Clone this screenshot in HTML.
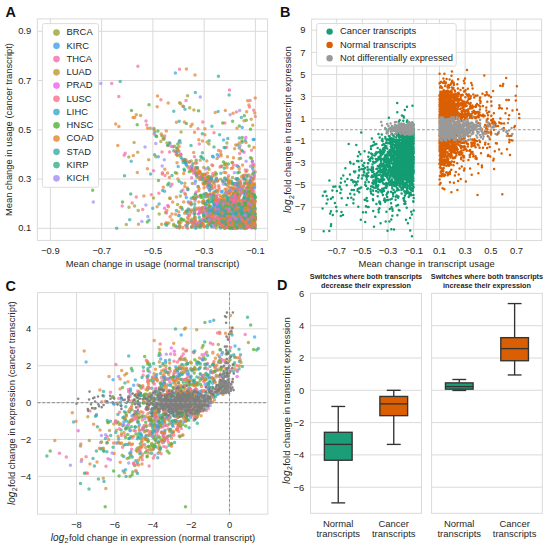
<!DOCTYPE html>
<html><head><meta charset="utf-8"><style>
html,body{margin:0;padding:0;background:#fff;width:550px;height:547px;overflow:hidden}
svg{display:block;font-family:"Liberation Sans", sans-serif}
</style></head><body>
<svg width="550" height="547" viewBox="0 0 550 547">
<rect width="550" height="547" fill="#fff"/>
<line x1="50.40" x2="50.40" y1="18.9" y2="240.4" stroke="#dadada" stroke-width="1"/>
<line x1="101.65" x2="101.65" y1="18.9" y2="240.4" stroke="#dadada" stroke-width="1"/>
<line x1="152.90" x2="152.90" y1="18.9" y2="240.4" stroke="#dadada" stroke-width="1"/>
<line x1="204.15" x2="204.15" y1="18.9" y2="240.4" stroke="#dadada" stroke-width="1"/>
<line x1="255.40" x2="255.40" y1="18.9" y2="240.4" stroke="#dadada" stroke-width="1"/>
<line x1="37.4" x2="267.6" y1="228.30" y2="228.30" stroke="#dadada" stroke-width="1"/>
<line x1="37.4" x2="267.6" y1="179.05" y2="179.05" stroke="#dadada" stroke-width="1"/>
<line x1="37.4" x2="267.6" y1="129.80" y2="129.80" stroke="#dadada" stroke-width="1"/>
<line x1="37.4" x2="267.6" y1="80.55" y2="80.55" stroke="#dadada" stroke-width="1"/>
<line x1="37.4" x2="267.6" y1="31.30" y2="31.30" stroke="#dadada" stroke-width="1"/>
<rect x="37.4" y="18.9" width="230.20" height="221.50" fill="none" stroke="#dadada" stroke-width="1"/>
<g>
<path d="M207.8 214.6h0M205.0 182.6h0M194.7 207.8h0M244.2 200.0h0M204.4 183.9h0M253.7 215.0h0M245.1 219.9h0M251.9 218.9h0M218.8 210.4h0M254.0 139.5h0" stroke="#34af8a" stroke-width="3.5" stroke-linecap="round" fill="none" stroke-opacity="0.72"/>
<path d="M233.7 198.3h0M247.2 206.3h0M210.5 194.5h0M203.6 158.9h0M254.3 203.7h0M250.8 222.5h0M254.0 224.7h0M241.4 117.6h0M208.6 207.8h0M255.3 228.2h0" stroke="#36ada4" stroke-width="3.5" stroke-linecap="round" fill="none" stroke-opacity="0.72"/>
<path d="M231.6 209.8h0M195.0 201.1h0M237.1 225.5h0M243.4 224.7h0M228.2 217.6h0" stroke="#f77189" stroke-width="3.5" stroke-linecap="round" fill="none" stroke-opacity="0.72"/>
<path d="M171.9 219.9h0M254.4 176.0h0M198.8 190.7h0M249.9 204.4h0M189.4 215.6h0M192.5 223.5h0M228.6 180.5h0M247.7 100.8h0M183.7 202.0h0M198.1 224.7h0M244.0 120.8h0M244.3 190.6h0M232.5 227.7h0" stroke="#e68332" stroke-width="3.5" stroke-linecap="round" fill="none" stroke-opacity="0.72"/>
<path d="M255.2 213.9h0M239.3 126.0h0M254.3 207.0h0M252.6 204.5h0" stroke="#50b131" stroke-width="3.5" stroke-linecap="round" fill="none" stroke-opacity="0.72"/>
<path d="M213.2 209.3h0M239.4 204.6h0M236.2 196.9h0" stroke="#97a431" stroke-width="3.5" stroke-linecap="round" fill="none" stroke-opacity="0.72"/>
<path d="M248.8 193.0h0M244.3 214.0h0M237.9 198.4h0M236.1 211.5h0M252.9 207.9h0" stroke="#f66bad" stroke-width="3.5" stroke-linecap="round" fill="none" stroke-opacity="0.72"/>
<path d="M245.8 193.6h0M205.8 180.6h0M245.9 183.3h0" stroke="#a48cf4" stroke-width="3.5" stroke-linecap="round" fill="none" stroke-opacity="0.72"/>
<path d="M200.2 160.3h0M195.5 220.3h0" stroke="#bb9832" stroke-width="3.5" stroke-linecap="round" fill="none" stroke-opacity="0.72"/>
<path d="M247.0 202.9h0M222.6 221.8h0" stroke="#f45cf2" stroke-width="3.5" stroke-linecap="round" fill="none" stroke-opacity="0.72"/>
<path d="M225.4 147.8h0M218.6 218.3h0M222.6 200.3h0" stroke="#3ba3ec" stroke-width="3.5" stroke-linecap="round" fill="none" stroke-opacity="0.72"/>
<path d="M245.4 194.8h0M233.5 203.4h0M209.3 210.2h0M234.9 200.1h0M218.9 207.4h0" stroke="#36ada4" stroke-width="3.5" stroke-linecap="round" fill="none" stroke-opacity="0.72"/>
<path d="M244.1 222.7h0M234.4 172.8h0M170.6 186.2h0" stroke="#a48cf4" stroke-width="3.5" stroke-linecap="round" fill="none" stroke-opacity="0.72"/>
<path d="M250.5 197.1h0M211.7 218.6h0M244.1 220.2h0M207.5 173.1h0M254.6 186.1h0M245.8 227.2h0M249.5 221.7h0M243.4 219.3h0M242.2 205.0h0M224.3 200.3h0M201.4 222.7h0M199.9 220.6h0M246.8 209.9h0" stroke="#e68332" stroke-width="3.5" stroke-linecap="round" fill="none" stroke-opacity="0.72"/>
<path d="M252.7 214.4h0M164.8 136.0h0M203.7 216.2h0M176.3 154.4h0M217.7 206.1h0M209.7 209.1h0M234.8 226.9h0" stroke="#f77189" stroke-width="3.5" stroke-linecap="round" fill="none" stroke-opacity="0.72"/>
<path d="M187.1 213.6h0M218.8 204.3h0M253.3 198.0h0M216.9 218.4h0M240.6 211.4h0M249.0 201.1h0" stroke="#38a9c5" stroke-width="3.5" stroke-linecap="round" fill="none" stroke-opacity="0.72"/>
<path d="M182.1 159.0h0M192.0 226.6h0M241.4 221.3h0M223.5 207.9h0M250.4 208.8h0" stroke="#3ba3ec" stroke-width="3.5" stroke-linecap="round" fill="none" stroke-opacity="0.72"/>
<path d="M235.3 212.1h0M157.9 131.0h0" stroke="#50b131" stroke-width="3.5" stroke-linecap="round" fill="none" stroke-opacity="0.72"/>
<path d="M246.6 192.4h0M251.8 223.7h0M218.7 185.8h0M184.8 161.0h0M227.5 202.7h0" stroke="#f66bad" stroke-width="3.5" stroke-linecap="round" fill="none" stroke-opacity="0.72"/>
<path d="M230.9 214.8h0M232.5 177.5h0M244.4 227.8h0" stroke="#97a431" stroke-width="3.5" stroke-linecap="round" fill="none" stroke-opacity="0.72"/>
<path d="M253.7 202.3h0M239.2 221.2h0M173.8 150.7h0M228.3 164.0h0M249.3 200.8h0M211.0 206.4h0" stroke="#34af8a" stroke-width="3.5" stroke-linecap="round" fill="none" stroke-opacity="0.72"/>
<path d="M148.7 159.7h0" stroke="#bb9832" stroke-width="3.5" stroke-linecap="round" fill="none" stroke-opacity="0.72"/>
<path d="M243.5 186.2h0M227.5 221.7h0M184.2 160.6h0M245.1 225.5h0" stroke="#f45cf2" stroke-width="3.5" stroke-linecap="round" fill="none" stroke-opacity="0.72"/>
<path d="M236.0 213.3h0M252.9 202.7h0M211.7 212.6h0M244.0 199.1h0M250.1 180.8h0M240.4 185.9h0M206.6 180.9h0M231.5 214.6h0M254.0 199.3h0M221.0 226.6h0" stroke="#f77189" stroke-width="3.5" stroke-linecap="round" fill="none" stroke-opacity="0.72"/>
<path d="M227.0 210.0h0M215.5 214.4h0M230.0 225.3h0M179.3 141.6h0M191.1 170.5h0M183.5 106.4h0M214.9 191.4h0M210.1 216.1h0M216.1 225.7h0" stroke="#36ada4" stroke-width="3.5" stroke-linecap="round" fill="none" stroke-opacity="0.72"/>
<path d="M250.4 196.6h0M250.1 202.8h0M255.2 209.4h0M240.7 181.8h0M208.9 143.9h0" stroke="#97a431" stroke-width="3.5" stroke-linecap="round" fill="none" stroke-opacity="0.72"/>
<path d="M235.6 209.4h0M137.7 152.2h0M229.4 190.5h0M230.6 183.5h0M214.1 223.0h0" stroke="#bb9832" stroke-width="3.5" stroke-linecap="round" fill="none" stroke-opacity="0.72"/>
<path d="M225.9 179.3h0M164.3 159.8h0M178.5 215.8h0" stroke="#a48cf4" stroke-width="3.5" stroke-linecap="round" fill="none" stroke-opacity="0.72"/>
<path d="M225.9 219.6h0M249.1 222.7h0M236.1 222.2h0M184.5 170.6h0M241.0 210.7h0M237.8 172.7h0M224.6 215.5h0M225.7 201.8h0M233.2 209.9h0" stroke="#34af8a" stroke-width="3.5" stroke-linecap="round" fill="none" stroke-opacity="0.72"/>
<path d="M219.0 218.0h0M219.4 216.1h0M207.4 221.1h0M220.4 204.6h0M250.1 193.8h0M234.1 211.6h0M237.3 184.9h0M188.8 222.8h0" stroke="#e68332" stroke-width="3.5" stroke-linecap="round" fill="none" stroke-opacity="0.72"/>
<path d="M254.0 220.4h0M181.6 207.6h0M185.0 161.9h0M253.4 222.5h0" stroke="#50b131" stroke-width="3.5" stroke-linecap="round" fill="none" stroke-opacity="0.72"/>
<path d="M196.7 163.1h0" stroke="#f45cf2" stroke-width="3.5" stroke-linecap="round" fill="none" stroke-opacity="0.72"/>
<path d="M229.5 90.0h0M154.2 134.1h0M209.1 184.4h0" stroke="#f66bad" stroke-width="3.5" stroke-linecap="round" fill="none" stroke-opacity="0.72"/>
<path d="M249.5 201.2h0M245.2 202.5h0M231.9 226.7h0" stroke="#3ba3ec" stroke-width="3.5" stroke-linecap="round" fill="none" stroke-opacity="0.72"/>
<path d="M222.8 196.6h0M187.8 211.5h0M201.9 157.6h0M221.3 226.2h0M217.2 199.2h0M199.1 226.9h0M206.2 180.9h0M234.0 224.3h0M194.9 219.1h0M205.4 196.9h0M238.1 209.2h0M194.7 204.2h0M239.1 183.7h0" stroke="#34af8a" stroke-width="3.5" stroke-linecap="round" fill="none" stroke-opacity="0.72"/>
<path d="M232.2 206.4h0M249.8 209.3h0M250.9 188.2h0M163.7 139.3h0M241.9 140.7h0M231.8 228.0h0M233.0 193.9h0" stroke="#97a431" stroke-width="3.5" stroke-linecap="round" fill="none" stroke-opacity="0.72"/>
<path d="M162.3 174.1h0M228.4 197.8h0M251.6 219.4h0M180.8 222.5h0M184.9 183.2h0M163.3 187.2h0M246.1 171.8h0M205.0 180.4h0M236.3 200.9h0M233.9 201.5h0M231.8 215.9h0M254.4 227.5h0" stroke="#e68332" stroke-width="3.5" stroke-linecap="round" fill="none" stroke-opacity="0.72"/>
<path d="M220.0 202.0h0M244.1 152.3h0" stroke="#f45cf2" stroke-width="3.5" stroke-linecap="round" fill="none" stroke-opacity="0.72"/>
<path d="M209.4 176.6h0M253.5 191.1h0" stroke="#f66bad" stroke-width="3.5" stroke-linecap="round" fill="none" stroke-opacity="0.72"/>
<path d="M228.7 215.7h0M179.2 121.3h0" stroke="#36ada4" stroke-width="3.5" stroke-linecap="round" fill="none" stroke-opacity="0.72"/>
<path d="M241.6 208.1h0M211.3 178.8h0M246.3 120.2h0M186.3 123.4h0M253.4 209.1h0M215.6 206.7h0M248.7 219.6h0M245.1 201.1h0M158.5 227.4h0M207.7 176.6h0" stroke="#50b131" stroke-width="3.5" stroke-linecap="round" fill="none" stroke-opacity="0.72"/>
<path d="M237.8 196.5h0M245.8 215.4h0M241.4 212.6h0" stroke="#a48cf4" stroke-width="3.5" stroke-linecap="round" fill="none" stroke-opacity="0.72"/>
<path d="M215.0 219.3h0M192.2 166.1h0M231.4 207.7h0M202.8 122.1h0M249.7 224.2h0M240.6 218.8h0" stroke="#f77189" stroke-width="3.5" stroke-linecap="round" fill="none" stroke-opacity="0.72"/>
<path d="M237.7 204.0h0" stroke="#38a9c5" stroke-width="3.5" stroke-linecap="round" fill="none" stroke-opacity="0.72"/>
<path d="M214.7 175.1h0M246.4 223.6h0" stroke="#bb9832" stroke-width="3.5" stroke-linecap="round" fill="none" stroke-opacity="0.72"/>
<path d="M246.9 225.2h0M192.9 163.7h0M253.5 210.9h0M249.9 193.2h0M223.9 222.2h0M240.0 226.7h0M252.9 204.7h0M234.1 183.8h0M227.4 200.3h0M233.8 193.6h0M203.8 183.2h0" stroke="#34af8a" stroke-width="3.5" stroke-linecap="round" fill="none" stroke-opacity="0.72"/>
<path d="M242.7 189.1h0M235.7 193.7h0M255.0 212.8h0M244.7 192.9h0M253.9 218.5h0M254.8 212.8h0M243.6 228.2h0M207.2 201.2h0M226.7 208.7h0" stroke="#e68332" stroke-width="3.5" stroke-linecap="round" fill="none" stroke-opacity="0.72"/>
<path d="M193.2 198.1h0M239.3 148.0h0M252.6 168.2h0M234.3 218.3h0M252.9 206.0h0" stroke="#36ada4" stroke-width="3.5" stroke-linecap="round" fill="none" stroke-opacity="0.72"/>
<path d="M209.1 195.1h0M218.1 208.5h0M243.4 225.4h0M232.6 121.2h0M253.4 212.6h0M217.2 211.4h0M131.5 110.6h0" stroke="#50b131" stroke-width="3.5" stroke-linecap="round" fill="none" stroke-opacity="0.72"/>
<path d="M195.6 173.6h0M245.5 201.8h0M224.7 202.3h0M253.8 207.4h0M205.1 215.7h0M243.1 219.1h0M175.2 151.7h0M252.5 209.6h0M251.8 228.1h0" stroke="#f77189" stroke-width="3.5" stroke-linecap="round" fill="none" stroke-opacity="0.72"/>
<path d="M197.9 196.4h0M249.9 220.4h0" stroke="#f66bad" stroke-width="3.5" stroke-linecap="round" fill="none" stroke-opacity="0.72"/>
<path d="M251.0 194.9h0M245.9 211.3h0M173.7 224.2h0M204.0 202.9h0M217.7 180.2h0" stroke="#97a431" stroke-width="3.5" stroke-linecap="round" fill="none" stroke-opacity="0.72"/>
<path d="M243.6 200.6h0" stroke="#f45cf2" stroke-width="3.5" stroke-linecap="round" fill="none" stroke-opacity="0.72"/>
<path d="M223.4 203.6h0M232.7 207.8h0M213.6 203.8h0M226.5 217.5h0M238.2 217.3h0" stroke="#38a9c5" stroke-width="3.5" stroke-linecap="round" fill="none" stroke-opacity="0.72"/>
<path d="M245.9 210.6h0" stroke="#bb9832" stroke-width="3.5" stroke-linecap="round" fill="none" stroke-opacity="0.72"/>
<path d="M251.4 209.1h0M253.4 213.0h0M224.1 220.5h0" stroke="#a48cf4" stroke-width="3.5" stroke-linecap="round" fill="none" stroke-opacity="0.72"/>
<path d="M252.1 188.2h0M253.4 213.3h0" stroke="#3ba3ec" stroke-width="3.5" stroke-linecap="round" fill="none" stroke-opacity="0.72"/>
<path d="M249.2 217.6h0M212.1 181.2h0M243.6 175.8h0M220.8 153.9h0M235.3 225.3h0" stroke="#bb9832" stroke-width="3.5" stroke-linecap="round" fill="none" stroke-opacity="0.72"/>
<path d="M250.4 219.5h0M153.9 128.4h0M225.6 196.0h0M162.6 190.4h0M253.8 225.2h0" stroke="#38a9c5" stroke-width="3.5" stroke-linecap="round" fill="none" stroke-opacity="0.72"/>
<path d="M238.3 209.1h0M201.5 178.7h0M118.9 126.6h0M248.1 195.2h0M251.5 221.5h0M198.8 202.0h0M245.9 227.8h0M232.9 221.1h0M220.6 222.1h0M176.4 196.9h0M240.6 212.2h0M203.4 211.0h0" stroke="#e68332" stroke-width="3.5" stroke-linecap="round" fill="none" stroke-opacity="0.72"/>
<path d="M253.0 184.7h0M159.2 213.9h0" stroke="#97a431" stroke-width="3.5" stroke-linecap="round" fill="none" stroke-opacity="0.72"/>
<path d="M246.9 226.5h0M234.7 208.3h0M179.8 140.8h0M244.4 210.8h0M229.1 221.6h0M247.6 190.9h0M214.7 205.2h0M230.3 215.1h0M181.2 218.7h0M243.7 220.9h0M189.6 161.8h0" stroke="#34af8a" stroke-width="3.5" stroke-linecap="round" fill="none" stroke-opacity="0.72"/>
<path d="M223.7 214.1h0M212.1 226.6h0M249.2 185.1h0M244.8 179.8h0M243.5 211.4h0" stroke="#f66bad" stroke-width="3.5" stroke-linecap="round" fill="none" stroke-opacity="0.72"/>
<path d="M241.7 212.1h0M230.5 216.4h0M253.2 210.4h0M246.4 222.5h0M210.0 222.2h0" stroke="#f77189" stroke-width="3.5" stroke-linecap="round" fill="none" stroke-opacity="0.72"/>
<path d="M253.7 177.9h0M232.7 207.6h0" stroke="#f45cf2" stroke-width="3.5" stroke-linecap="round" fill="none" stroke-opacity="0.72"/>
<path d="M213.5 207.0h0M226.1 220.2h0M244.0 206.3h0M231.4 197.0h0" stroke="#3ba3ec" stroke-width="3.5" stroke-linecap="round" fill="none" stroke-opacity="0.72"/>
<path d="M164.1 138.3h0M226.6 211.7h0M213.7 200.9h0M228.0 196.9h0M235.4 184.5h0M202.1 176.3h0" stroke="#36ada4" stroke-width="3.5" stroke-linecap="round" fill="none" stroke-opacity="0.72"/>
<path d="M232.1 162.4h0" stroke="#50b131" stroke-width="3.5" stroke-linecap="round" fill="none" stroke-opacity="0.72"/>
<path d="M147.8 216.6h0M190.7 202.0h0" stroke="#a48cf4" stroke-width="3.5" stroke-linecap="round" fill="none" stroke-opacity="0.72"/>
<path d="M136.3 114.7h0M235.7 222.0h0M203.7 167.5h0M251.2 119.3h0" stroke="#bb9832" stroke-width="3.5" stroke-linecap="round" fill="none" stroke-opacity="0.72"/>
<path d="M246.1 217.0h0M213.3 216.2h0M205.8 208.7h0M219.9 217.0h0M254.5 195.5h0M247.6 193.3h0" stroke="#f66bad" stroke-width="3.5" stroke-linecap="round" fill="none" stroke-opacity="0.72"/>
<path d="M202.3 202.0h0M240.1 226.9h0M245.2 207.3h0M187.2 222.3h0M245.2 194.4h0M246.5 209.5h0M211.0 222.2h0M241.5 189.5h0" stroke="#34af8a" stroke-width="3.5" stroke-linecap="round" fill="none" stroke-opacity="0.72"/>
<path d="M251.1 227.4h0M212.4 188.6h0M201.7 178.3h0" stroke="#a48cf4" stroke-width="3.5" stroke-linecap="round" fill="none" stroke-opacity="0.72"/>
<path d="M234.5 205.0h0M211.2 210.4h0M209.3 215.2h0M221.9 206.5h0M208.3 203.8h0M254.9 215.5h0M232.9 226.3h0M226.4 192.0h0M235.5 208.6h0" stroke="#f77189" stroke-width="3.5" stroke-linecap="round" fill="none" stroke-opacity="0.72"/>
<path d="M247.2 216.6h0M250.9 208.5h0M245.2 220.1h0" stroke="#38a9c5" stroke-width="3.5" stroke-linecap="round" fill="none" stroke-opacity="0.72"/>
<path d="M254.2 219.3h0M244.2 210.6h0M254.3 226.7h0M204.9 128.8h0M161.6 224.2h0M225.8 213.2h0M249.7 209.7h0M229.8 225.0h0" stroke="#e68332" stroke-width="3.5" stroke-linecap="round" fill="none" stroke-opacity="0.72"/>
<path d="M250.4 191.7h0" stroke="#f45cf2" stroke-width="3.5" stroke-linecap="round" fill="none" stroke-opacity="0.72"/>
<path d="M237.5 219.9h0M217.1 217.3h0M249.1 211.4h0M223.8 204.2h0" stroke="#97a431" stroke-width="3.5" stroke-linecap="round" fill="none" stroke-opacity="0.72"/>
<path d="M206.9 180.5h0M248.6 214.4h0M234.0 211.0h0M212.5 156.2h0M209.0 180.6h0M223.0 210.5h0M240.5 204.2h0M216.2 202.3h0M248.2 212.1h0" stroke="#36ada4" stroke-width="3.5" stroke-linecap="round" fill="none" stroke-opacity="0.72"/>
<path d="M221.1 225.7h0" stroke="#3ba3ec" stroke-width="3.5" stroke-linecap="round" fill="none" stroke-opacity="0.72"/>
<path d="M250.1 180.5h0M237.2 218.3h0M244.7 191.5h0M240.2 224.6h0" stroke="#50b131" stroke-width="3.5" stroke-linecap="round" fill="none" stroke-opacity="0.72"/>
<path d="M229.1 202.4h0M243.8 213.1h0M249.1 224.4h0M238.7 209.9h0M231.6 181.5h0M236.0 226.0h0M223.0 218.8h0M229.6 204.0h0M229.0 221.8h0M173.1 146.7h0M248.3 187.2h0" stroke="#34af8a" stroke-width="3.5" stroke-linecap="round" fill="none" stroke-opacity="0.72"/>
<path d="M248.8 221.6h0M248.8 203.8h0M246.3 211.8h0M228.6 175.7h0M208.8 218.8h0M214.5 219.6h0M215.0 211.8h0" stroke="#f77189" stroke-width="3.5" stroke-linecap="round" fill="none" stroke-opacity="0.72"/>
<path d="M248.9 197.0h0M253.9 214.3h0M211.9 126.2h0M250.4 202.4h0" stroke="#36ada4" stroke-width="3.5" stroke-linecap="round" fill="none" stroke-opacity="0.72"/>
<path d="M228.0 177.8h0M168.3 145.5h0M209.9 218.2h0M178.8 211.9h0M228.4 186.2h0M199.7 222.2h0M211.5 185.6h0M177.9 178.9h0M220.3 203.5h0" stroke="#e68332" stroke-width="3.5" stroke-linecap="round" fill="none" stroke-opacity="0.72"/>
<path d="M223.3 222.7h0M209.9 224.5h0" stroke="#f45cf2" stroke-width="3.5" stroke-linecap="round" fill="none" stroke-opacity="0.72"/>
<path d="M229.7 191.9h0M226.5 198.2h0M199.6 212.3h0M235.8 184.2h0M233.9 211.6h0M255.3 218.1h0M247.2 220.4h0" stroke="#97a431" stroke-width="3.5" stroke-linecap="round" fill="none" stroke-opacity="0.72"/>
<path d="M216.9 208.5h0M209.2 182.7h0M152.7 208.2h0M249.5 212.6h0" stroke="#38a9c5" stroke-width="3.5" stroke-linecap="round" fill="none" stroke-opacity="0.72"/>
<path d="M248.3 219.7h0M146.0 120.9h0M212.8 173.5h0M249.9 209.8h0M243.2 177.1h0M205.2 174.3h0M228.4 222.1h0M217.2 198.6h0" stroke="#f66bad" stroke-width="3.5" stroke-linecap="round" fill="none" stroke-opacity="0.72"/>
<path d="M250.9 190.4h0M196.5 225.7h0" stroke="#bb9832" stroke-width="3.5" stroke-linecap="round" fill="none" stroke-opacity="0.72"/>
<path d="M229.0 191.6h0M240.6 158.3h0" stroke="#3ba3ec" stroke-width="3.5" stroke-linecap="round" fill="none" stroke-opacity="0.72"/>
<path d="M246.2 188.0h0M167.8 184.8h0M202.5 197.4h0" stroke="#50b131" stroke-width="3.5" stroke-linecap="round" fill="none" stroke-opacity="0.72"/>
<path d="M240.8 218.9h0" stroke="#a48cf4" stroke-width="3.5" stroke-linecap="round" fill="none" stroke-opacity="0.72"/>
<path d="M254.6 223.0h0M211.7 226.8h0M206.8 211.0h0M238.8 213.1h0M227.5 224.4h0M246.5 215.7h0M248.2 186.7h0" stroke="#36ada4" stroke-width="3.5" stroke-linecap="round" fill="none" stroke-opacity="0.72"/>
<path d="M228.7 217.0h0M235.8 224.9h0M253.4 206.2h0M194.9 223.7h0M209.4 221.4h0M134.7 117.4h0M244.2 211.8h0M180.3 207.3h0M243.9 213.1h0M187.8 166.8h0M177.0 227.3h0M166.3 131.1h0M209.1 188.1h0M172.0 214.1h0M240.5 183.5h0M253.9 147.6h0M210.1 213.7h0M254.7 224.2h0M243.2 216.4h0" stroke="#e68332" stroke-width="3.5" stroke-linecap="round" fill="none" stroke-opacity="0.72"/>
<path d="M177.2 154.7h0" stroke="#38a9c5" stroke-width="3.5" stroke-linecap="round" fill="none" stroke-opacity="0.72"/>
<path d="M136.3 196.9h0M245.9 217.7h0M230.6 192.0h0M197.2 208.3h0M240.0 216.9h0M237.0 198.4h0M223.4 213.3h0M160.9 99.7h0M226.8 185.0h0" stroke="#f77189" stroke-width="3.5" stroke-linecap="round" fill="none" stroke-opacity="0.72"/>
<path d="M194.9 213.7h0M250.8 207.7h0M243.6 217.1h0M219.8 223.3h0M253.0 205.0h0M154.6 154.7h0M236.7 203.3h0M243.7 222.7h0" stroke="#34af8a" stroke-width="3.5" stroke-linecap="round" fill="none" stroke-opacity="0.72"/>
<path d="M228.2 223.6h0M198.5 174.0h0M229.3 206.0h0M161.9 135.7h0M147.3 222.1h0M206.7 177.9h0" stroke="#50b131" stroke-width="3.5" stroke-linecap="round" fill="none" stroke-opacity="0.72"/>
<path d="M231.0 221.7h0M210.9 179.4h0" stroke="#f45cf2" stroke-width="3.5" stroke-linecap="round" fill="none" stroke-opacity="0.72"/>
<path d="M240.5 201.4h0M244.7 225.6h0M243.3 214.4h0" stroke="#bb9832" stroke-width="3.5" stroke-linecap="round" fill="none" stroke-opacity="0.72"/>
<path d="M182.7 220.1h0" stroke="#97a431" stroke-width="3.5" stroke-linecap="round" fill="none" stroke-opacity="0.72"/>
<path d="M224.5 182.2h0M145.9 205.1h0" stroke="#a48cf4" stroke-width="3.5" stroke-linecap="round" fill="none" stroke-opacity="0.72"/>
<path d="M197.1 173.2h0" stroke="#f66bad" stroke-width="3.5" stroke-linecap="round" fill="none" stroke-opacity="0.72"/>
<path d="M236.5 222.3h0" stroke="#3ba3ec" stroke-width="3.5" stroke-linecap="round" fill="none" stroke-opacity="0.72"/>
<path d="M214.2 223.4h0M226.5 195.3h0M232.8 214.4h0M207.6 180.8h0" stroke="#38a9c5" stroke-width="3.5" stroke-linecap="round" fill="none" stroke-opacity="0.72"/>
<path d="M204.1 194.2h0M204.4 174.6h0M165.5 212.4h0M223.5 216.0h0M209.6 223.9h0" stroke="#97a431" stroke-width="3.5" stroke-linecap="round" fill="none" stroke-opacity="0.72"/>
<path d="M169.6 152.0h0M224.9 123.0h0M192.5 169.9h0M241.7 210.4h0M225.9 212.2h0" stroke="#f77189" stroke-width="3.5" stroke-linecap="round" fill="none" stroke-opacity="0.72"/>
<path d="M233.6 194.5h0M141.9 221.5h0M245.3 196.0h0M242.1 226.1h0M246.6 189.1h0M250.1 223.1h0M223.8 212.6h0" stroke="#a48cf4" stroke-width="3.5" stroke-linecap="round" fill="none" stroke-opacity="0.72"/>
<path d="M241.3 150.2h0M117.8 145.6h0M237.9 198.4h0M182.7 227.5h0M244.2 201.9h0M222.5 209.3h0M191.6 169.1h0M216.2 223.9h0M235.0 226.5h0M177.5 155.6h0M227.8 208.9h0M206.8 161.0h0M230.4 204.4h0" stroke="#e68332" stroke-width="3.5" stroke-linecap="round" fill="none" stroke-opacity="0.72"/>
<path d="M203.9 216.1h0M184.0 219.9h0M244.1 201.0h0M246.3 223.5h0M244.0 228.0h0M245.7 228.0h0" stroke="#50b131" stroke-width="3.5" stroke-linecap="round" fill="none" stroke-opacity="0.72"/>
<path d="M224.0 211.6h0M247.7 217.5h0M215.0 210.8h0M249.0 203.2h0M242.5 218.4h0M236.8 196.2h0" stroke="#34af8a" stroke-width="3.5" stroke-linecap="round" fill="none" stroke-opacity="0.72"/>
<path d="M231.8 197.0h0M225.9 222.1h0" stroke="#3ba3ec" stroke-width="3.5" stroke-linecap="round" fill="none" stroke-opacity="0.72"/>
<path d="M228.7 227.7h0M249.6 204.1h0M125.2 153.3h0M247.4 184.5h0" stroke="#f66bad" stroke-width="3.5" stroke-linecap="round" fill="none" stroke-opacity="0.72"/>
<path d="M236.9 213.7h0M239.1 203.9h0M184.6 213.2h0M208.4 219.6h0M174.6 146.2h0M209.1 223.6h0" stroke="#bb9832" stroke-width="3.5" stroke-linecap="round" fill="none" stroke-opacity="0.72"/>
<path d="M250.0 220.3h0" stroke="#36ada4" stroke-width="3.5" stroke-linecap="round" fill="none" stroke-opacity="0.72"/>
<path d="M243.8 200.1h0" stroke="#f45cf2" stroke-width="3.5" stroke-linecap="round" fill="none" stroke-opacity="0.72"/>
<path d="M252.9 221.2h0M221.9 216.7h0M213.5 209.6h0M167.0 223.6h0M205.8 208.2h0M229.3 223.3h0M214.9 224.3h0M248.0 222.3h0M226.0 227.1h0M218.6 150.5h0M236.5 226.5h0M185.6 211.7h0M252.6 188.8h0M214.3 194.3h0M167.6 172.9h0" stroke="#e68332" stroke-width="3.5" stroke-linecap="round" fill="none" stroke-opacity="0.72"/>
<path d="M252.3 223.2h0M234.3 195.2h0M233.4 164.9h0M235.1 211.6h0M231.0 219.0h0M211.3 216.6h0M205.6 179.0h0M142.7 209.6h0" stroke="#f77189" stroke-width="3.5" stroke-linecap="round" fill="none" stroke-opacity="0.72"/>
<path d="M249.2 191.3h0M227.2 209.3h0M165.4 224.2h0M184.0 169.2h0M251.1 207.0h0M233.1 214.5h0" stroke="#34af8a" stroke-width="3.5" stroke-linecap="round" fill="none" stroke-opacity="0.72"/>
<path d="M206.5 221.7h0M237.6 221.2h0M232.4 199.8h0M242.2 137.5h0M237.7 192.0h0M249.1 145.9h0M236.2 195.9h0M225.9 227.9h0" stroke="#50b131" stroke-width="3.5" stroke-linecap="round" fill="none" stroke-opacity="0.72"/>
<path d="M185.0 109.3h0M247.6 206.0h0M178.2 166.5h0" stroke="#38a9c5" stroke-width="3.5" stroke-linecap="round" fill="none" stroke-opacity="0.72"/>
<path d="M214.7 182.2h0M238.1 189.4h0" stroke="#f45cf2" stroke-width="3.5" stroke-linecap="round" fill="none" stroke-opacity="0.72"/>
<path d="M122.2 206.0h0M238.6 213.8h0M208.9 216.8h0M254.5 210.8h0M252.1 227.5h0M230.6 225.7h0M254.8 219.5h0" stroke="#f66bad" stroke-width="3.5" stroke-linecap="round" fill="none" stroke-opacity="0.72"/>
<path d="M244.3 219.7h0M208.3 199.9h0M196.3 227.8h0M191.2 161.0h0" stroke="#bb9832" stroke-width="3.5" stroke-linecap="round" fill="none" stroke-opacity="0.72"/>
<path d="M244.6 198.1h0M233.4 205.3h0" stroke="#36ada4" stroke-width="3.5" stroke-linecap="round" fill="none" stroke-opacity="0.72"/>
<path d="M186.3 197.5h0" stroke="#3ba3ec" stroke-width="3.5" stroke-linecap="round" fill="none" stroke-opacity="0.72"/>
<path d="M134.6 205.9h0M224.8 212.3h0M179.3 228.0h0" stroke="#97a431" stroke-width="3.5" stroke-linecap="round" fill="none" stroke-opacity="0.72"/>
<path d="M211.6 209.5h0" stroke="#a48cf4" stroke-width="3.5" stroke-linecap="round" fill="none" stroke-opacity="0.72"/>
<path d="M182.2 209.2h0M202.8 207.8h0M250.6 215.3h0M222.1 208.3h0M241.4 222.8h0M154.8 132.0h0M244.7 210.5h0M230.0 199.2h0" stroke="#36ada4" stroke-width="3.5" stroke-linecap="round" fill="none" stroke-opacity="0.72"/>
<path d="M149.0 104.8h0M224.7 164.8h0M238.6 221.2h0M223.9 204.0h0M249.6 225.6h0M246.3 212.9h0M200.9 195.2h0M237.8 179.2h0" stroke="#50b131" stroke-width="3.5" stroke-linecap="round" fill="none" stroke-opacity="0.72"/>
<path d="M238.4 223.8h0M184.8 186.6h0M218.0 214.0h0M235.9 206.8h0M176.9 173.2h0M254.3 183.8h0M194.5 218.8h0M243.5 205.3h0M168.2 103.0h0M180.0 154.9h0M192.2 124.3h0M175.6 214.3h0M248.9 105.1h0M199.8 171.7h0M232.1 225.0h0M247.0 170.2h0" stroke="#e68332" stroke-width="3.5" stroke-linecap="round" fill="none" stroke-opacity="0.72"/>
<path d="M227.9 203.3h0M239.4 212.2h0" stroke="#bb9832" stroke-width="3.5" stroke-linecap="round" fill="none" stroke-opacity="0.72"/>
<path d="M252.6 212.4h0M180.2 142.7h0M215.9 209.0h0" stroke="#a48cf4" stroke-width="3.5" stroke-linecap="round" fill="none" stroke-opacity="0.72"/>
<path d="M244.2 208.0h0M159.1 203.9h0M235.8 198.4h0" stroke="#38a9c5" stroke-width="3.5" stroke-linecap="round" fill="none" stroke-opacity="0.72"/>
<path d="M249.1 223.0h0M155.9 136.0h0M191.2 204.7h0M251.8 224.5h0M246.4 227.9h0M249.7 205.8h0M237.6 145.1h0M253.9 218.5h0" stroke="#34af8a" stroke-width="3.5" stroke-linecap="round" fill="none" stroke-opacity="0.72"/>
<path d="M237.9 224.4h0M236.4 111.9h0M243.3 179.1h0M207.3 194.4h0M189.3 161.9h0M236.1 178.9h0" stroke="#f77189" stroke-width="3.5" stroke-linecap="round" fill="none" stroke-opacity="0.72"/>
<path d="M218.6 218.7h0M246.7 196.1h0M225.4 163.3h0" stroke="#97a431" stroke-width="3.5" stroke-linecap="round" fill="none" stroke-opacity="0.72"/>
<path d="M195.5 181.3h0" stroke="#3ba3ec" stroke-width="3.5" stroke-linecap="round" fill="none" stroke-opacity="0.72"/>
<path d="M189.2 209.8h0M246.4 194.0h0" stroke="#f66bad" stroke-width="3.5" stroke-linecap="round" fill="none" stroke-opacity="0.72"/>
<path d="M253.5 213.2h0M223.9 212.3h0M244.5 210.1h0M241.0 220.4h0M239.4 221.7h0M225.1 221.4h0M229.4 218.3h0M191.5 221.9h0M161.2 134.0h0M253.4 195.1h0M180.6 103.8h0M202.5 141.1h0M246.6 180.7h0M203.5 200.9h0M215.0 197.1h0M186.4 221.8h0M191.0 169.1h0" stroke="#e68332" stroke-width="3.5" stroke-linecap="round" fill="none" stroke-opacity="0.72"/>
<path d="M185.7 162.4h0M195.6 224.8h0M226.2 221.8h0" stroke="#38a9c5" stroke-width="3.5" stroke-linecap="round" fill="none" stroke-opacity="0.72"/>
<path d="M243.1 175.4h0M234.3 204.2h0" stroke="#bb9832" stroke-width="3.5" stroke-linecap="round" fill="none" stroke-opacity="0.72"/>
<path d="M252.4 161.2h0M246.4 199.0h0M178.9 151.3h0M238.0 213.0h0M250.6 214.3h0M228.6 226.0h0M194.7 217.0h0" stroke="#36ada4" stroke-width="3.5" stroke-linecap="round" fill="none" stroke-opacity="0.72"/>
<path d="M208.0 211.8h0M229.5 228.3h0M235.1 205.4h0M253.7 195.8h0M254.4 204.7h0M202.4 152.7h0M243.8 177.9h0M231.3 188.3h0M211.9 196.7h0M240.7 206.1h0" stroke="#34af8a" stroke-width="3.5" stroke-linecap="round" fill="none" stroke-opacity="0.72"/>
<path d="M244.6 225.9h0M254.2 220.0h0M221.1 204.0h0M216.2 228.1h0M253.9 220.3h0M252.7 221.7h0" stroke="#97a431" stroke-width="3.5" stroke-linecap="round" fill="none" stroke-opacity="0.72"/>
<path d="M233.2 208.4h0M221.8 215.6h0M226.6 147.3h0M185.6 225.6h0M250.6 209.2h0M244.1 228.1h0" stroke="#f77189" stroke-width="3.5" stroke-linecap="round" fill="none" stroke-opacity="0.72"/>
<path d="M221.2 216.8h0M228.6 210.0h0M248.5 226.8h0M242.4 193.1h0" stroke="#3ba3ec" stroke-width="3.5" stroke-linecap="round" fill="none" stroke-opacity="0.72"/>
<path d="M251.7 201.3h0M232.1 200.2h0" stroke="#f66bad" stroke-width="3.5" stroke-linecap="round" fill="none" stroke-opacity="0.72"/>
<path d="M249.4 220.4h0" stroke="#50b131" stroke-width="3.5" stroke-linecap="round" fill="none" stroke-opacity="0.72"/>
<path d="M239.7 110.6h0M169.9 143.7h0" stroke="#a48cf4" stroke-width="3.5" stroke-linecap="round" fill="none" stroke-opacity="0.72"/>
<path d="M168.9 183.3h0M230.7 222.6h0M226.4 216.5h0M249.7 201.0h0M243.1 226.9h0M248.3 217.4h0M180.9 157.2h0M239.6 194.4h0M194.4 221.8h0" stroke="#34af8a" stroke-width="3.5" stroke-linecap="round" fill="none" stroke-opacity="0.72"/>
<path d="M165.0 175.5h0M204.3 178.2h0M215.4 209.4h0M247.1 192.9h0M255.4 220.1h0M247.8 195.1h0" stroke="#f77189" stroke-width="3.5" stroke-linecap="round" fill="none" stroke-opacity="0.72"/>
<path d="M129.7 219.7h0M188.3 209.0h0M225.6 224.7h0M253.3 222.9h0M254.4 220.6h0M236.8 189.8h0M203.8 194.7h0M239.3 138.1h0" stroke="#36ada4" stroke-width="3.5" stroke-linecap="round" fill="none" stroke-opacity="0.72"/>
<path d="M252.8 125.2h0M254.0 193.7h0M223.6 218.3h0" stroke="#bb9832" stroke-width="3.5" stroke-linecap="round" fill="none" stroke-opacity="0.72"/>
<path d="M240.1 145.8h0M187.7 189.8h0" stroke="#a48cf4" stroke-width="3.5" stroke-linecap="round" fill="none" stroke-opacity="0.72"/>
<path d="M124.2 155.3h0M253.6 218.0h0M244.5 203.9h0M236.6 165.6h0M245.7 206.7h0M253.6 206.9h0M241.6 221.2h0" stroke="#f66bad" stroke-width="3.5" stroke-linecap="round" fill="none" stroke-opacity="0.72"/>
<path d="M223.3 223.3h0M242.7 220.3h0M243.8 216.4h0" stroke="#38a9c5" stroke-width="3.5" stroke-linecap="round" fill="none" stroke-opacity="0.72"/>
<path d="M128.8 157.0h0M213.5 193.6h0M196.4 197.3h0M155.8 156.8h0M126.3 224.5h0M246.5 205.2h0" stroke="#97a431" stroke-width="3.5" stroke-linecap="round" fill="none" stroke-opacity="0.72"/>
<path d="M200.7 211.5h0M115.7 123.9h0M251.6 218.4h0M221.2 220.4h0M253.6 217.8h0M241.2 224.6h0M215.5 211.9h0" stroke="#e68332" stroke-width="3.5" stroke-linecap="round" fill="none" stroke-opacity="0.72"/>
<path d="M209.0 179.1h0" stroke="#3ba3ec" stroke-width="3.5" stroke-linecap="round" fill="none" stroke-opacity="0.72"/>
<path d="M243.5 202.0h0" stroke="#f45cf2" stroke-width="3.5" stroke-linecap="round" fill="none" stroke-opacity="0.72"/>
<path d="M232.5 220.5h0M253.0 219.5h0M212.0 201.1h0M237.8 217.6h0M247.7 201.9h0M249.4 200.3h0M196.0 167.4h0" stroke="#50b131" stroke-width="3.5" stroke-linecap="round" fill="none" stroke-opacity="0.72"/>
<path d="M230.3 224.7h0M200.3 97.0h0M252.3 220.3h0M254.5 216.3h0" stroke="#a48cf4" stroke-width="3.5" stroke-linecap="round" fill="none" stroke-opacity="0.72"/>
<path d="M248.2 217.5h0M221.6 166.2h0M227.5 206.9h0M219.4 226.4h0M198.5 110.7h0M200.8 197.2h0" stroke="#50b131" stroke-width="3.5" stroke-linecap="round" fill="none" stroke-opacity="0.72"/>
<path d="M228.6 214.9h0M232.2 191.2h0M225.1 189.3h0M232.4 219.8h0M250.9 213.6h0M133.3 155.6h0M164.8 169.2h0M242.3 205.6h0M220.1 167.0h0M236.0 211.6h0M241.8 211.4h0M221.6 224.9h0M239.0 214.4h0M229.3 226.8h0M216.6 213.1h0" stroke="#e68332" stroke-width="3.5" stroke-linecap="round" fill="none" stroke-opacity="0.72"/>
<path d="M253.8 199.6h0M251.1 177.4h0M202.0 176.7h0M186.5 165.2h0M196.5 175.6h0" stroke="#36ada4" stroke-width="3.5" stroke-linecap="round" fill="none" stroke-opacity="0.72"/>
<path d="M253.6 178.7h0M189.8 220.2h0M239.2 225.6h0M253.7 219.8h0M253.4 212.7h0M214.0 132.8h0M246.0 203.7h0M209.9 182.9h0M181.1 154.8h0M201.5 208.8h0M252.5 194.4h0" stroke="#f77189" stroke-width="3.5" stroke-linecap="round" fill="none" stroke-opacity="0.72"/>
<path d="M224.3 210.0h0M228.5 183.0h0M138.2 210.5h0M196.3 224.4h0M252.0 208.6h0M220.6 223.9h0" stroke="#97a431" stroke-width="3.5" stroke-linecap="round" fill="none" stroke-opacity="0.72"/>
<path d="M224.0 225.4h0" stroke="#38a9c5" stroke-width="3.5" stroke-linecap="round" fill="none" stroke-opacity="0.72"/>
<path d="M216.1 205.8h0M111.7 83.6h0M217.4 180.9h0M214.2 211.6h0" stroke="#f66bad" stroke-width="3.5" stroke-linecap="round" fill="none" stroke-opacity="0.72"/>
<path d="M255.2 225.8h0M224.1 147.6h0M247.1 227.8h0M231.4 203.4h0" stroke="#34af8a" stroke-width="3.5" stroke-linecap="round" fill="none" stroke-opacity="0.72"/>
<path d="M237.1 221.9h0M134.1 142.5h0M201.7 226.1h0" stroke="#bb9832" stroke-width="3.5" stroke-linecap="round" fill="none" stroke-opacity="0.72"/>
<path d="M219.2 200.6h0" stroke="#3ba3ec" stroke-width="3.5" stroke-linecap="round" fill="none" stroke-opacity="0.72"/>
<path d="M208.1 167.8h0M195.4 225.5h0M240.8 225.6h0M252.1 219.6h0M218.4 76.2h0" stroke="#34af8a" stroke-width="3.5" stroke-linecap="round" fill="none" stroke-opacity="0.72"/>
<path d="M252.0 226.7h0M231.1 223.2h0M251.8 210.9h0M246.1 161.3h0M203.9 179.1h0" stroke="#a48cf4" stroke-width="3.5" stroke-linecap="round" fill="none" stroke-opacity="0.72"/>
<path d="M246.7 206.4h0M234.9 204.9h0M244.6 226.7h0M243.8 226.9h0M223.5 214.6h0M218.8 221.9h0" stroke="#97a431" stroke-width="3.5" stroke-linecap="round" fill="none" stroke-opacity="0.72"/>
<path d="M231.8 209.3h0M253.0 210.9h0M211.3 186.0h0M234.0 209.2h0M227.3 212.4h0M232.8 210.8h0M195.6 194.3h0M225.8 201.8h0M245.5 210.9h0" stroke="#f77189" stroke-width="3.5" stroke-linecap="round" fill="none" stroke-opacity="0.72"/>
<path d="M226.9 205.5h0M247.6 223.0h0M216.4 196.6h0M233.8 194.3h0M250.5 157.7h0M238.3 216.8h0M196.2 160.3h0M244.4 115.7h0M226.4 222.4h0" stroke="#50b131" stroke-width="3.5" stroke-linecap="round" fill="none" stroke-opacity="0.72"/>
<path d="M194.7 210.9h0M248.9 211.8h0M237.9 218.9h0M228.5 193.2h0" stroke="#f66bad" stroke-width="3.5" stroke-linecap="round" fill="none" stroke-opacity="0.72"/>
<path d="M251.4 196.5h0M232.5 184.3h0M246.0 142.6h0M242.6 165.1h0M199.4 171.3h0M237.8 209.5h0M213.6 192.5h0M244.0 217.8h0M217.0 158.5h0M254.0 224.6h0M236.9 128.3h0" stroke="#e68332" stroke-width="3.5" stroke-linecap="round" fill="none" stroke-opacity="0.72"/>
<path d="M245.0 221.0h0M200.7 221.3h0" stroke="#38a9c5" stroke-width="3.5" stroke-linecap="round" fill="none" stroke-opacity="0.72"/>
<path d="M242.2 127.4h0M239.7 195.3h0M247.9 216.2h0M222.2 191.2h0M216.4 221.8h0" stroke="#3ba3ec" stroke-width="3.5" stroke-linecap="round" fill="none" stroke-opacity="0.72"/>
<path d="M248.9 208.2h0M210.3 214.1h0" stroke="#36ada4" stroke-width="3.5" stroke-linecap="round" fill="none" stroke-opacity="0.72"/>
<path d="M247.8 187.9h0M209.7 198.3h0" stroke="#bb9832" stroke-width="3.5" stroke-linecap="round" fill="none" stroke-opacity="0.72"/>
<path d="M225.8 172.8h0M172.7 202.1h0M185.5 194.6h0M245.5 201.3h0M246.3 213.1h0M206.3 193.7h0M246.2 224.9h0M230.8 227.9h0M183.1 160.6h0M214.8 185.5h0M246.8 211.0h0M250.0 185.2h0" stroke="#e68332" stroke-width="3.5" stroke-linecap="round" fill="none" stroke-opacity="0.72"/>
<path d="M232.7 183.6h0M169.6 142.8h0M231.4 203.5h0M181.2 191.6h0M202.7 212.9h0" stroke="#34af8a" stroke-width="3.5" stroke-linecap="round" fill="none" stroke-opacity="0.72"/>
<path d="M249.3 217.6h0M248.9 226.0h0M180.3 195.9h0M246.2 212.2h0M249.7 218.9h0M209.5 216.0h0M244.9 206.5h0M235.1 192.8h0" stroke="#97a431" stroke-width="3.5" stroke-linecap="round" fill="none" stroke-opacity="0.72"/>
<path d="M166.5 212.9h0M214.7 213.0h0" stroke="#f66bad" stroke-width="3.5" stroke-linecap="round" fill="none" stroke-opacity="0.72"/>
<path d="M253.3 170.2h0M241.1 218.6h0M246.6 226.1h0M228.5 216.5h0M219.9 218.1h0" stroke="#a48cf4" stroke-width="3.5" stroke-linecap="round" fill="none" stroke-opacity="0.72"/>
<path d="M245.2 213.9h0M232.0 224.3h0M187.8 217.3h0M250.5 208.3h0M220.6 218.2h0M250.1 221.1h0M251.3 216.6h0M237.5 210.5h0M239.1 197.6h0M207.3 218.8h0" stroke="#f77189" stroke-width="3.5" stroke-linecap="round" fill="none" stroke-opacity="0.72"/>
<path d="M204.8 181.1h0M150.3 128.3h0M227.6 211.5h0" stroke="#bb9832" stroke-width="3.5" stroke-linecap="round" fill="none" stroke-opacity="0.72"/>
<path d="M204.9 220.9h0M202.1 174.2h0M220.0 205.4h0M211.4 223.3h0M250.5 129.2h0" stroke="#50b131" stroke-width="3.5" stroke-linecap="round" fill="none" stroke-opacity="0.72"/>
<path d="M249.2 216.2h0M244.1 202.5h0M191.2 203.4h0M253.6 226.3h0M241.1 224.1h0M248.7 206.6h0M217.9 213.3h0M253.7 215.9h0" stroke="#36ada4" stroke-width="3.5" stroke-linecap="round" fill="none" stroke-opacity="0.72"/>
<path d="M228.7 204.5h0M254.4 212.4h0" stroke="#38a9c5" stroke-width="3.5" stroke-linecap="round" fill="none" stroke-opacity="0.72"/>
<path d="M245.8 200.5h0M239.0 203.9h0M252.9 201.3h0M220.6 221.9h0M240.2 226.6h0" stroke="#34af8a" stroke-width="3.5" stroke-linecap="round" fill="none" stroke-opacity="0.72"/>
<path d="M254.8 219.1h0M218.4 208.3h0M228.3 214.8h0M231.8 188.7h0M253.2 139.4h0" stroke="#3ba3ec" stroke-width="3.5" stroke-linecap="round" fill="none" stroke-opacity="0.72"/>
<path d="M222.7 123.1h0M235.3 222.3h0M227.8 215.2h0M181.1 219.4h0" stroke="#50b131" stroke-width="3.5" stroke-linecap="round" fill="none" stroke-opacity="0.72"/>
<path d="M190.8 126.2h0M239.1 195.9h0M233.3 225.9h0M195.9 209.8h0M228.2 218.5h0M219.9 199.8h0M211.4 186.9h0M176.4 122.3h0M205.7 181.9h0M252.8 180.4h0M252.5 221.4h0M232.8 167.7h0M245.2 215.8h0M195.4 168.9h0M169.4 177.4h0M229.7 201.1h0M212.8 219.1h0" stroke="#e68332" stroke-width="3.5" stroke-linecap="round" fill="none" stroke-opacity="0.72"/>
<path d="M221.2 213.2h0M200.0 223.3h0M186.0 100.6h0" stroke="#f66bad" stroke-width="3.5" stroke-linecap="round" fill="none" stroke-opacity="0.72"/>
<path d="M232.4 222.6h0M248.8 222.9h0M209.7 186.2h0M243.2 215.5h0M221.9 226.6h0M237.5 219.0h0M249.4 220.0h0" stroke="#36ada4" stroke-width="3.5" stroke-linecap="round" fill="none" stroke-opacity="0.72"/>
<path d="M236.6 223.2h0M248.3 202.5h0M224.4 204.7h0M162.2 166.1h0M205.7 168.9h0M233.8 212.8h0" stroke="#a48cf4" stroke-width="3.5" stroke-linecap="round" fill="none" stroke-opacity="0.72"/>
<path d="M249.8 216.3h0M222.6 208.1h0M197.6 167.8h0M251.7 158.4h0" stroke="#97a431" stroke-width="3.5" stroke-linecap="round" fill="none" stroke-opacity="0.72"/>
<path d="M238.0 202.5h0M254.2 211.0h0M252.3 191.1h0M225.0 215.6h0M240.1 227.3h0" stroke="#f77189" stroke-width="3.5" stroke-linecap="round" fill="none" stroke-opacity="0.72"/>
<path d="M223.5 218.8h0M186.7 227.2h0M251.6 224.7h0" stroke="#bb9832" stroke-width="3.5" stroke-linecap="round" fill="none" stroke-opacity="0.72"/>
<path d="M220.0 202.5h0" stroke="#38a9c5" stroke-width="3.5" stroke-linecap="round" fill="none" stroke-opacity="0.72"/>
<path d="M231.0 217.7h0M249.3 221.1h0M248.1 196.0h0M239.2 158.7h0" stroke="#bb9832" stroke-width="3.5" stroke-linecap="round" fill="none" stroke-opacity="0.72"/>
<path d="M253.1 207.1h0M228.6 219.3h0M254.8 214.5h0M227.7 199.0h0M191.9 167.6h0M224.4 206.9h0" stroke="#34af8a" stroke-width="3.5" stroke-linecap="round" fill="none" stroke-opacity="0.72"/>
<path d="M166.2 222.7h0M202.4 207.4h0M239.2 169.1h0M255.2 98.0h0M225.2 217.7h0M251.4 219.0h0M244.8 217.7h0M254.8 113.0h0M203.4 183.9h0M147.4 168.7h0M177.0 162.7h0M210.3 193.7h0M249.0 194.3h0M238.8 167.3h0M242.5 219.5h0" stroke="#e68332" stroke-width="3.5" stroke-linecap="round" fill="none" stroke-opacity="0.72"/>
<path d="M187.5 228.2h0M254.4 226.0h0M236.3 191.9h0M247.6 221.1h0M191.8 226.7h0M241.4 217.5h0M231.7 204.4h0M214.8 187.7h0M199.7 179.4h0M211.2 221.8h0M246.3 183.3h0M132.2 202.9h0M219.1 189.8h0M247.8 209.3h0" stroke="#f77189" stroke-width="3.5" stroke-linecap="round" fill="none" stroke-opacity="0.72"/>
<path d="M240.6 219.2h0M253.2 199.9h0M252.1 217.1h0" stroke="#a48cf4" stroke-width="3.5" stroke-linecap="round" fill="none" stroke-opacity="0.72"/>
<path d="M205.6 218.6h0M237.2 225.4h0M245.8 137.5h0" stroke="#f45cf2" stroke-width="3.5" stroke-linecap="round" fill="none" stroke-opacity="0.72"/>
<path d="M228.0 227.1h0M230.0 219.2h0M247.0 214.0h0" stroke="#50b131" stroke-width="3.5" stroke-linecap="round" fill="none" stroke-opacity="0.72"/>
<path d="M195.5 228.2h0M240.6 228.3h0" stroke="#3ba3ec" stroke-width="3.5" stroke-linecap="round" fill="none" stroke-opacity="0.72"/>
<path d="M188.3 202.1h0M249.8 202.4h0M249.2 200.9h0" stroke="#36ada4" stroke-width="3.5" stroke-linecap="round" fill="none" stroke-opacity="0.72"/>
<path d="M220.9 205.4h0M234.2 221.4h0" stroke="#97a431" stroke-width="3.5" stroke-linecap="round" fill="none" stroke-opacity="0.72"/>
<path d="M193.6 173.3h0M214.9 197.8h0" stroke="#f66bad" stroke-width="3.5" stroke-linecap="round" fill="none" stroke-opacity="0.72"/>
<path d="M242.5 221.4h0M191.3 198.2h0M253.4 217.1h0" stroke="#38a9c5" stroke-width="3.5" stroke-linecap="round" fill="none" stroke-opacity="0.72"/>
<path d="M220.7 151.2h0M217.6 219.3h0M251.5 181.9h0M194.3 220.6h0M227.8 226.8h0M250.9 217.7h0M213.3 208.6h0M247.4 225.8h0M238.7 195.6h0" stroke="#f77189" stroke-width="3.5" stroke-linecap="round" fill="none" stroke-opacity="0.72"/>
<path d="M214.6 205.1h0M219.5 210.4h0M236.0 203.4h0M246.0 215.3h0" stroke="#f45cf2" stroke-width="3.5" stroke-linecap="round" fill="none" stroke-opacity="0.72"/>
<path d="M251.0 193.2h0M249.1 206.3h0M191.7 227.3h0M232.0 226.0h0" stroke="#50b131" stroke-width="3.5" stroke-linecap="round" fill="none" stroke-opacity="0.72"/>
<path d="M228.7 182.8h0M235.7 145.1h0M233.0 207.3h0M252.6 205.1h0M220.1 195.4h0M240.5 225.0h0M255.2 172.1h0M187.4 162.3h0M223.3 199.6h0M226.2 216.1h0M248.8 191.8h0M244.0 184.8h0" stroke="#e68332" stroke-width="3.5" stroke-linecap="round" fill="none" stroke-opacity="0.72"/>
<path d="M253.5 200.7h0M225.5 216.5h0M253.6 207.6h0" stroke="#3ba3ec" stroke-width="3.5" stroke-linecap="round" fill="none" stroke-opacity="0.72"/>
<path d="M200.8 177.2h0M233.3 206.4h0M160.8 141.6h0" stroke="#97a431" stroke-width="3.5" stroke-linecap="round" fill="none" stroke-opacity="0.72"/>
<path d="M203.3 220.1h0M237.5 181.8h0M252.3 165.0h0M189.0 168.2h0M153.5 170.8h0" stroke="#f66bad" stroke-width="3.5" stroke-linecap="round" fill="none" stroke-opacity="0.72"/>
<path d="M210.6 179.6h0M237.2 216.6h0M250.7 209.0h0M236.0 206.2h0M254.1 197.7h0M253.9 224.5h0M228.2 225.8h0M209.2 218.0h0M234.8 184.6h0" stroke="#34af8a" stroke-width="3.5" stroke-linecap="round" fill="none" stroke-opacity="0.72"/>
<path d="M253.9 214.2h0M243.8 225.8h0M223.2 184.1h0" stroke="#a48cf4" stroke-width="3.5" stroke-linecap="round" fill="none" stroke-opacity="0.72"/>
<path d="M238.7 199.2h0M217.8 192.3h0M232.6 226.3h0M186.0 160.1h0" stroke="#bb9832" stroke-width="3.5" stroke-linecap="round" fill="none" stroke-opacity="0.72"/>
<path d="M252.4 212.7h0M227.8 204.3h0M150.6 174.1h0M213.1 218.7h0" stroke="#36ada4" stroke-width="3.5" stroke-linecap="round" fill="none" stroke-opacity="0.72"/>
<path d="M219.6 212.9h0M220.3 210.4h0M244.6 213.2h0M212.7 209.1h0M227.4 199.1h0M231.0 214.7h0" stroke="#36ada4" stroke-width="3.5" stroke-linecap="round" fill="none" stroke-opacity="0.72"/>
<path d="M170.0 198.5h0M232.9 218.6h0M247.6 226.6h0M225.1 217.1h0" stroke="#50b131" stroke-width="3.5" stroke-linecap="round" fill="none" stroke-opacity="0.72"/>
<path d="M215.6 225.1h0M228.7 204.2h0M247.1 177.1h0M209.9 190.3h0M231.7 209.3h0M214.8 200.2h0M223.4 219.3h0" stroke="#97a431" stroke-width="3.5" stroke-linecap="round" fill="none" stroke-opacity="0.72"/>
<path d="M190.7 166.4h0M252.1 216.4h0" stroke="#a48cf4" stroke-width="3.5" stroke-linecap="round" fill="none" stroke-opacity="0.72"/>
<path d="M228.7 227.1h0M209.8 215.6h0M245.1 223.6h0M233.8 187.8h0M241.4 188.6h0M238.6 197.1h0M242.5 200.6h0M226.3 164.8h0M224.2 172.3h0M216.4 177.9h0M249.7 215.9h0M197.7 225.1h0" stroke="#e68332" stroke-width="3.5" stroke-linecap="round" fill="none" stroke-opacity="0.72"/>
<path d="M198.6 214.1h0M235.2 200.5h0M211.4 221.2h0" stroke="#38a9c5" stroke-width="3.5" stroke-linecap="round" fill="none" stroke-opacity="0.72"/>
<path d="M229.6 219.8h0M252.0 202.9h0M199.3 144.0h0" stroke="#f66bad" stroke-width="3.5" stroke-linecap="round" fill="none" stroke-opacity="0.72"/>
<path d="M249.5 107.0h0M233.7 209.6h0M158.9 193.2h0M221.0 166.3h0M226.5 226.7h0M250.4 205.2h0" stroke="#f77189" stroke-width="3.5" stroke-linecap="round" fill="none" stroke-opacity="0.72"/>
<path d="M202.3 133.7h0M254.2 219.2h0M243.7 199.1h0M235.2 211.5h0M236.8 194.2h0M248.9 222.7h0M209.6 224.9h0M242.4 219.5h0M235.7 220.4h0M186.7 210.7h0" stroke="#34af8a" stroke-width="3.5" stroke-linecap="round" fill="none" stroke-opacity="0.72"/>
<path d="M209.1 183.7h0M248.7 199.8h0M252.8 215.4h0" stroke="#3ba3ec" stroke-width="3.5" stroke-linecap="round" fill="none" stroke-opacity="0.72"/>
<path d="M237.9 211.1h0M223.9 194.6h0" stroke="#bb9832" stroke-width="3.5" stroke-linecap="round" fill="none" stroke-opacity="0.72"/>
<path d="M199.0 213.4h0M252.3 162.1h0" stroke="#f45cf2" stroke-width="3.5" stroke-linecap="round" fill="none" stroke-opacity="0.72"/>
<path d="M166.7 225.3h0M149.0 220.2h0M210.5 220.6h0M231.3 201.0h0M247.2 224.8h0M246.0 205.0h0" stroke="#36ada4" stroke-width="3.5" stroke-linecap="round" fill="none" stroke-opacity="0.72"/>
<path d="M177.2 227.3h0M206.4 214.2h0M225.3 178.9h0" stroke="#a48cf4" stroke-width="3.5" stroke-linecap="round" fill="none" stroke-opacity="0.72"/>
<path d="M240.9 223.8h0M248.3 213.1h0M229.8 227.3h0M251.1 211.8h0M154.1 129.8h0M241.5 191.7h0M212.7 165.6h0M209.3 177.0h0M195.3 162.9h0M227.5 156.8h0M231.5 199.2h0M240.3 216.2h0M220.6 218.2h0" stroke="#e68332" stroke-width="3.5" stroke-linecap="round" fill="none" stroke-opacity="0.72"/>
<path d="M234.2 221.8h0M253.6 208.0h0M230.2 206.2h0M175.7 226.0h0M199.3 217.6h0M198.0 186.6h0M206.3 182.4h0M243.1 203.5h0M226.0 214.9h0M232.6 207.7h0M253.4 227.6h0M247.0 203.0h0" stroke="#34af8a" stroke-width="3.5" stroke-linecap="round" fill="none" stroke-opacity="0.72"/>
<path d="M234.4 188.7h0M227.8 223.5h0M237.2 227.5h0M203.1 182.9h0" stroke="#bb9832" stroke-width="3.5" stroke-linecap="round" fill="none" stroke-opacity="0.72"/>
<path d="M243.9 216.2h0M236.7 183.7h0M235.9 207.0h0" stroke="#38a9c5" stroke-width="3.5" stroke-linecap="round" fill="none" stroke-opacity="0.72"/>
<path d="M248.9 225.8h0M219.0 208.0h0M210.7 210.7h0M235.3 197.1h0M191.6 177.8h0M239.1 226.8h0" stroke="#f66bad" stroke-width="3.5" stroke-linecap="round" fill="none" stroke-opacity="0.72"/>
<path d="M241.5 216.6h0M221.9 225.4h0M228.5 223.2h0M254.2 206.5h0M245.5 219.8h0M250.6 204.1h0" stroke="#f77189" stroke-width="3.5" stroke-linecap="round" fill="none" stroke-opacity="0.72"/>
<path d="M229.8 227.4h0" stroke="#3ba3ec" stroke-width="3.5" stroke-linecap="round" fill="none" stroke-opacity="0.72"/>
<path d="M178.8 221.4h0" stroke="#97a431" stroke-width="3.5" stroke-linecap="round" fill="none" stroke-opacity="0.72"/>
<path d="M216.8 224.3h0M219.7 214.6h0M237.2 217.4h0M122.5 201.9h0" stroke="#50b131" stroke-width="3.5" stroke-linecap="round" fill="none" stroke-opacity="0.72"/>
<path d="M222.6 214.5h0" stroke="#f45cf2" stroke-width="3.5" stroke-linecap="round" fill="none" stroke-opacity="0.72"/>
<path d="M236.2 228.3h0M242.5 205.1h0M208.5 178.2h0M225.4 220.7h0M193.7 197.0h0M241.2 212.1h0M200.4 227.0h0M237.3 216.3h0" stroke="#50b131" stroke-width="3.5" stroke-linecap="round" fill="none" stroke-opacity="0.72"/>
<path d="M209.0 211.1h0M227.4 220.3h0M246.1 194.0h0M240.0 188.7h0" stroke="#34af8a" stroke-width="3.5" stroke-linecap="round" fill="none" stroke-opacity="0.72"/>
<path d="M231.5 210.3h0M232.1 225.9h0M209.9 210.7h0M209.3 211.4h0M225.8 222.1h0M252.1 187.9h0M234.8 201.7h0" stroke="#38a9c5" stroke-width="3.5" stroke-linecap="round" fill="none" stroke-opacity="0.72"/>
<path d="M235.8 219.2h0M238.7 220.8h0M227.8 138.6h0M249.6 202.0h0" stroke="#36ada4" stroke-width="3.5" stroke-linecap="round" fill="none" stroke-opacity="0.72"/>
<path d="M151.3 194.8h0M197.0 222.3h0M240.5 194.4h0M235.0 199.7h0M206.0 212.4h0M252.1 188.8h0" stroke="#f77189" stroke-width="3.5" stroke-linecap="round" fill="none" stroke-opacity="0.72"/>
<path d="M220.8 197.5h0M238.7 225.7h0M253.6 211.7h0M235.2 193.2h0M226.4 200.6h0M238.3 186.4h0M193.7 152.5h0M207.3 217.5h0M229.4 221.5h0M203.0 202.9h0M205.7 218.1h0M157.5 95.9h0M242.8 216.8h0M228.4 192.5h0" stroke="#e68332" stroke-width="3.5" stroke-linecap="round" fill="none" stroke-opacity="0.72"/>
<path d="M226.2 211.9h0M245.5 215.9h0M211.6 195.1h0M198.6 209.4h0" stroke="#f45cf2" stroke-width="3.5" stroke-linecap="round" fill="none" stroke-opacity="0.72"/>
<path d="M195.0 183.5h0M230.1 114.8h0M233.6 214.4h0" stroke="#a48cf4" stroke-width="3.5" stroke-linecap="round" fill="none" stroke-opacity="0.72"/>
<path d="M233.0 200.0h0M239.2 218.5h0M234.6 190.2h0M240.2 218.7h0M247.5 208.6h0" stroke="#f66bad" stroke-width="3.5" stroke-linecap="round" fill="none" stroke-opacity="0.72"/>
<path d="M239.3 183.1h0M179.6 102.8h0M191.9 219.1h0" stroke="#97a431" stroke-width="3.5" stroke-linecap="round" fill="none" stroke-opacity="0.72"/>
<path d="M229.6 204.5h0" stroke="#3ba3ec" stroke-width="3.5" stroke-linecap="round" fill="none" stroke-opacity="0.72"/>
<path d="M197.2 177.3h0" stroke="#bb9832" stroke-width="3.5" stroke-linecap="round" fill="none" stroke-opacity="0.72"/>
<path d="M254.3 223.3h0M194.1 198.3h0M237.2 221.4h0M254.5 217.4h0M242.0 210.8h0" stroke="#36ada4" stroke-width="3.5" stroke-linecap="round" fill="none" stroke-opacity="0.72"/>
<path d="M222.6 222.4h0M223.3 201.8h0M246.9 226.8h0M214.8 203.9h0M234.7 183.9h0M202.3 177.1h0" stroke="#38a9c5" stroke-width="3.5" stroke-linecap="round" fill="none" stroke-opacity="0.72"/>
<path d="M239.4 223.1h0M204.3 212.2h0M251.7 204.8h0" stroke="#a48cf4" stroke-width="3.5" stroke-linecap="round" fill="none" stroke-opacity="0.72"/>
<path d="M210.9 188.8h0M218.7 211.5h0M208.0 196.6h0M177.1 151.0h0M250.4 211.6h0M191.6 170.9h0M184.9 159.9h0M183.7 173.6h0M227.4 212.5h0M252.6 215.3h0M211.0 220.7h0M234.9 204.3h0" stroke="#e68332" stroke-width="3.5" stroke-linecap="round" fill="none" stroke-opacity="0.72"/>
<path d="M218.8 215.2h0M237.6 228.3h0M184.5 159.6h0M191.7 221.3h0M242.1 207.5h0M116.7 228.2h0M206.0 182.4h0" stroke="#34af8a" stroke-width="3.5" stroke-linecap="round" fill="none" stroke-opacity="0.72"/>
<path d="M250.6 177.1h0M167.8 205.4h0M235.3 195.4h0" stroke="#f45cf2" stroke-width="3.5" stroke-linecap="round" fill="none" stroke-opacity="0.72"/>
<path d="M222.7 181.4h0M245.1 219.4h0M188.9 215.1h0M179.3 226.9h0M191.0 212.9h0M221.6 218.6h0M250.7 206.2h0M213.3 218.5h0M250.1 100.6h0" stroke="#f77189" stroke-width="3.5" stroke-linecap="round" fill="none" stroke-opacity="0.72"/>
<path d="M244.8 195.9h0" stroke="#3ba3ec" stroke-width="3.5" stroke-linecap="round" fill="none" stroke-opacity="0.72"/>
<path d="M153.5 198.1h0M226.9 143.1h0M235.1 205.7h0M187.6 95.7h0M173.9 225.8h0M241.7 216.7h0M190.7 211.2h0M220.8 179.2h0M201.8 210.0h0" stroke="#97a431" stroke-width="3.5" stroke-linecap="round" fill="none" stroke-opacity="0.72"/>
<path d="M228.3 223.7h0" stroke="#bb9832" stroke-width="3.5" stroke-linecap="round" fill="none" stroke-opacity="0.72"/>
<path d="M237.5 179.1h0M250.7 202.2h0M227.8 227.1h0" stroke="#50b131" stroke-width="3.5" stroke-linecap="round" fill="none" stroke-opacity="0.72"/>
<path d="M225.6 209.7h0" stroke="#f66bad" stroke-width="3.5" stroke-linecap="round" fill="none" stroke-opacity="0.72"/>
<path d="M248.6 205.4h0M193.5 223.5h0M199.0 188.4h0M197.7 169.5h0M177.0 148.8h0M222.0 227.0h0M255.3 201.4h0M226.8 220.8h0M254.7 208.7h0M231.6 204.7h0M186.4 69.0h0M251.8 215.8h0M200.8 225.6h0M225.0 219.0h0M218.0 200.7h0M170.1 216.8h0M232.5 162.4h0" stroke="#e68332" stroke-width="3.5" stroke-linecap="round" fill="none" stroke-opacity="0.72"/>
<path d="M241.7 212.9h0M220.5 228.0h0M222.1 205.9h0M178.7 222.5h0M235.6 190.5h0M207.2 196.1h0" stroke="#36ada4" stroke-width="3.5" stroke-linecap="round" fill="none" stroke-opacity="0.72"/>
<path d="M227.5 210.2h0M251.0 213.8h0M239.1 204.3h0M225.7 223.5h0" stroke="#50b131" stroke-width="3.5" stroke-linecap="round" fill="none" stroke-opacity="0.72"/>
<path d="M250.6 220.2h0M202.6 175.9h0M252.7 178.4h0M251.7 207.8h0M255.1 219.4h0" stroke="#97a431" stroke-width="3.5" stroke-linecap="round" fill="none" stroke-opacity="0.72"/>
<path d="M234.8 193.5h0M239.2 205.8h0M233.8 216.8h0" stroke="#bb9832" stroke-width="3.5" stroke-linecap="round" fill="none" stroke-opacity="0.72"/>
<path d="M195.3 193.9h0M248.0 198.6h0M176.9 147.9h0M221.1 200.9h0M218.1 202.7h0M254.2 215.1h0M214.0 147.1h0M195.4 171.9h0M242.4 151.1h0" stroke="#34af8a" stroke-width="3.5" stroke-linecap="round" fill="none" stroke-opacity="0.72"/>
<path d="M244.9 175.0h0M221.9 213.0h0M189.2 203.1h0M202.7 224.1h0M247.8 226.2h0M231.0 199.5h0M253.7 110.3h0M238.1 189.8h0" stroke="#f77189" stroke-width="3.5" stroke-linecap="round" fill="none" stroke-opacity="0.72"/>
<path d="M252.9 212.6h0M196.4 175.0h0M210.1 211.5h0" stroke="#3ba3ec" stroke-width="3.5" stroke-linecap="round" fill="none" stroke-opacity="0.72"/>
<path d="M230.5 227.4h0M219.7 215.8h0" stroke="#38a9c5" stroke-width="3.5" stroke-linecap="round" fill="none" stroke-opacity="0.72"/>
<path d="M180.6 153.9h0M239.2 211.5h0" stroke="#f66bad" stroke-width="3.5" stroke-linecap="round" fill="none" stroke-opacity="0.72"/>
<path d="M232.2 226.1h0" stroke="#a48cf4" stroke-width="3.5" stroke-linecap="round" fill="none" stroke-opacity="0.72"/>
<path d="M242.2 142.2h0M249.4 226.5h0M239.0 210.7h0M167.6 145.3h0M253.8 198.3h0M254.6 198.2h0" stroke="#34af8a" stroke-width="3.5" stroke-linecap="round" fill="none" stroke-opacity="0.72"/>
<path d="M221.7 219.4h0M250.5 224.1h0M245.3 224.7h0M197.6 173.3h0" stroke="#97a431" stroke-width="3.5" stroke-linecap="round" fill="none" stroke-opacity="0.72"/>
<path d="M246.6 217.3h0M232.8 221.2h0M173.8 111.2h0M226.2 221.3h0M227.7 200.9h0M233.7 214.3h0M252.2 193.6h0M239.0 218.7h0" stroke="#36ada4" stroke-width="3.5" stroke-linecap="round" fill="none" stroke-opacity="0.72"/>
<path d="M250.7 224.2h0" stroke="#f45cf2" stroke-width="3.5" stroke-linecap="round" fill="none" stroke-opacity="0.72"/>
<path d="M227.7 204.4h0M226.4 189.3h0M252.2 213.1h0M233.7 201.8h0M209.0 205.1h0M166.8 210.5h0M213.1 215.6h0M234.5 203.7h0M229.6 210.2h0M251.1 220.3h0M253.9 219.8h0M215.4 172.4h0M248.8 174.9h0" stroke="#e68332" stroke-width="3.5" stroke-linecap="round" fill="none" stroke-opacity="0.72"/>
<path d="M234.7 226.3h0M158.3 156.7h0M215.4 212.1h0M229.2 222.5h0" stroke="#3ba3ec" stroke-width="3.5" stroke-linecap="round" fill="none" stroke-opacity="0.72"/>
<path d="M237.8 179.0h0M240.6 223.3h0M230.6 215.9h0" stroke="#38a9c5" stroke-width="3.5" stroke-linecap="round" fill="none" stroke-opacity="0.72"/>
<path d="M234.2 225.5h0M253.9 195.7h0M253.3 195.4h0M201.6 224.0h0" stroke="#50b131" stroke-width="3.5" stroke-linecap="round" fill="none" stroke-opacity="0.72"/>
<path d="M226.7 209.0h0M171.3 146.5h0M245.3 170.1h0M192.8 169.7h0M234.1 207.8h0M240.1 205.3h0" stroke="#f66bad" stroke-width="3.5" stroke-linecap="round" fill="none" stroke-opacity="0.72"/>
<path d="M179.5 69.3h0M224.0 225.9h0M246.5 188.7h0M235.7 199.9h0" stroke="#f77189" stroke-width="3.5" stroke-linecap="round" fill="none" stroke-opacity="0.72"/>
<path d="M213.9 211.9h0M209.1 169.4h0M243.0 225.9h0" stroke="#bb9832" stroke-width="3.5" stroke-linecap="round" fill="none" stroke-opacity="0.72"/>
<path d="M195.2 224.8h0M155.8 143.4h0M229.0 209.6h0M249.8 203.7h0" stroke="#a48cf4" stroke-width="3.5" stroke-linecap="round" fill="none" stroke-opacity="0.72"/>
<path d="M140.6 115.4h0" stroke="#bb9832" stroke-width="3.5" stroke-linecap="round" fill="none" stroke-opacity="0.72"/>
<path d="M239.7 180.8h0M239.7 153.6h0M226.3 192.8h0M209.1 216.9h0M251.9 191.6h0M236.5 217.6h0" stroke="#f77189" stroke-width="3.5" stroke-linecap="round" fill="none" stroke-opacity="0.72"/>
<path d="M244.4 183.0h0M223.3 207.1h0M252.6 198.3h0M253.9 195.7h0M237.9 227.2h0M236.3 206.0h0" stroke="#50b131" stroke-width="3.5" stroke-linecap="round" fill="none" stroke-opacity="0.72"/>
<path d="M220.3 209.1h0M179.2 215.4h0M206.0 205.2h0M200.5 208.9h0M209.3 188.5h0" stroke="#38a9c5" stroke-width="3.5" stroke-linecap="round" fill="none" stroke-opacity="0.72"/>
<path d="M157.2 106.7h0M231.0 195.3h0M217.4 181.0h0M199.4 208.0h0M169.9 198.1h0M188.0 218.5h0M231.3 168.5h0M194.1 221.6h0M222.5 220.7h0M221.9 214.1h0M228.4 223.2h0M241.6 226.4h0M233.5 157.8h0" stroke="#e68332" stroke-width="3.5" stroke-linecap="round" fill="none" stroke-opacity="0.72"/>
<path d="M193.7 210.0h0M207.3 225.6h0M185.5 162.2h0M216.4 191.1h0" stroke="#34af8a" stroke-width="3.5" stroke-linecap="round" fill="none" stroke-opacity="0.72"/>
<path d="M203.7 215.1h0M205.7 208.8h0M237.1 225.3h0M236.9 214.0h0M214.3 204.8h0M235.0 211.4h0M241.5 212.8h0M247.0 175.4h0" stroke="#36ada4" stroke-width="3.5" stroke-linecap="round" fill="none" stroke-opacity="0.72"/>
<path d="M221.2 221.2h0M202.6 212.2h0M252.8 222.6h0M192.6 226.2h0M248.2 187.4h0M253.8 203.7h0M247.2 197.2h0" stroke="#97a431" stroke-width="3.5" stroke-linecap="round" fill="none" stroke-opacity="0.72"/>
<path d="M249.9 219.1h0M217.3 213.0h0M185.8 164.1h0M213.3 156.9h0" stroke="#3ba3ec" stroke-width="3.5" stroke-linecap="round" fill="none" stroke-opacity="0.72"/>
<path d="M233.4 227.3h0M213.5 223.9h0M244.1 223.3h0" stroke="#a48cf4" stroke-width="3.5" stroke-linecap="round" fill="none" stroke-opacity="0.72"/>
<path d="M233.7 203.0h0" stroke="#f45cf2" stroke-width="3.5" stroke-linecap="round" fill="none" stroke-opacity="0.72"/>
<path d="M194.7 171.1h0M236.0 219.0h0" stroke="#f66bad" stroke-width="3.5" stroke-linecap="round" fill="none" stroke-opacity="0.72"/>
<path d="M223.8 215.0h0M226.2 221.5h0M234.0 183.7h0M240.8 215.0h0M130.7 194.0h0M245.1 218.7h0M211.8 201.8h0" stroke="#34af8a" stroke-width="3.5" stroke-linecap="round" fill="none" stroke-opacity="0.72"/>
<path d="M231.2 217.5h0" stroke="#f45cf2" stroke-width="3.5" stroke-linecap="round" fill="none" stroke-opacity="0.72"/>
<path d="M221.5 192.1h0M216.5 178.8h0M175.4 73.1h0" stroke="#3ba3ec" stroke-width="3.5" stroke-linecap="round" fill="none" stroke-opacity="0.72"/>
<path d="M100.8 83.4h0M254.1 174.5h0M198.0 223.0h0M218.6 156.7h0M221.7 204.4h0" stroke="#a48cf4" stroke-width="3.5" stroke-linecap="round" fill="none" stroke-opacity="0.72"/>
<path d="M219.5 212.1h0M223.5 198.7h0M249.0 208.5h0M233.6 227.9h0M252.9 196.2h0M238.7 221.3h0M242.8 187.1h0M207.5 178.8h0M249.8 190.3h0M205.1 174.4h0" stroke="#e68332" stroke-width="3.5" stroke-linecap="round" fill="none" stroke-opacity="0.72"/>
<path d="M236.2 211.8h0M211.8 199.0h0M252.6 210.0h0M239.4 217.8h0M221.7 211.0h0M248.8 194.2h0M183.2 162.4h0M205.8 193.6h0" stroke="#36ada4" stroke-width="3.5" stroke-linecap="round" fill="none" stroke-opacity="0.72"/>
<path d="M234.8 227.9h0M198.9 177.4h0M240.6 212.8h0M245.5 207.9h0" stroke="#bb9832" stroke-width="3.5" stroke-linecap="round" fill="none" stroke-opacity="0.72"/>
<path d="M252.0 216.3h0M218.1 111.5h0M204.4 203.0h0M131.2 161.3h0" stroke="#38a9c5" stroke-width="3.5" stroke-linecap="round" fill="none" stroke-opacity="0.72"/>
<path d="M239.7 191.2h0M221.3 200.8h0M247.3 207.9h0M229.5 212.4h0" stroke="#97a431" stroke-width="3.5" stroke-linecap="round" fill="none" stroke-opacity="0.72"/>
<path d="M244.6 219.4h0M92.7 190.3h0M226.6 180.3h0M255.3 197.0h0" stroke="#50b131" stroke-width="3.5" stroke-linecap="round" fill="none" stroke-opacity="0.72"/>
<path d="M223.4 203.0h0M187.8 223.3h0M195.8 167.5h0M255.3 116.4h0M218.7 202.8h0M211.9 165.0h0M192.6 226.2h0M241.6 200.3h0M172.0 184.2h0" stroke="#f77189" stroke-width="3.5" stroke-linecap="round" fill="none" stroke-opacity="0.72"/>
<path d="M196.2 191.9h0" stroke="#f66bad" stroke-width="3.5" stroke-linecap="round" fill="none" stroke-opacity="0.72"/>
<path d="M222.3 206.7h0M179.4 223.0h0M253.6 166.3h0M249.4 184.0h0M232.0 225.1h0M244.3 216.7h0" stroke="#bb9832" stroke-width="3.5" stroke-linecap="round" fill="none" stroke-opacity="0.72"/>
<path d="M222.2 219.8h0M254.2 184.5h0M219.0 187.4h0M190.9 203.4h0M226.9 167.5h0M253.7 210.7h0M253.5 224.3h0M198.8 139.7h0M215.2 112.6h0M248.1 218.6h0M229.5 193.5h0M231.7 187.8h0M195.0 75.0h0M234.6 148.8h0M227.6 214.7h0M208.4 224.7h0M239.4 143.0h0M223.0 204.9h0M216.4 200.7h0M222.9 224.9h0" stroke="#e68332" stroke-width="3.5" stroke-linecap="round" fill="none" stroke-opacity="0.72"/>
<path d="M242.2 203.4h0M233.4 226.0h0M224.1 195.9h0" stroke="#97a431" stroke-width="3.5" stroke-linecap="round" fill="none" stroke-opacity="0.72"/>
<path d="M253.8 202.4h0M137.2 124.8h0M239.3 172.2h0M189.3 171.7h0M200.4 195.6h0M244.4 217.8h0" stroke="#50b131" stroke-width="3.5" stroke-linecap="round" fill="none" stroke-opacity="0.72"/>
<path d="M211.0 210.5h0M246.6 204.8h0M226.0 204.9h0M255.2 197.6h0" stroke="#34af8a" stroke-width="3.5" stroke-linecap="round" fill="none" stroke-opacity="0.72"/>
<path d="M231.7 224.3h0M228.3 220.3h0M247.5 227.6h0" stroke="#f66bad" stroke-width="3.5" stroke-linecap="round" fill="none" stroke-opacity="0.72"/>
<path d="M198.0 128.8h0M236.1 187.7h0M241.6 210.1h0M239.9 224.4h0M118.8 96.5h0M223.7 221.9h0M249.6 225.7h0M254.5 202.3h0M253.1 216.4h0M208.6 219.1h0M233.8 228.2h0M184.8 193.2h0" stroke="#f77189" stroke-width="3.5" stroke-linecap="round" fill="none" stroke-opacity="0.72"/>
<path d="M242.5 209.4h0M207.2 201.4h0" stroke="#3ba3ec" stroke-width="3.5" stroke-linecap="round" fill="none" stroke-opacity="0.72"/>
<path d="M255.0 207.7h0M231.0 222.9h0" stroke="#38a9c5" stroke-width="3.5" stroke-linecap="round" fill="none" stroke-opacity="0.72"/>
<path d="M250.4 166.2h0M93.3 201.9h0" stroke="#a48cf4" stroke-width="3.5" stroke-linecap="round" fill="none" stroke-opacity="0.72"/>
<path d="M244.5 222.4h0M253.5 172.7h0M232.7 208.9h0M179.9 225.9h0M191.0 145.5h0" stroke="#34af8a" stroke-width="3.5" stroke-linecap="round" fill="none" stroke-opacity="0.72"/>
<path d="M218.4 217.1h0M137.9 66.3h0M215.4 217.3h0M244.2 192.5h0M248.5 216.9h0M220.8 225.3h0M238.5 227.3h0M254.0 218.7h0M230.0 225.2h0M201.8 211.5h0M246.8 213.3h0M242.3 212.1h0M240.2 210.9h0" stroke="#f77189" stroke-width="3.5" stroke-linecap="round" fill="none" stroke-opacity="0.72"/>
<path d="M217.6 206.4h0M215.1 180.6h0M176.4 210.5h0M223.9 222.4h0M209.2 140.7h0M228.3 215.1h0M251.1 224.4h0" stroke="#36ada4" stroke-width="3.5" stroke-linecap="round" fill="none" stroke-opacity="0.72"/>
<path d="M202.5 219.3h0M198.9 173.3h0M194.3 212.2h0" stroke="#f66bad" stroke-width="3.5" stroke-linecap="round" fill="none" stroke-opacity="0.72"/>
<path d="M208.4 201.0h0M217.0 221.5h0M216.4 173.9h0M254.8 222.9h0M249.1 220.5h0M177.8 144.1h0M247.5 205.7h0" stroke="#50b131" stroke-width="3.5" stroke-linecap="round" fill="none" stroke-opacity="0.72"/>
<path d="M235.5 211.2h0M248.7 206.5h0" stroke="#3ba3ec" stroke-width="3.5" stroke-linecap="round" fill="none" stroke-opacity="0.72"/>
<path d="M147.6 128.2h0M237.8 216.1h0M229.8 188.0h0M212.8 214.4h0M253.0 207.1h0M198.4 186.7h0M197.9 173.3h0M184.4 121.9h0M251.8 183.9h0M247.8 226.2h0M179.1 146.5h0M250.6 224.8h0M231.8 226.2h0" stroke="#e68332" stroke-width="3.5" stroke-linecap="round" fill="none" stroke-opacity="0.72"/>
<path d="M254.1 218.8h0M244.1 226.0h0M208.3 220.1h0M238.6 201.2h0" stroke="#a48cf4" stroke-width="3.5" stroke-linecap="round" fill="none" stroke-opacity="0.72"/>
<path d="M245.4 224.6h0" stroke="#bb9832" stroke-width="3.5" stroke-linecap="round" fill="none" stroke-opacity="0.72"/>
<path d="M181.6 183.1h0M176.5 152.1h0" stroke="#38a9c5" stroke-width="3.5" stroke-linecap="round" fill="none" stroke-opacity="0.72"/>
<path d="M233.1 223.0h0" stroke="#97a431" stroke-width="3.5" stroke-linecap="round" fill="none" stroke-opacity="0.72"/>
<path d="M164.6 208.2h0M255.0 216.7h0" stroke="#f45cf2" stroke-width="3.5" stroke-linecap="round" fill="none" stroke-opacity="0.72"/>
<path d="M254.5 187.8h0M209.7 190.3h0" stroke="#3ba3ec" stroke-width="3.5" stroke-linecap="round" fill="none" stroke-opacity="0.72"/>
<path d="M254.1 219.5h0M215.9 201.9h0M235.0 184.6h0M194.4 156.7h0M218.8 200.6h0M208.9 182.0h0" stroke="#f66bad" stroke-width="3.5" stroke-linecap="round" fill="none" stroke-opacity="0.72"/>
<path d="M203.3 225.5h0M146.7 125.0h0M191.6 222.3h0M234.3 195.8h0M244.1 224.4h0M251.6 211.0h0M246.4 195.2h0" stroke="#f77189" stroke-width="3.5" stroke-linecap="round" fill="none" stroke-opacity="0.72"/>
<path d="M225.4 211.7h0M175.4 172.8h0M212.5 212.2h0M237.2 194.3h0" stroke="#50b131" stroke-width="3.5" stroke-linecap="round" fill="none" stroke-opacity="0.72"/>
<path d="M213.7 199.1h0M224.3 168.3h0M207.6 218.3h0M235.7 214.0h0M232.5 228.2h0" stroke="#34af8a" stroke-width="3.5" stroke-linecap="round" fill="none" stroke-opacity="0.72"/>
<path d="M224.4 220.1h0M225.3 110.5h0M252.0 227.1h0M195.0 217.2h0M137.3 172.6h0M133.0 117.4h0M232.9 221.7h0M198.7 172.4h0M246.2 227.8h0M138.5 224.3h0M254.0 200.1h0M239.0 200.5h0M255.2 225.5h0M236.3 206.4h0M247.6 207.3h0M206.9 195.1h0M217.1 190.4h0" stroke="#e68332" stroke-width="3.5" stroke-linecap="round" fill="none" stroke-opacity="0.72"/>
<path d="M240.2 186.2h0M225.9 222.8h0" stroke="#bb9832" stroke-width="3.5" stroke-linecap="round" fill="none" stroke-opacity="0.72"/>
<path d="M204.4 207.3h0M249.7 221.9h0" stroke="#f45cf2" stroke-width="3.5" stroke-linecap="round" fill="none" stroke-opacity="0.72"/>
<path d="M215.9 223.4h0M232.7 205.7h0" stroke="#a48cf4" stroke-width="3.5" stroke-linecap="round" fill="none" stroke-opacity="0.72"/>
<path d="M250.0 214.1h0M218.2 214.1h0M244.2 192.3h0M211.7 177.2h0M207.3 227.5h0M244.6 218.0h0M209.6 202.2h0M220.9 173.2h0" stroke="#36ada4" stroke-width="3.5" stroke-linecap="round" fill="none" stroke-opacity="0.72"/>
<path d="M235.4 204.9h0M242.1 213.0h0M248.5 220.7h0M220.8 207.5h0" stroke="#38a9c5" stroke-width="3.5" stroke-linecap="round" fill="none" stroke-opacity="0.72"/>
<path d="M234.4 223.1h0" stroke="#97a431" stroke-width="3.5" stroke-linecap="round" fill="none" stroke-opacity="0.72"/>
<path d="M124.5 175.8h0M237.1 226.6h0M197.0 167.7h0M224.7 177.9h0M251.2 210.1h0M235.9 207.1h0M225.8 213.0h0M242.8 218.0h0" stroke="#34af8a" stroke-width="3.5" stroke-linecap="round" fill="none" stroke-opacity="0.72"/>
<path d="M168.8 223.0h0M228.5 226.6h0M225.7 193.1h0" stroke="#bb9832" stroke-width="3.5" stroke-linecap="round" fill="none" stroke-opacity="0.72"/>
<path d="M177.6 204.4h0M252.0 210.1h0M189.7 107.8h0M181.1 131.9h0M252.3 174.2h0M187.7 223.0h0" stroke="#97a431" stroke-width="3.5" stroke-linecap="round" fill="none" stroke-opacity="0.72"/>
<path d="M234.9 218.5h0M235.7 206.5h0M244.9 214.9h0M245.1 222.5h0M219.4 216.8h0" stroke="#f77189" stroke-width="3.5" stroke-linecap="round" fill="none" stroke-opacity="0.72"/>
<path d="M210.9 180.8h0M177.9 149.7h0M216.4 211.6h0M249.4 201.2h0M221.1 155.7h0M248.7 212.5h0M241.4 176.7h0M246.7 111.8h0M254.4 218.7h0M233.1 113.2h0M187.3 188.0h0M247.2 214.8h0M248.5 191.8h0M204.5 226.2h0" stroke="#e68332" stroke-width="3.5" stroke-linecap="round" fill="none" stroke-opacity="0.72"/>
<path d="M172.0 175.6h0M223.0 181.1h0M248.0 198.9h0M248.1 214.4h0M249.7 222.8h0M202.1 179.7h0M230.3 202.6h0M236.2 178.8h0M238.8 183.4h0" stroke="#36ada4" stroke-width="3.5" stroke-linecap="round" fill="none" stroke-opacity="0.72"/>
<path d="M240.5 217.4h0M217.1 199.0h0M254.5 222.4h0M230.6 219.9h0" stroke="#f66bad" stroke-width="3.5" stroke-linecap="round" fill="none" stroke-opacity="0.72"/>
<path d="M255.4 217.2h0M209.2 206.6h0M244.7 203.5h0M221.0 204.3h0" stroke="#50b131" stroke-width="3.5" stroke-linecap="round" fill="none" stroke-opacity="0.72"/>
<path d="M203.9 220.6h0M215.3 213.1h0" stroke="#38a9c5" stroke-width="3.5" stroke-linecap="round" fill="none" stroke-opacity="0.72"/>
<path d="M200.4 177.1h0M243.5 210.3h0" stroke="#f45cf2" stroke-width="3.5" stroke-linecap="round" fill="none" stroke-opacity="0.72"/>
<path d="M248.1 220.1h0M225.5 192.7h0" stroke="#a48cf4" stroke-width="3.5" stroke-linecap="round" fill="none" stroke-opacity="0.72"/>
<path d="M226.2 215.3h0" stroke="#3ba3ec" stroke-width="3.5" stroke-linecap="round" fill="none" stroke-opacity="0.72"/>
<path d="M254.5 199.8h0M200.0 225.8h0M245.2 140.4h0M120.2 81.6h0M244.6 226.5h0M242.1 210.7h0M221.8 221.1h0M207.4 209.4h0M219.6 134.8h0" stroke="#36ada4" stroke-width="3.5" stroke-linecap="round" fill="none" stroke-opacity="0.72"/>
<path d="M188.0 189.2h0M195.5 198.7h0M194.2 214.0h0M213.4 195.7h0M241.5 212.0h0M231.4 213.5h0M200.9 156.4h0" stroke="#34af8a" stroke-width="3.5" stroke-linecap="round" fill="none" stroke-opacity="0.72"/>
<path d="M227.3 216.5h0M216.1 197.6h0M245.3 222.8h0M240.2 183.9h0M162.0 151.9h0M235.3 194.6h0M249.5 217.5h0M245.2 200.2h0M234.6 200.6h0M253.5 225.0h0M254.2 225.2h0M219.1 218.2h0M251.5 150.3h0" stroke="#f77189" stroke-width="3.5" stroke-linecap="round" fill="none" stroke-opacity="0.72"/>
<path d="M242.2 204.0h0M228.5 203.8h0M218.6 209.9h0M226.0 227.3h0" stroke="#f66bad" stroke-width="3.5" stroke-linecap="round" fill="none" stroke-opacity="0.72"/>
<path d="M233.0 205.2h0M248.0 204.5h0M248.3 183.5h0M212.8 175.9h0M228.9 215.5h0M237.0 223.8h0M215.5 199.8h0M224.9 222.8h0M252.3 196.6h0M236.3 203.1h0M219.5 222.4h0" stroke="#e68332" stroke-width="3.5" stroke-linecap="round" fill="none" stroke-opacity="0.72"/>
<path d="M228.0 213.0h0M253.9 220.2h0M213.5 222.5h0" stroke="#50b131" stroke-width="3.5" stroke-linecap="round" fill="none" stroke-opacity="0.72"/>
<path d="M217.9 211.5h0M210.3 210.1h0M219.0 205.5h0M238.0 186.5h0" stroke="#3ba3ec" stroke-width="3.5" stroke-linecap="round" fill="none" stroke-opacity="0.72"/>
<path d="M239.5 206.0h0M217.3 154.7h0" stroke="#38a9c5" stroke-width="3.5" stroke-linecap="round" fill="none" stroke-opacity="0.72"/>
<path d="M241.4 224.1h0M248.3 216.8h0" stroke="#97a431" stroke-width="3.5" stroke-linecap="round" fill="none" stroke-opacity="0.72"/>
<path d="M222.7 204.3h0M236.6 224.3h0M208.3 188.1h0M240.5 189.6h0" stroke="#a48cf4" stroke-width="3.5" stroke-linecap="round" fill="none" stroke-opacity="0.72"/>
<path d="M248.8 224.2h0" stroke="#bb9832" stroke-width="3.5" stroke-linecap="round" fill="none" stroke-opacity="0.72"/>
<path d="M248.5 215.5h0M156.6 136.5h0M239.0 204.1h0M158.5 180.5h0M205.7 204.2h0M240.1 225.2h0M239.8 213.1h0" stroke="#50b131" stroke-width="3.5" stroke-linecap="round" fill="none" stroke-opacity="0.72"/>
<path d="M222.8 212.8h0M222.8 212.0h0M227.6 224.6h0M242.0 192.2h0M238.8 214.2h0M227.6 211.2h0M194.2 220.7h0" stroke="#f77189" stroke-width="3.5" stroke-linecap="round" fill="none" stroke-opacity="0.72"/>
<path d="M242.2 221.5h0M240.1 225.7h0M202.2 175.3h0M249.5 194.0h0M252.1 222.0h0M232.4 223.2h0M193.9 198.2h0M254.3 223.1h0M157.1 206.8h0M255.0 217.8h0M204.0 187.8h0M203.1 223.5h0M204.3 226.7h0M206.9 183.6h0M252.2 210.8h0M236.3 208.9h0" stroke="#e68332" stroke-width="3.5" stroke-linecap="round" fill="none" stroke-opacity="0.72"/>
<path d="M248.4 182.9h0M234.9 210.8h0M252.9 212.1h0M167.0 143.1h0" stroke="#97a431" stroke-width="3.5" stroke-linecap="round" fill="none" stroke-opacity="0.72"/>
<path d="M240.8 207.7h0M229.1 95.0h0M245.2 179.3h0" stroke="#36ada4" stroke-width="3.5" stroke-linecap="round" fill="none" stroke-opacity="0.72"/>
<path d="M248.9 191.8h0M224.3 222.1h0M234.2 205.8h0M225.6 210.8h0M225.5 184.3h0M242.9 224.3h0M239.1 221.1h0M244.1 197.2h0" stroke="#34af8a" stroke-width="3.5" stroke-linecap="round" fill="none" stroke-opacity="0.72"/>
<path d="M254.7 224.4h0M193.9 110.0h0M191.6 209.9h0M245.8 209.1h0M215.2 225.8h0M200.6 178.8h0" stroke="#bb9832" stroke-width="3.5" stroke-linecap="round" fill="none" stroke-opacity="0.72"/>
<path d="M233.1 215.6h0M236.1 219.1h0" stroke="#a48cf4" stroke-width="3.5" stroke-linecap="round" fill="none" stroke-opacity="0.72"/>
<path d="M223.6 139.9h0M250.9 211.1h0" stroke="#3ba3ec" stroke-width="3.5" stroke-linecap="round" fill="none" stroke-opacity="0.72"/>
<path d="M242.2 219.6h0M207.0 186.5h0" stroke="#f66bad" stroke-width="3.5" stroke-linecap="round" fill="none" stroke-opacity="0.72"/>
<path d="M224.1 210.7h0M187.1 225.4h0" stroke="#38a9c5" stroke-width="3.5" stroke-linecap="round" fill="none" stroke-opacity="0.72"/>
<path d="M216.7 203.4h0" stroke="#f45cf2" stroke-width="3.5" stroke-linecap="round" fill="none" stroke-opacity="0.72"/>
<path d="M248.7 202.9h0M162.5 172.7h0M253.8 164.5h0M217.2 195.0h0M182.9 190.0h0M234.0 200.6h0" stroke="#f66bad" stroke-width="3.5" stroke-linecap="round" fill="none" stroke-opacity="0.72"/>
<path d="M245.5 215.2h0M252.1 214.6h0M145.0 146.9h0M241.0 188.7h0M210.1 213.0h0" stroke="#a48cf4" stroke-width="3.5" stroke-linecap="round" fill="none" stroke-opacity="0.72"/>
<path d="M250.2 182.2h0M164.6 191.2h0M195.4 92.6h0M211.5 179.2h0" stroke="#38a9c5" stroke-width="3.5" stroke-linecap="round" fill="none" stroke-opacity="0.72"/>
<path d="M208.2 185.6h0M220.4 216.0h0M236.1 214.9h0M240.4 210.2h0" stroke="#36ada4" stroke-width="3.5" stroke-linecap="round" fill="none" stroke-opacity="0.72"/>
<path d="M226.9 203.4h0M207.1 142.0h0M179.5 225.5h0M218.1 223.3h0" stroke="#bb9832" stroke-width="3.5" stroke-linecap="round" fill="none" stroke-opacity="0.72"/>
<path d="M204.9 134.7h0M163.1 138.7h0M243.9 221.1h0M246.3 221.8h0M254.7 204.1h0M230.3 216.4h0M194.6 132.2h0M251.2 186.9h0M203.7 200.7h0M200.4 172.9h0M253.2 202.2h0M197.8 224.8h0M245.2 210.5h0M254.9 200.6h0M143.9 195.9h0M230.4 180.9h0M251.4 196.3h0M182.9 106.3h0" stroke="#e68332" stroke-width="3.5" stroke-linecap="round" fill="none" stroke-opacity="0.72"/>
<path d="M220.7 212.7h0M249.2 193.7h0M192.3 183.6h0M254.4 205.9h0M242.0 225.6h0M129.0 207.2h0" stroke="#97a431" stroke-width="3.5" stroke-linecap="round" fill="none" stroke-opacity="0.72"/>
<path d="M223.4 162.1h0M230.4 227.7h0" stroke="#50b131" stroke-width="3.5" stroke-linecap="round" fill="none" stroke-opacity="0.72"/>
<path d="M251.6 215.3h0M248.5 210.1h0M204.6 177.6h0M219.4 221.9h0" stroke="#f77189" stroke-width="3.5" stroke-linecap="round" fill="none" stroke-opacity="0.72"/>
<path d="M247.2 212.6h0M248.9 216.1h0M224.3 228.0h0M251.4 214.2h0M241.6 213.0h0M254.2 195.3h0M179.1 181.3h0" stroke="#34af8a" stroke-width="3.5" stroke-linecap="round" fill="none" stroke-opacity="0.72"/>
<path d="M246.8 226.0h0" stroke="#f66bad" stroke-width="3.5" stroke-linecap="round" fill="none" stroke-opacity="0.72"/>
<path d="M227.0 224.2h0M200.6 209.2h0M252.6 198.9h0" stroke="#f77189" stroke-width="3.5" stroke-linecap="round" fill="none" stroke-opacity="0.72"/>
<path d="M224.9 228.2h0M207.0 209.9h0M168.4 206.8h0M217.3 222.7h0M227.8 223.0h0" stroke="#e68332" stroke-width="3.5" stroke-linecap="round" fill="none" stroke-opacity="0.72"/>
<path d="M252.3 213.6h0M213.4 183.1h0" stroke="#97a431" stroke-width="3.5" stroke-linecap="round" fill="none" stroke-opacity="0.72"/>
<path d="M230.8 189.7h0M213.9 226.9h0M209.3 219.4h0" stroke="#a48cf4" stroke-width="3.5" stroke-linecap="round" fill="none" stroke-opacity="0.72"/>
<path d="M236.7 223.1h0" stroke="#36ada4" stroke-width="3.5" stroke-linecap="round" fill="none" stroke-opacity="0.72"/>
<path d="M226.2 224.3h0" stroke="#34af8a" stroke-width="3.5" stroke-linecap="round" fill="none" stroke-opacity="0.72"/>
<path d="M237.8 166.2h0" stroke="#3ba3ec" stroke-width="3.5" stroke-linecap="round" fill="none" stroke-opacity="0.72"/>
</g>
<rect x="42.4" y="23.6" width="56.1" height="163.7" rx="2" fill="#ffffff" fill-opacity="0.94" stroke="#d8d8d8" stroke-width="0.9"/>
<circle cx="56.5" cy="32.60" r="3.3" fill="#97a431" fill-opacity="0.8"/>
<text x="66.60" y="35.30" font-size="9.4" text-anchor="start" font-weight="normal" fill="#262626">BRCA</text>
<circle cx="56.5" cy="45.85" r="3.3" fill="#3ba3ec" fill-opacity="0.8"/>
<text x="66.60" y="48.55" font-size="9.4" text-anchor="start" font-weight="normal" fill="#262626">KIRC</text>
<circle cx="56.5" cy="59.10" r="3.3" fill="#f66bad" fill-opacity="0.8"/>
<text x="66.60" y="61.80" font-size="9.4" text-anchor="start" font-weight="normal" fill="#262626">THCA</text>
<circle cx="56.5" cy="72.35" r="3.3" fill="#bb9832" fill-opacity="0.8"/>
<text x="66.60" y="75.05" font-size="9.4" text-anchor="start" font-weight="normal" fill="#262626">LUAD</text>
<circle cx="56.5" cy="85.60" r="3.3" fill="#f45cf2" fill-opacity="0.8"/>
<text x="66.60" y="88.30" font-size="9.4" text-anchor="start" font-weight="normal" fill="#262626">PRAD</text>
<circle cx="56.5" cy="98.85" r="3.3" fill="#f77189" fill-opacity="0.8"/>
<text x="66.60" y="101.55" font-size="9.4" text-anchor="start" font-weight="normal" fill="#262626">LUSC</text>
<circle cx="56.5" cy="112.10" r="3.3" fill="#38a9c5" fill-opacity="0.8"/>
<text x="66.60" y="114.80" font-size="9.4" text-anchor="start" font-weight="normal" fill="#262626">LIHC</text>
<circle cx="56.5" cy="125.35" r="3.3" fill="#50b131" fill-opacity="0.8"/>
<text x="66.60" y="128.05" font-size="9.4" text-anchor="start" font-weight="normal" fill="#262626">HNSC</text>
<circle cx="56.5" cy="138.60" r="3.3" fill="#e68332" fill-opacity="0.8"/>
<text x="66.60" y="141.30" font-size="9.4" text-anchor="start" font-weight="normal" fill="#262626">COAD</text>
<circle cx="56.5" cy="151.85" r="3.3" fill="#36ada4" fill-opacity="0.8"/>
<text x="66.60" y="154.55" font-size="9.4" text-anchor="start" font-weight="normal" fill="#262626">STAD</text>
<circle cx="56.5" cy="165.10" r="3.3" fill="#34af8a" fill-opacity="0.8"/>
<text x="66.60" y="167.80" font-size="9.4" text-anchor="start" font-weight="normal" fill="#262626">KIRP</text>
<circle cx="56.5" cy="178.35" r="3.3" fill="#a48cf4" fill-opacity="0.8"/>
<text x="66.60" y="181.05" font-size="9.4" text-anchor="start" font-weight="normal" fill="#262626">KICH</text>
<text x="50.40" y="253.90" font-size="9.4" text-anchor="middle" font-weight="normal" fill="#262626">−0.9</text>
<text x="101.65" y="253.90" font-size="9.4" text-anchor="middle" font-weight="normal" fill="#262626">−0.7</text>
<text x="152.90" y="253.90" font-size="9.4" text-anchor="middle" font-weight="normal" fill="#262626">−0.5</text>
<text x="204.15" y="253.90" font-size="9.4" text-anchor="middle" font-weight="normal" fill="#262626">−0.3</text>
<text x="255.40" y="253.90" font-size="9.4" text-anchor="middle" font-weight="normal" fill="#262626">−0.1</text>
<text x="31.20" y="231.40" font-size="9.4" text-anchor="end" font-weight="normal" fill="#262626">0.1</text>
<text x="31.20" y="182.15" font-size="9.4" text-anchor="end" font-weight="normal" fill="#262626">0.3</text>
<text x="31.20" y="132.90" font-size="9.4" text-anchor="end" font-weight="normal" fill="#262626">0.5</text>
<text x="31.20" y="83.65" font-size="9.4" text-anchor="end" font-weight="normal" fill="#262626">0.7</text>
<text x="31.20" y="34.40" font-size="9.4" text-anchor="end" font-weight="normal" fill="#262626">0.9</text>
<text x="152.50" y="266.80" font-size="9.4" text-anchor="middle" font-weight="normal" fill="#262626">Mean change in usage (normal transcript)</text>
<text transform="translate(11.9,129.55) rotate(-90)" x="0" y="0" font-size="9.4" text-anchor="middle" fill="#262626">Mean change in usage (cancer transcript)</text>
<text x="5.60" y="16.90" font-size="14.4" text-anchor="start" font-weight="bold" fill="#111">A</text>
<line x1="336.65" x2="336.65" y1="19.1" y2="240.6" stroke="#dadada" stroke-width="1"/>
<line x1="362.35" x2="362.35" y1="19.1" y2="240.6" stroke="#dadada" stroke-width="1"/>
<line x1="388.05" x2="388.05" y1="19.1" y2="240.6" stroke="#dadada" stroke-width="1"/>
<line x1="413.75" x2="413.75" y1="19.1" y2="240.6" stroke="#dadada" stroke-width="1"/>
<line x1="426.60" x2="426.60" y1="19.1" y2="240.6" stroke="#dadada" stroke-width="1"/>
<line x1="439.45" x2="439.45" y1="19.1" y2="240.6" stroke="#dadada" stroke-width="1"/>
<line x1="465.15" x2="465.15" y1="19.1" y2="240.6" stroke="#dadada" stroke-width="1"/>
<line x1="490.85" x2="490.85" y1="19.1" y2="240.6" stroke="#dadada" stroke-width="1"/>
<line x1="516.55" x2="516.55" y1="19.1" y2="240.6" stroke="#dadada" stroke-width="1"/>
<line x1="311.6" x2="541.6" y1="30.18" y2="30.18" stroke="#dadada" stroke-width="1"/>
<line x1="311.6" x2="541.6" y1="52.31" y2="52.31" stroke="#dadada" stroke-width="1"/>
<line x1="311.6" x2="541.6" y1="74.44" y2="74.44" stroke="#dadada" stroke-width="1"/>
<line x1="311.6" x2="541.6" y1="96.57" y2="96.57" stroke="#dadada" stroke-width="1"/>
<line x1="311.6" x2="541.6" y1="118.70" y2="118.70" stroke="#dadada" stroke-width="1"/>
<line x1="311.6" x2="541.6" y1="140.84" y2="140.84" stroke="#dadada" stroke-width="1"/>
<line x1="311.6" x2="541.6" y1="162.97" y2="162.97" stroke="#dadada" stroke-width="1"/>
<line x1="311.6" x2="541.6" y1="185.10" y2="185.10" stroke="#dadada" stroke-width="1"/>
<line x1="311.6" x2="541.6" y1="207.23" y2="207.23" stroke="#dadada" stroke-width="1"/>
<line x1="311.6" x2="541.6" y1="229.36" y2="229.36" stroke="#dadada" stroke-width="1"/>
<rect x="311.6" y="19.1" width="230.00" height="221.50" fill="none" stroke="#dadada" stroke-width="1"/>
<path d="M406.9 146.5h0M411.4 154.3h0M395.2 163.6h0M413.4 149.0h0M405.9 156.2h0M403.6 157.6h0M411.8 148.9h0M403.1 137.7h0M408.0 172.5h0M403.3 158.2h0M396.7 173.8h0M412.1 146.5h0M410.2 160.5h0M404.3 203.8h0M399.9 143.2h0M395.1 171.4h0M411.6 168.3h0M398.1 182.9h0M399.7 175.0h0M406.7 174.4h0M409.9 154.4h0M406.6 151.8h0M410.1 153.3h0M358.2 177.7h0M404.6 168.4h0M395.8 151.2h0M383.2 169.9h0M373.0 167.4h0M411.9 141.3h0M397.5 165.4h0M375.4 153.5h0M399.6 145.8h0M405.0 161.5h0M400.7 130.1h0M404.1 129.5h0M410.7 175.8h0M409.6 141.4h0M399.2 152.5h0M403.9 148.4h0M391.9 133.7h0M409.9 152.3h0M405.9 139.3h0M392.2 151.5h0M404.9 161.9h0M383.6 165.0h0M402.4 166.6h0M406.7 163.7h0M393.7 174.8h0M389.4 153.8h0M388.9 151.4h0M409.6 158.0h0M412.7 150.7h0M376.7 152.9h0M407.2 157.9h0M408.7 152.9h0M408.3 153.3h0M322.8 195.7h0M350.0 174.6h0M360.4 154.3h0M406.7 127.4h0M413.5 161.6h0M411.6 164.3h0M385.1 201.8h0M406.7 140.6h0M386.4 211.7h0M408.1 158.0h0M400.5 161.5h0M406.0 154.6h0M408.3 151.7h0M411.4 146.2h0M398.2 166.7h0M400.8 173.3h0M399.8 155.8h0M399.8 148.5h0M411.3 152.5h0M399.9 149.0h0M411.1 194.9h0M381.7 163.7h0M396.1 133.2h0M403.7 175.6h0M390.6 142.9h0M410.7 155.9h0M400.3 148.1h0M410.9 153.7h0M400.5 175.3h0M401.2 187.7h0M407.8 144.4h0M412.6 171.0h0M412.7 154.3h0M413.0 145.1h0M413.2 184.2h0M404.8 186.3h0M396.2 169.7h0M377.7 147.9h0M409.9 179.8h0M371.3 169.3h0M404.4 142.0h0M407.8 166.2h0M413.7 159.6h0M396.5 150.6h0M363.4 165.9h0M373.0 190.5h0M396.4 141.5h0M412.5 105.7h0M404.3 147.0h0M409.7 169.2h0M412.2 141.4h0M379.3 202.5h0M401.8 129.0h0M391.6 172.1h0M402.2 131.5h0M391.6 168.2h0M411.3 142.6h0M387.6 130.9h0M412.8 171.9h0M386.4 142.8h0M404.3 165.8h0M355.3 171.6h0M398.7 162.6h0M411.7 151.2h0M382.5 179.4h0M400.7 154.1h0M389.8 208.9h0M376.8 175.7h0M395.7 144.3h0M397.5 145.9h0M412.7 175.5h0M401.7 174.2h0M393.2 151.8h0M413.4 156.3h0M412.6 150.2h0M413.7 153.2h0M409.4 147.2h0M412.8 164.2h0M398.1 151.2h0M406.9 150.0h0M411.1 164.8h0M413.0 135.5h0M412.3 137.7h0M377.7 160.2h0M360.8 219.7h0M396.6 140.3h0M413.7 141.3h0M409.9 138.4h0M404.1 166.3h0M412.9 135.1h0M402.3 138.7h0M405.8 150.0h0M410.0 144.0h0M387.6 161.5h0M413.3 144.0h0M405.8 168.8h0M397.0 153.3h0M386.8 161.6h0M403.2 184.1h0M408.3 144.3h0M396.8 177.4h0M407.6 173.9h0M402.3 155.2h0M400.9 152.5h0M408.7 173.5h0M397.5 170.8h0M405.4 132.7h0M400.2 160.0h0M390.8 146.6h0M411.0 151.4h0M391.9 146.1h0M400.7 165.5h0M383.3 175.8h0M411.4 165.8h0M412.1 180.7h0M397.8 165.1h0M403.6 180.0h0M394.7 168.2h0M372.2 172.1h0M406.7 207.8h0M398.7 150.7h0M406.9 159.7h0M410.8 165.4h0M384.4 157.9h0M404.9 157.1h0M412.1 149.9h0M398.1 197.7h0M395.5 177.9h0M399.2 140.7h0M412.1 164.1h0M404.3 172.1h0M413.7 133.9h0M410.6 170.8h0M398.9 142.5h0M408.2 154.3h0M412.6 160.1h0M380.1 202.3h0M408.7 131.3h0M413.4 178.6h0M400.3 177.1h0M394.3 148.6h0M409.4 171.9h0M407.2 145.3h0M397.2 163.7h0M411.1 167.9h0M351.3 197.7h0M409.8 147.5h0M384.7 156.9h0M397.8 155.2h0M398.0 150.3h0M407.9 149.3h0M403.6 146.6h0M411.9 144.5h0M410.7 138.1h0M412.8 142.9h0M371.0 170.1h0M406.8 168.3h0M323.7 231.3h0M408.5 151.9h0M407.2 138.1h0M399.3 173.0h0M412.3 175.7h0M400.4 166.2h0M413.7 143.8h0M410.3 137.9h0M397.0 164.7h0M413.0 168.7h0M403.7 156.5h0M398.4 182.4h0M397.5 143.1h0M406.3 191.2h0M398.8 144.6h0M406.7 133.6h0M401.0 171.0h0M400.8 146.9h0M332.4 190.4h0M385.7 166.8h0M395.0 139.9h0M404.4 156.9h0M409.7 177.8h0M413.1 165.1h0M399.5 136.5h0M410.2 178.5h0M381.3 191.8h0M409.5 139.0h0M408.2 150.5h0M413.0 130.6h0M411.6 167.7h0M412.5 162.0h0M387.7 153.6h0M412.9 162.0h0M407.3 157.1h0M394.0 164.1h0M389.9 150.0h0M404.1 156.7h0M360.0 188.3h0M379.7 137.5h0M412.5 132.6h0M369.9 159.3h0M373.1 169.5h0M380.5 157.9h0M403.9 163.0h0M400.1 178.6h0M407.1 152.4h0M387.0 166.0h0M412.1 147.0h0M361.7 168.9h0M408.9 182.3h0M404.8 161.1h0M406.9 157.4h0M406.6 151.9h0M405.7 172.5h0M412.5 136.5h0M395.5 146.0h0M407.2 145.4h0M412.2 139.5h0M395.9 177.8h0M411.5 132.7h0M390.2 175.6h0M409.5 182.2h0M406.7 151.7h0M401.2 150.3h0M399.2 169.2h0M330.9 225.9h0M409.7 170.3h0M404.3 200.7h0M408.9 193.0h0M411.7 134.3h0M407.2 137.4h0M407.3 156.3h0M409.3 154.8h0M410.4 169.7h0M412.5 140.1h0M391.3 154.1h0M388.0 199.9h0M410.8 132.6h0M410.4 156.4h0M404.8 109.9h0M412.1 161.0h0M402.8 146.4h0M411.4 145.7h0M402.3 160.0h0M388.5 178.4h0M413.4 150.6h0M413.0 168.7h0M407.5 188.2h0M397.5 158.2h0M390.1 182.1h0M384.4 188.0h0M406.8 144.4h0M399.1 160.9h0M398.8 152.3h0M386.4 163.1h0M398.4 151.5h0M397.7 178.2h0M411.2 137.6h0M409.5 138.4h0M391.5 179.7h0M409.0 141.8h0M393.6 156.5h0M412.6 153.6h0M395.9 158.8h0M413.5 160.0h0M405.3 140.5h0M410.1 172.6h0M409.2 181.4h0M390.2 177.0h0M402.9 141.2h0M408.5 161.7h0M403.9 117.5h0M408.9 141.9h0M398.8 174.9h0M409.2 152.2h0M396.3 166.4h0M410.6 148.3h0M413.2 156.9h0M406.3 142.7h0M403.5 170.4h0M398.1 205.0h0M395.7 175.8h0M406.2 177.6h0M398.6 166.1h0M404.3 168.4h0M379.8 158.3h0M411.8 135.0h0M410.9 168.5h0M405.1 145.6h0M404.2 154.9h0M391.4 150.5h0M400.2 128.9h0M412.3 174.1h0M395.4 159.2h0M399.9 125.7h0M413.7 157.0h0M400.0 136.0h0M412.5 151.8h0M412.9 152.8h0M373.5 171.8h0M400.6 174.5h0M393.3 171.8h0M410.4 141.7h0M399.9 151.7h0M409.5 150.0h0M371.2 158.0h0M393.2 135.4h0M409.3 168.1h0M410.4 135.2h0M404.4 164.8h0M412.3 159.2h0M404.0 156.9h0M411.3 147.1h0M394.9 169.3h0M407.5 154.2h0M367.6 169.8h0M387.5 178.1h0M411.3 178.2h0M410.2 169.1h0M380.6 166.3h0M383.5 180.1h0M375.9 185.6h0M412.1 138.7h0M402.1 160.8h0M412.7 156.0h0M353.3 182.2h0M383.4 144.2h0M412.7 145.0h0M379.4 168.6h0M398.8 133.4h0M410.7 170.8h0M396.1 177.9h0M409.9 159.7h0M403.6 130.5h0M410.5 168.8h0M396.4 167.0h0M410.6 142.3h0M413.3 148.4h0M412.5 135.7h0M395.8 196.8h0M373.2 200.2h0M386.0 156.0h0M394.9 140.5h0M408.9 176.7h0M411.3 180.7h0M397.5 166.2h0M412.1 180.1h0M351.3 179.9h0M400.8 175.6h0M392.3 150.2h0M407.9 158.2h0M412.9 147.5h0M365.0 167.9h0M406.6 176.3h0M409.8 143.8h0M413.3 134.8h0M413.6 187.3h0M408.0 154.6h0M387.5 230.8h0M406.2 170.5h0M407.3 146.7h0M401.4 149.9h0M409.1 177.2h0M411.5 160.2h0M385.4 160.7h0M409.4 145.8h0M408.6 153.7h0M405.6 133.3h0M410.5 153.9h0M380.4 159.5h0M413.6 131.8h0M413.4 152.4h0M397.1 147.3h0M367.5 167.0h0M396.7 173.2h0M367.3 200.9h0M387.5 139.4h0M386.5 170.0h0M402.9 153.4h0M402.6 150.1h0M412.5 135.7h0M412.2 183.0h0M411.9 142.0h0M351.7 190.1h0M362.5 175.5h0M408.9 159.5h0M411.3 144.5h0M407.9 141.8h0M404.3 135.5h0M405.4 151.3h0M412.1 138.1h0M397.1 135.4h0M409.3 148.6h0M400.8 166.7h0M406.5 158.4h0M409.3 144.4h0M404.6 140.3h0M382.4 174.4h0M412.8 143.0h0M372.4 183.2h0M397.5 146.1h0M409.7 150.3h0M396.9 184.7h0M398.3 156.6h0M394.3 144.9h0M390.5 183.1h0M400.0 169.1h0M402.8 147.9h0M403.4 154.5h0M389.7 168.2h0M398.1 173.0h0M395.4 182.0h0M406.3 166.7h0M411.8 160.3h0M409.5 144.5h0M407.1 153.7h0M396.8 145.4h0M380.1 149.7h0M404.8 147.8h0M410.7 132.2h0M408.3 147.0h0M406.3 180.4h0M410.6 161.3h0M382.4 145.1h0M406.0 136.6h0M397.3 162.4h0M387.1 197.1h0M400.5 168.2h0M329.4 180.6h0M361.6 160.8h0M331.1 224.3h0M392.6 183.2h0M410.3 160.3h0M411.4 178.2h0M407.5 150.9h0M410.4 168.2h0M405.5 146.3h0M385.4 169.5h0M406.7 162.0h0M405.2 143.6h0M398.5 196.5h0M396.2 157.4h0M385.6 171.6h0M400.0 158.0h0M412.0 180.5h0M413.5 164.2h0M412.3 160.5h0M371.9 138.6h0M372.8 145.6h0M387.1 158.6h0M413.2 164.9h0M377.2 178.6h0M411.9 170.0h0M408.2 152.9h0M404.5 155.9h0M412.1 150.5h0M410.6 146.5h0M393.0 144.9h0M386.6 154.5h0M391.1 180.8h0M410.9 137.3h0M380.6 223.2h0M405.5 139.4h0M389.7 136.8h0M372.3 175.5h0M410.0 152.7h0M409.2 156.0h0M413.2 135.6h0M396.1 163.7h0M368.0 163.3h0M371.0 148.9h0M409.2 127.9h0M412.4 158.1h0M356.8 184.6h0M403.6 152.4h0M412.9 176.3h0M398.8 180.6h0M412.3 143.3h0M376.2 190.9h0M412.9 147.3h0M399.5 144.3h0M410.0 142.8h0M408.2 165.7h0M367.3 188.9h0M413.0 134.6h0M412.8 157.5h0M403.1 153.3h0M412.4 134.8h0M392.3 215.8h0M406.0 219.8h0M413.7 128.8h0M410.0 140.2h0M378.8 181.4h0M374.0 226.8h0M359.1 152.1h0M402.6 166.8h0M409.1 153.9h0M384.9 172.6h0M395.0 192.2h0M399.5 154.4h0M401.4 176.8h0M412.5 142.0h0M404.2 147.7h0M413.3 157.3h0M408.1 149.4h0M407.3 138.8h0M382.0 192.6h0M384.8 150.5h0M404.1 154.6h0M409.3 146.1h0M412.0 134.6h0M409.3 139.2h0M401.5 176.8h0M392.1 179.8h0M397.5 154.4h0M393.9 149.6h0M413.4 139.5h0M410.6 180.0h0M382.1 175.6h0M380.1 180.3h0M412.5 170.0h0M409.8 171.7h0M411.5 158.9h0M407.3 151.2h0M410.8 169.5h0M411.5 150.0h0M407.7 156.9h0M406.3 139.7h0M361.2 187.4h0M400.8 176.5h0M393.6 160.7h0M412.8 191.1h0M396.6 155.0h0M411.7 148.5h0M407.9 162.0h0M399.5 154.8h0M381.2 179.4h0M402.3 153.9h0M412.7 163.3h0M404.5 143.8h0M410.3 145.5h0M407.7 175.3h0M402.9 186.6h0M390.6 151.8h0M364.1 172.4h0M408.5 149.9h0M389.4 181.4h0M382.9 178.2h0M411.8 147.5h0M406.2 148.8h0M393.8 161.2h0M410.5 163.9h0M409.2 155.2h0M386.2 173.3h0M410.4 169.2h0M405.0 171.5h0M413.3 161.9h0M392.0 185.7h0M411.8 142.7h0M412.9 137.4h0M397.3 144.9h0M406.0 165.9h0M407.7 140.7h0M407.1 149.1h0M406.0 161.0h0M404.4 159.5h0M411.6 155.2h0M408.0 177.8h0M403.0 135.6h0M411.7 172.8h0M398.2 183.1h0M383.3 166.6h0M406.2 170.8h0M407.7 147.4h0M405.1 148.7h0M375.6 178.0h0M412.0 172.3h0M412.7 168.3h0M380.3 204.0h0M413.2 160.3h0M412.6 168.7h0M409.0 169.8h0M410.4 164.7h0M410.6 152.0h0M404.3 147.9h0M401.8 150.6h0M368.7 182.1h0M406.1 131.3h0M324.5 191.7h0M411.5 182.4h0M380.4 153.5h0M405.0 145.3h0M371.4 157.6h0M408.4 180.0h0M395.6 145.6h0M408.5 145.8h0M410.1 137.0h0M413.2 146.8h0M410.7 133.0h0M393.7 167.7h0M411.3 158.7h0M405.0 143.2h0M412.8 138.4h0M413.3 170.4h0M411.7 131.6h0M403.8 136.8h0M398.3 142.4h0M388.7 175.5h0M368.3 156.8h0M410.6 143.0h0M398.5 143.8h0M409.6 152.4h0M396.9 166.0h0M410.7 161.9h0M409.4 161.2h0M404.7 192.3h0M404.5 167.5h0M399.2 167.4h0M407.0 148.1h0M401.8 160.4h0M412.5 133.9h0M397.9 168.9h0M413.4 168.9h0M391.3 152.3h0M400.1 172.9h0M373.3 180.6h0M390.3 159.7h0M412.9 161.8h0M407.3 164.4h0M407.3 174.9h0M409.8 146.4h0M411.6 131.9h0M409.1 193.3h0M399.6 158.1h0M409.7 164.2h0M403.0 148.6h0M404.3 153.3h0M397.0 160.3h0M402.1 154.5h0M412.2 138.1h0M413.2 142.4h0M341.2 178.5h0M413.6 159.0h0M390.4 170.8h0M368.9 159.7h0M393.5 177.6h0M410.6 135.2h0M400.8 177.9h0M413.5 132.7h0M390.4 143.9h0M393.1 170.1h0M407.8 158.2h0M413.4 181.1h0M409.9 152.2h0M403.9 136.6h0M412.4 140.5h0M410.9 147.1h0M402.5 147.3h0M353.5 199.6h0M410.6 155.6h0M412.4 140.9h0M401.9 115.6h0M386.0 158.8h0M410.8 176.8h0M405.7 150.6h0M410.7 128.9h0M409.4 133.2h0M402.0 154.3h0M340.8 216.0h0M335.4 186.4h0M413.1 163.1h0M406.8 162.7h0M372.4 182.8h0M406.5 164.6h0M410.9 183.9h0M406.6 157.9h0M397.1 157.6h0M407.9 223.2h0M407.0 157.7h0M384.2 173.9h0M350.5 163.2h0M402.2 153.6h0M374.8 144.6h0M405.1 160.9h0M390.5 177.3h0M382.8 153.0h0M411.1 162.7h0M408.9 173.9h0M392.1 188.3h0M410.4 168.3h0M399.1 166.0h0M388.2 172.2h0M398.2 182.1h0M412.7 190.6h0M407.4 144.0h0M384.7 171.1h0M402.8 176.7h0M400.6 161.5h0M408.0 145.9h0M404.3 155.1h0M388.8 163.7h0M406.5 153.5h0M375.6 162.2h0M413.7 170.5h0M347.9 198.1h0M403.1 149.8h0M408.9 151.9h0M406.2 170.4h0M411.3 155.2h0M384.5 198.5h0M411.3 150.5h0M402.0 182.2h0M406.1 179.2h0M413.1 172.2h0M412.1 152.5h0M397.7 143.8h0M406.1 135.9h0M412.4 148.1h0M395.8 147.4h0M403.4 150.1h0M409.2 151.1h0M387.2 148.6h0M406.0 172.9h0M365.9 212.3h0M394.0 229.6h0M409.1 130.4h0M354.0 171.5h0M408.4 160.0h0M394.2 164.9h0M407.4 155.9h0M405.3 148.5h0M404.3 143.2h0M410.2 166.7h0M404.2 134.3h0M408.9 157.6h0M409.2 166.5h0M413.2 153.3h0M398.4 173.1h0M411.8 152.7h0M396.9 187.7h0M412.8 157.7h0M388.9 163.3h0M405.7 148.4h0M394.1 167.4h0M400.4 183.9h0M409.2 155.7h0M395.7 168.0h0M412.6 150.3h0M407.0 132.1h0M412.7 173.1h0M391.3 219.6h0M374.9 175.5h0M412.3 136.6h0M396.1 169.5h0M365.4 182.2h0M396.6 182.9h0M411.3 169.5h0M408.2 159.9h0M409.9 137.2h0M376.3 144.1h0M404.0 142.8h0M410.1 153.4h0M392.6 145.3h0M404.4 178.2h0M361.2 132.4h0M395.3 173.1h0M404.8 187.1h0M413.4 195.0h0M412.1 156.9h0M380.7 155.3h0M411.2 140.7h0M396.8 140.0h0M404.1 198.0h0M409.9 154.1h0M405.4 168.2h0M402.4 176.7h0M393.0 156.7h0M405.3 144.7h0M409.8 152.0h0M383.1 148.6h0M412.5 139.5h0M397.1 155.6h0M411.8 156.6h0M404.7 163.6h0M411.2 161.4h0M362.7 165.3h0M375.7 154.4h0M399.2 164.4h0M412.6 170.2h0M358.9 175.6h0M408.5 146.8h0M412.3 136.7h0M401.1 181.4h0M400.9 163.4h0M408.7 197.0h0M394.1 139.5h0M402.9 165.4h0M411.2 137.0h0M365.9 176.0h0M408.6 147.5h0M397.9 169.4h0M353.9 189.9h0M410.4 147.5h0M403.6 135.7h0M375.7 162.0h0M413.5 141.6h0M396.5 179.7h0M404.6 154.4h0M393.4 163.6h0M396.7 166.2h0M347.4 179.0h0M407.6 159.6h0M396.8 167.7h0M409.1 133.6h0M412.0 138.9h0M407.9 161.7h0M407.6 147.7h0M383.0 165.4h0M402.5 176.2h0M413.4 140.7h0M406.0 144.9h0M410.5 147.7h0M408.2 164.2h0M374.4 180.9h0M413.7 138.1h0M396.2 150.4h0M409.7 143.3h0M406.5 149.5h0M413.2 156.7h0M413.4 186.5h0M395.1 179.6h0M406.4 142.0h0M406.0 146.5h0M376.4 168.9h0M405.4 167.8h0M401.5 160.8h0M406.6 184.8h0M391.1 167.5h0M393.7 155.7h0M384.0 152.6h0M372.3 154.3h0M408.4 168.6h0M408.8 153.9h0M408.0 133.1h0M399.5 149.2h0M410.1 179.6h0M413.7 157.2h0M407.2 137.1h0M401.8 165.0h0M408.1 156.2h0M407.9 182.0h0M397.2 157.8h0M410.9 153.2h0M411.4 140.2h0M404.4 141.3h0M381.3 176.3h0M406.6 182.6h0M409.4 150.0h0M403.8 199.8h0M408.6 141.7h0M340.8 182.8h0M402.8 174.9h0M345.0 181.5h0M405.3 164.7h0M401.5 136.7h0M379.4 181.9h0M407.2 166.2h0M412.0 160.5h0M400.5 173.5h0M410.3 133.2h0M364.6 151.3h0M408.9 158.2h0M406.4 158.6h0M412.0 161.4h0M402.7 167.8h0M412.8 142.9h0M391.0 144.1h0M391.1 161.1h0M330.1 213.6h0M341.3 189.5h0M390.4 175.7h0M410.7 193.1h0M397.9 156.8h0M410.2 178.7h0M406.7 163.4h0M397.7 158.0h0M409.7 157.9h0M398.0 179.7h0M411.9 214.6h0M413.5 134.3h0M388.0 152.9h0M408.9 148.8h0M409.2 148.4h0M407.0 163.1h0M410.7 145.8h0M399.1 155.9h0M413.0 145.0h0M410.4 141.8h0M410.3 149.4h0M411.4 137.9h0M409.2 165.2h0M393.8 153.4h0M404.8 170.9h0M373.1 190.8h0M413.4 149.4h0M396.0 163.2h0M405.0 162.5h0M378.4 171.0h0M406.0 145.3h0M403.2 179.3h0M401.4 171.6h0M392.5 147.4h0M409.9 155.0h0M405.6 174.3h0M410.3 186.2h0M411.6 157.6h0M412.2 177.8h0M409.2 150.1h0M399.9 129.0h0M402.4 175.8h0M406.8 143.7h0M408.6 171.3h0M406.4 157.2h0M412.1 163.7h0M403.3 120.7h0M412.1 151.4h0M396.8 171.5h0M383.3 180.3h0M408.0 158.9h0M378.4 178.9h0M384.2 179.6h0M404.7 145.7h0M412.4 131.9h0M393.3 182.1h0M402.5 164.1h0M404.6 141.2h0M412.6 141.0h0M373.1 194.8h0M379.5 165.6h0M413.0 137.6h0M392.4 159.8h0M366.6 173.8h0M392.3 172.2h0M381.0 163.6h0M409.8 143.4h0M403.3 157.6h0M412.0 142.5h0M407.6 157.6h0M410.5 170.0h0M410.9 146.8h0M409.9 158.8h0M388.1 191.9h0M408.7 140.0h0M409.9 146.3h0M387.4 154.6h0M393.6 169.4h0M411.5 143.9h0M391.5 148.2h0M407.7 163.8h0M392.8 167.5h0M396.7 140.3h0M404.6 155.9h0M413.5 149.8h0M412.0 128.0h0M407.9 135.6h0M397.7 156.1h0M390.7 160.3h0M409.5 153.5h0M413.5 158.6h0M368.9 152.6h0M398.1 166.7h0M327.7 199.5h0M403.8 141.4h0M403.3 130.4h0M413.3 138.0h0M384.1 152.3h0M412.1 149.0h0M399.3 160.2h0M412.6 151.1h0M409.7 158.0h0M399.5 147.6h0M409.2 167.1h0M412.8 147.9h0M399.1 151.2h0M409.7 148.1h0M407.3 169.4h0M411.8 156.2h0M412.2 143.6h0M387.5 160.6h0M408.5 154.7h0M405.3 155.4h0M396.3 152.1h0M406.6 158.6h0M408.0 179.2h0M391.1 203.2h0M399.8 172.6h0M395.6 199.8h0M402.5 164.6h0M367.9 188.5h0M403.8 160.5h0M405.5 155.4h0M407.2 148.5h0M405.0 136.5h0M406.1 177.5h0M407.3 147.1h0M409.8 143.2h0M409.8 142.0h0M407.3 143.7h0M390.9 156.8h0M375.7 179.8h0M381.3 155.6h0M411.2 146.2h0M409.0 143.4h0M401.6 152.3h0M386.2 170.3h0M409.4 153.0h0M405.5 145.4h0M403.7 139.9h0M413.2 142.8h0M396.7 177.2h0M372.9 199.3h0M409.1 160.7h0M399.2 168.7h0M409.2 149.5h0M384.8 171.8h0M408.4 162.4h0M399.0 185.5h0M403.9 168.2h0M397.3 164.3h0M401.6 193.5h0M374.0 181.1h0M388.9 178.9h0M389.7 185.1h0M412.3 147.9h0M409.6 160.7h0M411.6 166.2h0M406.1 158.6h0M346.7 185.2h0M402.5 131.8h0M401.0 171.1h0M403.0 163.2h0M409.7 182.1h0M411.8 169.5h0M391.1 191.7h0M394.8 147.4h0M408.4 155.4h0M398.7 181.4h0M389.9 138.7h0M392.3 173.0h0M412.9 128.1h0M403.3 173.6h0M389.6 171.4h0M407.4 150.0h0M400.6 162.0h0M412.2 148.0h0M413.5 169.3h0M388.3 174.1h0M408.2 177.5h0M408.4 141.4h0M397.3 112.3h0M384.5 165.9h0M411.7 155.7h0M413.1 177.1h0M412.4 137.4h0M404.9 136.9h0M404.7 172.2h0M412.9 136.1h0M407.0 181.3h0M410.0 171.7h0M403.2 154.1h0M413.7 171.2h0M405.3 143.4h0M401.3 135.6h0M378.7 212.2h0M406.1 146.9h0M400.5 133.3h0M412.9 142.4h0M386.2 146.3h0M400.4 173.7h0M406.9 151.4h0M405.1 142.1h0M404.7 150.1h0M394.1 148.9h0M388.6 179.9h0M388.5 170.8h0M411.9 155.6h0M412.9 133.3h0M402.5 148.8h0M391.5 156.5h0M413.5 151.2h0M412.0 187.9h0M409.8 189.1h0M398.4 172.5h0M340.4 192.9h0M409.9 158.0h0M409.5 142.1h0M407.9 140.6h0M404.9 177.1h0M411.5 154.1h0M411.6 168.2h0M400.6 150.0h0M406.0 157.6h0M400.0 149.7h0M403.4 158.6h0M385.3 137.1h0M384.4 164.9h0M413.3 140.9h0M412.5 133.9h0M377.1 160.7h0M406.0 154.3h0M403.1 146.0h0M407.6 145.2h0M389.4 221.4h0M410.6 156.8h0M409.4 160.6h0M397.8 162.4h0M408.3 168.2h0M412.1 157.0h0M383.7 183.7h0M398.4 163.5h0M413.4 156.9h0M412.0 158.0h0M412.0 156.4h0M371.1 146.3h0M393.9 154.3h0M413.1 163.6h0M395.0 142.1h0M403.9 162.4h0M406.9 180.6h0M409.1 142.1h0M410.1 172.8h0M355.0 185.5h0M407.6 144.3h0M401.5 145.1h0M398.4 166.4h0M413.0 157.2h0M394.7 161.9h0M385.7 147.5h0M401.8 173.0h0M394.1 184.5h0M399.3 153.2h0M408.2 169.5h0M409.9 156.4h0M405.9 167.0h0M412.4 145.3h0M410.8 156.8h0M373.2 210.9h0M400.8 157.7h0M392.6 210.8h0M412.6 136.6h0M411.9 178.8h0M408.9 159.4h0M325.5 191.5h0M409.2 157.2h0M364.3 162.9h0M391.7 140.6h0M408.4 191.7h0M413.1 152.0h0M404.9 165.4h0M398.9 121.4h0M404.4 154.8h0M409.4 140.5h0M404.1 138.7h0M395.9 170.3h0M371.0 146.6h0M402.5 163.8h0M393.8 161.4h0M403.0 163.7h0M391.2 169.3h0M406.1 157.8h0M408.5 162.6h0M395.0 166.7h0M387.4 160.5h0M409.3 149.9h0M402.6 171.6h0M407.5 145.0h0M331.0 211.3h0M381.2 161.6h0M395.1 159.1h0M405.2 183.3h0M399.8 173.1h0M410.7 136.3h0M364.0 171.8h0M392.3 130.8h0M405.3 160.6h0M401.0 154.9h0M413.1 140.5h0M399.4 162.0h0M402.3 130.0h0M410.6 159.5h0M413.0 156.5h0M410.5 153.6h0M392.9 158.9h0M393.5 138.8h0M391.9 126.2h0M407.3 158.0h0M405.5 156.4h0M400.9 146.9h0M411.1 152.3h0M408.9 138.7h0M383.3 183.5h0M404.7 141.3h0M409.8 184.6h0M410.0 143.1h0M413.1 139.0h0M405.0 168.1h0M400.0 146.5h0M365.9 206.3h0M410.7 165.1h0M363.6 175.2h0M413.6 161.9h0M413.4 166.9h0M413.2 162.1h0M401.1 159.9h0M403.9 157.9h0M379.4 201.5h0M410.4 146.6h0M399.9 183.6h0M333.3 186.8h0M404.6 167.2h0M394.6 174.5h0M412.5 170.6h0M397.1 164.9h0M396.2 137.4h0M412.3 145.8h0M393.0 193.9h0M404.0 200.8h0M405.8 145.2h0M411.2 195.2h0M410.1 166.4h0M411.5 138.0h0M375.3 216.8h0M406.0 157.3h0M378.6 157.1h0M411.2 160.7h0M365.5 200.1h0M408.1 157.2h0M401.4 190.0h0M376.1 183.4h0M406.6 174.9h0M413.7 138.5h0M409.1 163.7h0M400.2 148.0h0M377.3 172.9h0M376.3 177.0h0M398.9 130.7h0M387.1 185.8h0M390.4 141.7h0M376.8 181.5h0M412.1 182.6h0M410.1 179.4h0M411.3 189.9h0M403.2 177.3h0M413.7 210.4h0M395.8 140.2h0M413.7 148.6h0M354.5 181.5h0M409.3 140.4h0M410.4 139.1h0M382.8 150.6h0M407.5 157.3h0M413.1 164.6h0M402.3 165.1h0M402.6 159.8h0M345.4 168.2h0M407.0 158.1h0M404.2 158.5h0M389.0 136.0h0M412.9 146.7h0M341.7 198.3h0M376.6 160.9h0M377.8 166.1h0M408.5 164.8h0M389.3 142.7h0M411.4 163.9h0M406.1 166.2h0M366.1 185.9h0M404.6 174.5h0M392.2 149.5h0M406.6 188.2h0M393.7 150.9h0M413.5 143.2h0M412.1 138.5h0M413.7 163.0h0M396.2 157.5h0M402.0 158.3h0M392.1 148.4h0M408.9 146.2h0M406.5 162.7h0M406.9 151.3h0M399.0 136.3h0M371.2 153.6h0M411.5 176.3h0M407.6 177.8h0M404.6 169.1h0M411.9 164.8h0M395.6 176.8h0M405.9 176.5h0M399.5 138.5h0M392.9 173.8h0M386.8 174.4h0M413.1 150.8h0M406.7 155.7h0M385.9 185.1h0M366.7 179.7h0M322.6 208.5h0M405.9 163.7h0M406.4 125.4h0M411.1 151.8h0M402.1 162.3h0M394.1 136.3h0M397.8 153.8h0M413.3 139.6h0M373.8 182.3h0M411.8 133.0h0M393.0 166.9h0M409.7 137.8h0M408.3 142.3h0M410.5 135.4h0M405.1 154.7h0M405.3 171.1h0M391.3 229.2h0M408.4 163.4h0M413.5 125.1h0M406.7 160.5h0M410.1 187.7h0M408.4 146.3h0M380.2 156.5h0M403.9 169.7h0M413.5 138.0h0M394.5 181.8h0M403.4 151.6h0M403.6 157.9h0M410.9 145.9h0M410.4 144.5h0M410.0 186.9h0M403.6 142.5h0M413.6 157.3h0M413.3 147.6h0M384.4 144.4h0M406.1 168.5h0M376.1 174.7h0M408.0 127.3h0M412.5 160.8h0M382.2 188.7h0M388.7 155.6h0M382.4 178.5h0M402.0 155.1h0M378.3 192.3h0M397.4 149.0h0M395.1 186.0h0M411.7 149.7h0M404.7 143.5h0M409.6 176.7h0M408.1 172.9h0M397.5 189.5h0M404.8 126.1h0M404.0 185.8h0M396.3 180.3h0M410.0 146.3h0M413.5 148.6h0M412.3 178.3h0M398.7 151.1h0M408.9 153.2h0M393.0 141.5h0M410.4 188.8h0M404.9 139.4h0M409.7 141.9h0M401.4 146.7h0M395.3 172.6h0M409.1 160.7h0M412.4 167.0h0M413.7 138.4h0M411.7 133.5h0M382.4 139.0h0M390.0 172.0h0M406.7 155.1h0M401.4 155.2h0M390.8 163.2h0M394.6 174.2h0M412.5 137.2h0M363.0 212.2h0M411.9 158.0h0M368.6 207.0h0M387.7 154.9h0M383.4 189.8h0M402.6 174.5h0M380.6 169.4h0M336.7 211.2h0M399.8 148.6h0M413.1 155.8h0M392.1 130.8h0M404.6 174.3h0M413.2 162.6h0M407.7 143.7h0M400.0 155.6h0M409.7 144.5h0M411.3 184.2h0M410.2 136.1h0M396.3 154.1h0M407.6 178.6h0M403.3 177.3h0M408.5 148.3h0M411.7 162.6h0M409.3 145.5h0M411.2 165.8h0M394.3 186.1h0M408.5 173.8h0M396.8 145.1h0M411.0 179.7h0M391.1 147.4h0M396.7 190.6h0M403.1 140.5h0M395.9 185.7h0M406.1 154.9h0M396.5 166.7h0M402.3 182.2h0M400.4 187.0h0M411.3 142.6h0M409.5 159.5h0M408.2 135.0h0M405.7 154.8h0M348.7 144.1h0M413.3 146.6h0M398.8 152.5h0M357.7 181.5h0M409.5 143.0h0M391.4 174.7h0M406.9 163.6h0M407.1 156.1h0M405.9 172.3h0M402.8 147.4h0M405.3 167.6h0M408.8 150.7h0M378.6 151.9h0M399.1 136.9h0M413.0 130.5h0M412.3 139.1h0M403.0 146.5h0M387.5 159.8h0M411.7 150.6h0M385.6 129.1h0M391.5 163.3h0M398.2 131.1h0M403.8 135.1h0M374.3 174.0h0M403.4 198.2h0M381.5 178.1h0M398.6 132.3h0M386.7 140.6h0M412.0 159.6h0M409.7 152.1h0M411.3 135.0h0M392.4 182.9h0M379.3 167.5h0M392.7 182.0h0M412.3 141.8h0M410.2 141.7h0M412.1 163.8h0M403.3 155.6h0M407.6 151.8h0M395.2 183.3h0M389.6 140.5h0M405.5 146.4h0M412.4 148.7h0M380.7 150.8h0M378.9 175.0h0M408.2 143.8h0M400.7 139.7h0M404.3 185.7h0M413.3 201.3h0M400.3 177.7h0M409.1 142.1h0M402.5 159.1h0M411.3 153.3h0M390.1 161.0h0M393.7 161.9h0M406.9 168.5h0M406.6 146.6h0M413.4 160.9h0M410.0 163.0h0M410.7 136.1h0M405.4 169.8h0M366.7 177.5h0M396.4 175.2h0M402.9 162.3h0M385.7 221.6h0M395.2 151.1h0M412.9 179.3h0M380.2 166.7h0M407.2 120.5h0M400.9 160.7h0M380.8 169.4h0M409.1 168.2h0M395.6 165.7h0M371.1 186.6h0M343.0 214.9h0M410.6 163.4h0M365.2 184.8h0M405.1 147.4h0M405.0 157.9h0M399.0 163.4h0M396.5 178.3h0M412.7 154.6h0M406.7 180.0h0M405.4 155.4h0M408.2 149.4h0M407.6 148.8h0M384.6 170.2h0M408.2 172.9h0M357.9 156.2h0M393.0 154.6h0M393.0 164.8h0M388.1 159.7h0M409.7 138.9h0M405.1 203.3h0M382.0 153.1h0M397.4 215.3h0M408.6 141.7h0M405.1 171.3h0M405.5 141.9h0M406.7 150.2h0M411.6 151.2h0M403.9 164.8h0M410.9 165.2h0M390.6 162.4h0M398.7 166.9h0M399.5 210.5h0M410.6 176.4h0M400.3 176.9h0M403.8 148.8h0M407.2 165.7h0M407.3 144.2h0M401.0 134.6h0M407.4 182.5h0M407.7 135.0h0M412.6 169.2h0M406.1 160.1h0M413.5 149.1h0M403.9 164.3h0M395.6 155.1h0M409.7 149.4h0M407.3 164.3h0M411.4 146.2h0M404.5 148.9h0M410.7 161.0h0M396.7 167.5h0M377.9 159.4h0M407.3 159.9h0M413.3 140.7h0M405.5 127.9h0M403.0 189.0h0M406.3 153.6h0M401.8 173.9h0M398.3 147.3h0M399.8 152.7h0M412.3 149.3h0M412.7 157.4h0M395.9 174.5h0M402.7 182.1h0M411.5 134.1h0M384.7 169.0h0M406.1 152.4h0M399.3 151.9h0M409.1 138.4h0M412.5 146.2h0M409.3 153.8h0M413.3 138.1h0M407.0 178.6h0M389.0 169.5h0M410.1 217.9h0M408.1 133.1h0M395.9 176.5h0M395.1 158.5h0M381.7 166.4h0M390.1 166.1h0M381.7 171.2h0M410.2 160.8h0M357.5 190.8h0M407.8 158.7h0M410.2 230.6h0M406.7 182.5h0M404.1 137.8h0M399.3 157.6h0M400.2 149.8h0M405.1 171.4h0M370.6 189.2h0M400.7 143.4h0M413.6 159.9h0M375.4 182.3h0M398.9 176.5h0M409.1 174.4h0M390.3 172.2h0M396.3 166.4h0M388.1 183.4h0M402.2 132.7h0M405.4 153.1h0M394.5 174.1h0M382.7 154.0h0M386.8 176.7h0M404.2 138.8h0M394.1 163.2h0M407.3 141.7h0M391.0 184.4h0M408.6 133.4h0M384.6 172.0h0M403.1 141.5h0M378.9 171.6h0M394.0 152.5h0M410.0 140.4h0M398.1 149.5h0M354.7 172.3h0M410.0 170.8h0M388.3 158.6h0M404.4 143.1h0M397.8 157.5h0M405.3 139.2h0M383.5 163.8h0M394.9 160.3h0M399.3 156.7h0M401.0 173.4h0M408.7 148.7h0M402.8 151.8h0M409.2 166.6h0M406.4 131.6h0M412.5 141.2h0M406.0 169.1h0M409.2 149.2h0M393.0 171.0h0M395.6 162.1h0M409.5 157.3h0M332.8 197.3h0M382.5 158.9h0M393.8 140.9h0M377.9 185.5h0M404.9 152.4h0M371.2 169.7h0M409.4 146.2h0M399.9 161.3h0M410.1 167.2h0M412.0 144.0h0M368.2 163.3h0M356.0 182.4h0M399.7 153.6h0M405.5 133.6h0M412.0 154.7h0M403.7 166.2h0M379.0 159.3h0M412.8 151.2h0M402.0 166.4h0M382.7 141.3h0M409.2 155.1h0M371.4 186.4h0M412.7 128.6h0M326.6 203.5h0M388.0 165.9h0M385.2 155.3h0M399.6 161.0h0M403.6 162.3h0M395.5 152.1h0M395.9 178.0h0M387.9 167.0h0M396.3 175.9h0M401.1 133.7h0M413.1 151.7h0M390.0 163.5h0M411.4 173.7h0M374.3 162.7h0M399.3 164.3h0M404.0 152.4h0M402.8 134.7h0M406.9 132.4h0M400.8 179.8h0M404.8 132.1h0M411.9 137.7h0M400.2 151.4h0M406.6 150.7h0M405.8 169.5h0M409.9 176.5h0M397.3 148.7h0M397.4 141.9h0M392.2 170.1h0M396.5 158.7h0M412.4 136.0h0M404.6 136.6h0M339.9 187.3h0M386.1 157.1h0M405.4 158.4h0M406.8 147.0h0M411.6 154.8h0M412.9 185.7h0M382.9 195.0h0M407.0 146.3h0M411.3 190.6h0M381.3 160.6h0M402.4 142.4h0M404.4 144.7h0M411.8 140.4h0M411.4 151.6h0M398.3 157.5h0M412.3 125.3h0M388.8 139.6h0M405.8 162.4h0M410.4 154.1h0M413.1 178.9h0M392.8 144.1h0M411.9 236.2h0M410.6 184.5h0M388.0 143.2h0M409.8 166.2h0M373.8 142.1h0M399.3 158.0h0M404.7 163.3h0M410.2 133.3h0M410.2 142.2h0M385.6 162.1h0M397.0 160.3h0M397.4 140.2h0M397.1 158.9h0M412.0 149.5h0M407.2 137.2h0M400.9 168.6h0M412.4 147.8h0M412.2 151.5h0M403.1 178.5h0M411.8 150.5h0M409.6 139.9h0M412.8 137.3h0M386.3 146.0h0M404.6 166.6h0M380.3 171.3h0M406.7 140.4h0M394.5 176.3h0M404.7 158.8h0M407.0 152.6h0M401.7 156.1h0M406.8 138.9h0M371.8 167.2h0M390.3 199.4h0M374.7 155.5h0M412.7 170.2h0M410.3 142.6h0M400.9 150.8h0M404.7 147.1h0M407.7 153.4h0M412.9 164.9h0M412.5 152.9h0M397.2 171.6h0M401.3 169.1h0M403.3 186.3h0M408.8 153.2h0M392.4 209.1h0M398.5 178.1h0M408.8 152.3h0M390.7 173.4h0M387.8 159.7h0M386.3 169.3h0M339.7 186.5h0M403.2 132.8h0M379.4 166.9h0M403.2 149.5h0M412.7 153.7h0M406.9 155.8h0M410.2 165.4h0M408.7 153.9h0M406.1 165.9h0M391.8 198.7h0M411.8 153.8h0M373.1 161.8h0M413.5 128.7h0M396.9 143.0h0M403.7 165.8h0M397.7 188.6h0M407.1 192.9h0M373.5 187.5h0M408.1 153.6h0M399.5 168.8h0M411.9 183.5h0M412.8 134.7h0M405.5 150.0h0M410.7 177.9h0M408.9 133.8h0M353.6 164.0h0M413.0 150.3h0M350.2 193.7h0M385.4 156.1h0M391.8 157.0h0M380.8 151.7h0M405.4 184.4h0M404.3 141.2h0M410.4 125.3h0M404.3 191.3h0M410.7 146.1h0M406.7 165.4h0M410.8 144.0h0M395.2 171.9h0M357.8 189.2h0M350.1 162.0h0M408.8 149.3h0M412.9 158.8h0M413.2 174.2h0M409.5 137.4h0M408.0 162.7h0M359.2 192.2h0M409.2 167.9h0M398.5 152.4h0M408.5 143.6h0M407.7 175.8h0M395.7 174.1h0M402.7 149.9h0M395.7 184.1h0M405.7 140.7h0M413.1 155.5h0M402.3 136.1h0M370.2 160.7h0M411.8 166.0h0M406.9 122.0h0M403.8 163.0h0M404.9 160.3h0M411.3 162.1h0M412.2 178.4h0M404.2 124.4h0M366.7 174.4h0M405.4 171.0h0M371.4 176.9h0M409.8 147.4h0M404.4 139.4h0M390.6 168.0h0M392.2 158.9h0M412.7 151.7h0M405.7 149.0h0M371.2 193.5h0M381.9 153.0h0M409.7 158.7h0M384.9 147.1h0M375.8 159.0h0M407.2 160.8h0M407.4 158.1h0M405.4 160.0h0M405.8 152.4h0M408.9 147.1h0M413.3 157.7h0M410.3 149.4h0M403.2 155.6h0M405.7 159.7h0M413.6 134.5h0M404.1 138.2h0M394.0 169.6h0M406.7 131.5h0M411.9 144.0h0M403.4 135.7h0M410.8 173.2h0M399.3 143.1h0M403.6 135.9h0M390.1 141.7h0M396.7 143.1h0M413.1 173.1h0M409.2 166.8h0M412.5 140.5h0M407.2 185.1h0M412.2 158.5h0M404.4 145.7h0M388.2 158.3h0M400.3 142.7h0M411.4 141.3h0M409.3 164.7h0M412.7 164.7h0M403.6 148.5h0M399.3 148.3h0M412.2 143.8h0M398.9 155.6h0M404.6 152.6h0M400.9 178.7h0M402.9 155.8h0M405.4 141.8h0M412.0 167.8h0M397.3 152.0h0M407.3 141.7h0M399.7 120.3h0M407.1 153.9h0M406.9 156.9h0M413.1 168.4h0M411.9 175.7h0M405.9 161.0h0M390.3 151.8h0M404.9 154.3h0M411.8 145.2h0M411.9 175.2h0M402.8 187.6h0M409.0 179.9h0M401.3 130.7h0M385.6 147.9h0M396.1 180.8h0M412.2 147.1h0M404.9 169.7h0M411.4 160.4h0M404.4 163.0h0M400.1 145.7h0M395.7 145.3h0M395.3 154.7h0M405.7 148.5h0M412.6 141.5h0M405.6 156.1h0M412.5 145.8h0M412.8 140.7h0M401.8 157.2h0M412.7 159.9h0M408.1 152.8h0M403.4 160.1h0M406.7 165.6h0M403.0 142.2h0M409.7 146.5h0M385.2 167.5h0M406.5 164.3h0M392.2 184.9h0M413.5 139.0h0M401.3 146.9h0M412.2 162.1h0M412.5 148.0h0M410.4 164.1h0M386.0 142.7h0M377.0 168.8h0M403.3 147.7h0M412.2 184.7h0M411.0 143.6h0M407.3 148.1h0M409.4 155.6h0M413.2 148.4h0M413.6 158.9h0M400.1 166.8h0M391.6 145.5h0M379.4 208.3h0M407.8 139.0h0M406.3 151.2h0M412.6 135.3h0M409.3 153.2h0M352.3 180.2h0M359.0 188.4h0M406.7 177.6h0M393.2 196.3h0M402.2 150.6h0M410.3 152.3h0M408.4 140.7h0M405.3 148.5h0M380.8 152.7h0M402.4 152.9h0M388.2 166.2h0M363.4 169.3h0M412.5 134.8h0M401.4 162.4h0M407.8 165.2h0M357.2 161.0h0M400.7 164.1h0M384.6 159.7h0M334.9 202.9h0M394.0 156.4h0M385.4 138.5h0M403.4 174.8h0M399.0 179.7h0M398.8 209.9h0M410.9 140.4h0M405.9 148.6h0M412.8 153.2h0M403.0 141.5h0M407.9 166.3h0M413.0 138.1h0M343.3 175.6h0M411.5 138.2h0M403.3 162.3h0M411.2 172.1h0M382.2 181.5h0M405.8 133.2h0M402.1 156.0h0M407.8 152.7h0M380.1 164.6h0M411.0 165.1h0M387.4 155.8h0M388.3 155.6h0M403.6 147.4h0M406.6 151.6h0M413.0 188.1h0M390.0 155.0h0M411.5 171.6h0M377.7 196.3h0M378.5 134.1h0M411.7 184.6h0M412.4 152.0h0M406.9 157.1h0M405.7 166.5h0M405.3 201.4h0M400.1 185.6h0M412.7 141.3h0M386.3 200.3h0M399.8 136.7h0M382.1 154.1h0M405.5 159.0h0M409.7 174.4h0M398.2 145.4h0M365.2 221.9h0M406.3 142.5h0M376.7 172.9h0M391.2 152.0h0M409.9 162.9h0M411.6 145.8h0M396.5 153.0h0M388.2 179.4h0M412.7 152.6h0M413.1 162.7h0M359.2 170.5h0M391.6 145.3h0M387.7 164.7h0M407.6 160.3h0M404.3 162.4h0M413.1 142.1h0M410.2 161.8h0M391.4 159.8h0M370.7 191.4h0M399.9 136.4h0M411.4 154.4h0M390.4 143.6h0M410.3 141.2h0M393.7 189.9h0M413.0 152.8h0M403.8 178.1h0M396.7 169.0h0M385.5 171.8h0M406.2 175.4h0M410.8 152.8h0M402.5 170.2h0M409.3 153.7h0M409.1 171.2h0M407.5 144.1h0M413.0 143.7h0M368.4 172.6h0M398.8 167.1h0M400.2 136.5h0M401.8 171.4h0M411.3 162.3h0M403.9 144.4h0M413.2 152.3h0M394.8 157.8h0M409.9 140.8h0M364.7 199.7h0M400.6 145.1h0M405.2 170.3h0M410.2 170.6h0M406.4 159.2h0M409.2 128.4h0M411.0 143.4h0M412.6 142.0h0M399.6 172.0h0M387.6 154.6h0M412.2 144.6h0M404.1 136.3h0M409.3 148.6h0M412.2 149.6h0M406.1 182.9h0M412.8 149.0h0M413.6 133.9h0M406.5 149.9h0M407.9 149.4h0M408.8 142.8h0M413.5 135.1h0M412.0 164.0h0M410.5 151.9h0M412.5 142.7h0M402.9 151.2h0M393.0 176.4h0M329.3 231.0h0M404.6 142.9h0M408.9 125.2h0M405.7 146.9h0M396.8 172.7h0M409.7 144.2h0M385.3 184.1h0M406.9 163.6h0M401.9 145.8h0M409.9 179.9h0M408.1 163.2h0M405.9 160.2h0M411.7 149.0h0M407.9 152.1h0M406.3 149.7h0M388.7 164.9h0M413.0 161.6h0M403.5 152.4h0M391.4 170.6h0M411.7 178.5h0M396.1 133.3h0M393.5 157.0h0M406.5 141.8h0M412.2 122.4h0M407.3 156.0h0M407.0 190.3h0M408.3 132.0h0M384.2 161.8h0M410.1 159.8h0M409.3 134.4h0M366.9 176.6h0M401.6 167.3h0M412.9 180.2h0M404.8 195.7h0M406.1 152.3h0M387.1 139.6h0M397.7 141.1h0M410.5 160.8h0M384.1 171.0h0M354.4 194.4h0M407.2 148.9h0M402.3 157.0h0M404.8 178.7h0M404.0 178.1h0M409.4 195.2h0M411.2 170.7h0M404.9 166.9h0M396.3 172.9h0M406.6 157.5h0M375.2 187.8h0M401.1 144.5h0M406.3 155.8h0M410.8 187.7h0M385.7 175.9h0M413.7 148.6h0M368.2 175.9h0M413.7 198.1h0M411.2 211.8h0M396.4 205.8h0M378.7 166.4h0M400.5 171.4h0M413.2 154.3h0M403.0 155.0h0M410.7 141.2h0M359.1 167.1h0M405.1 151.9h0M404.2 142.5h0M391.1 147.0h0M413.4 187.3h0M377.9 186.4h0M384.8 174.1h0M409.2 149.1h0M341.5 211.9h0M410.3 169.4h0M406.5 149.1h0M391.8 159.4h0M405.6 160.3h0M386.4 187.8h0M412.4 165.7h0M398.0 163.4h0M410.1 146.9h0M410.2 134.0h0M412.7 139.0h0M412.8 155.8h0M412.1 156.2h0M391.8 138.2h0M412.5 153.4h0M404.5 135.5h0M405.4 203.7h0M408.7 148.4h0M407.4 173.5h0M358.3 206.8h0M408.7 197.0h0M405.6 162.4h0M385.5 159.6h0M408.3 179.4h0M396.9 132.9h0M411.2 167.9h0M389.4 165.8h0M412.3 152.2h0M411.6 159.4h0M408.5 160.3h0M401.6 148.9h0M412.9 162.0h0M412.8 148.2h0M395.8 158.0h0M402.7 167.0h0M412.1 140.3h0M386.1 173.9h0M405.9 169.8h0M405.1 144.0h0M395.5 178.0h0M407.2 161.3h0M391.6 168.9h0M403.2 157.8h0M413.5 146.6h0M346.6 204.9h0M410.4 153.6h0M404.2 145.3h0M393.4 163.4h0M410.2 154.7h0M410.6 164.6h0M330.9 198.8h0M391.6 207.2h0M407.0 143.0h0M372.6 158.6h0M388.7 164.6h0M406.6 169.1h0M358.5 161.2h0M403.5 166.3h0M404.6 159.0h0M398.5 164.9h0M398.5 161.8h0M378.6 181.3h0M413.4 201.8h0M406.1 153.0h0M398.5 162.5h0M413.0 156.9h0M403.2 155.9h0M401.5 150.3h0M403.6 155.2h0M406.6 144.8h0M401.1 147.5h0M391.6 151.1h0M396.9 141.3h0M409.0 133.8h0M412.1 143.7h0M397.0 125.8h0M413.4 152.4h0M381.8 191.0h0M404.3 155.5h0M396.7 158.8h0M411.4 144.7h0M411.0 151.4h0M399.3 134.5h0M387.3 193.1h0M398.6 161.2h0M373.6 184.1h0M410.9 150.4h0M413.5 138.9h0M397.0 153.2h0M380.1 190.3h0M397.9 175.7h0M412.1 151.0h0M413.7 172.5h0M400.1 169.4h0M411.8 151.2h0M409.9 171.2h0M403.6 182.3h0M372.5 155.2h0M385.9 166.7h0M395.6 153.3h0M383.1 183.3h0M404.5 161.5h0M412.6 151.4h0M402.9 144.1h0M406.2 165.1h0M409.1 142.2h0M408.2 186.0h0M368.7 169.6h0M359.4 169.7h0M410.7 173.5h0M382.4 172.6h0M396.6 159.5h0M336.9 190.9h0M398.6 139.4h0M409.4 148.8h0M410.9 154.4h0M380.4 172.3h0M388.0 160.4h0M388.2 152.3h0M412.0 146.2h0M396.5 168.1h0M396.2 165.0h0M409.7 164.0h0M413.5 163.0h0M377.4 178.6h0M411.1 166.1h0M413.1 161.6h0M378.2 189.2h0M412.4 148.8h0M408.0 170.9h0M412.8 137.3h0M409.3 147.1h0M403.4 146.8h0M403.2 171.5h0M385.1 165.8h0M398.7 190.0h0M412.4 158.1h0M376.5 187.5h0M379.7 174.5h0M404.9 145.0h0M409.2 148.6h0M356.3 145.1h0M413.7 151.7h0M386.7 164.1h0M383.2 169.0h0M399.6 161.6h0M412.5 154.6h0M395.5 159.3h0M389.8 166.6h0M384.1 160.4h0M405.6 194.0h0M407.1 153.1h0M409.0 147.2h0M397.5 142.2h0M402.6 159.4h0M406.6 154.9h0M411.3 141.1h0M405.9 151.1h0M413.4 140.2h0M386.5 194.7h0M407.7 133.6h0M411.4 165.3h0M363.7 169.2h0M402.0 133.2h0M408.4 142.6h0M412.4 149.1h0M371.9 176.0h0M395.7 183.4h0M382.6 175.8h0M326.6 196.0h0M408.3 156.8h0M406.1 145.5h0M411.4 149.8h0M399.4 172.4h0M389.8 161.9h0M412.3 142.1h0M406.6 187.5h0M409.7 155.2h0M332.8 215.1h0M407.2 149.8h0M412.7 136.9h0M405.5 135.2h0M409.8 144.9h0M386.0 185.7h0M391.8 183.5h0M412.8 154.8h0M391.2 146.3h0M402.7 150.7h0M376.3 152.2h0M405.8 144.6h0M410.5 136.1h0M396.4 164.7h0M393.4 144.4h0M405.0 151.5h0M407.9 149.0h0M408.9 169.3h0M395.4 183.7h0M383.9 191.1h0M391.5 154.9h0M407.3 185.8h0M407.9 166.2h0M402.4 160.9h0M366.7 198.0h0M385.1 161.0h0M409.7 170.5h0M411.9 154.2h0M413.4 131.0h0M397.6 145.0h0M394.8 146.1h0M412.8 156.7h0M391.7 143.3h0M412.5 150.9h0M361.9 178.5h0M399.4 151.0h0M393.7 151.3h0M408.6 176.4h0M412.8 142.5h0M402.9 156.6h0M400.6 155.8h0M411.9 166.9h0M411.4 135.3h0M404.6 133.2h0M388.7 151.2h0M336.2 207.0h0M401.2 152.6h0M407.0 152.1h0M413.1 133.8h0M406.3 173.7h0M413.3 158.2h0M395.4 167.8h0M413.0 153.7h0M385.7 172.9h0M402.3 139.6h0M412.9 138.8h0M412.5 149.5h0M387.8 151.9h0M411.5 134.7h0M407.2 162.4h0M391.6 173.5h0M386.7 154.8h0M396.6 195.6h0M412.1 159.6h0M378.0 158.7h0M372.3 186.4h0M409.1 138.6h0M410.2 147.8h0M410.7 170.0h0M399.7 164.6h0M407.5 145.9h0M393.7 174.8h0M408.4 143.3h0M404.0 171.9h0M404.2 159.5h0M413.2 143.4h0M405.1 159.8h0M397.2 103.0h0M401.0 172.0h0M408.3 156.4h0M411.1 132.9h0M412.6 125.7h0M401.5 156.7h0M411.2 148.2h0M394.1 161.5h0M404.5 149.9h0M382.7 180.4h0M403.5 182.9h0M400.8 151.8h0M405.6 153.1h0M412.1 171.0h0M411.6 164.6h0M413.6 137.3h0M392.7 143.7h0M410.2 163.6h0M405.3 153.2h0M402.2 184.2h0M410.1 162.0h0M380.0 181.9h0M408.7 146.8h0M408.0 166.2h0M413.3 136.2h0M399.6 135.2h0M409.5 152.3h0M406.5 151.2h0M409.6 141.4h0M402.1 141.0h0M405.4 140.8h0M413.6 162.7h0M408.2 166.7h0M409.9 159.8h0M407.0 106.8h0M413.0 169.8h0M399.9 160.4h0M401.1 166.9h0M390.8 175.8h0M406.8 175.4h0M405.3 149.0h0M392.3 149.4h0M413.6 151.7h0M409.5 158.0h0M406.7 166.5h0M404.8 150.7h0M403.4 183.0h0M389.1 169.8h0M403.0 181.4h0M403.2 142.4h0M405.1 155.3h0M413.6 166.8h0M395.5 151.3h0M408.8 163.3h0M393.0 163.5h0M378.3 185.3h0M381.9 140.4h0M412.0 163.1h0M353.4 203.3h0M395.9 160.7h0M372.5 164.4h0M383.9 147.9h0M405.8 172.9h0M391.0 158.3h0M396.0 144.8h0M403.1 179.9h0M410.2 149.7h0M375.5 176.7h0M378.6 209.7h0M407.8 149.2h0M403.6 139.1h0M411.5 174.8h0M410.2 164.9h0M409.0 160.9h0M409.7 141.0h0M405.6 159.1h0M405.6 159.4h0M381.8 134.6h0M413.0 188.8h0M393.5 171.3h0M398.9 170.9h0M395.0 164.5h0M403.7 129.0h0M404.3 157.0h0M413.1 153.9h0M401.5 154.1h0M384.0 200.3h0M403.5 116.3h0M392.9 192.9h0M372.9 176.9h0M405.2 155.4h0M376.4 203.9h0M413.4 140.1h0M409.9 170.2h0M367.6 207.0h0M386.3 182.9h0M388.8 161.6h0M395.3 174.0h0M411.7 133.7h0M395.4 169.3h0M410.6 173.9h0M403.6 143.0h0M408.4 154.4h0M388.9 117.8h0M412.3 174.7h0M408.0 173.8h0M410.6 166.5h0M411.3 153.0h0M407.8 154.8h0" stroke="#139c71" stroke-width="2.5" stroke-linecap="round" fill="none" stroke-opacity="1.0"/>
<path d="M443.0 117.2h0M454.0 103.8h0M462.4 94.8h0M455.2 148.0h0M456.0 112.5h0M464.1 105.3h0M440.0 114.9h0M440.4 145.0h0M440.4 112.4h0M444.2 97.1h0M445.7 109.7h0M441.3 108.9h0M448.2 159.4h0M444.8 145.8h0M444.7 99.2h0M442.3 153.8h0M487.3 101.7h0M494.8 151.3h0M442.9 118.5h0M449.2 163.7h0M454.4 145.9h0M443.5 145.2h0M453.1 115.3h0M439.9 118.1h0M451.3 115.2h0M465.2 103.4h0M455.8 172.1h0M450.4 142.4h0M452.2 126.2h0M441.8 145.4h0M457.4 190.1h0M446.5 145.8h0M446.1 93.8h0M443.7 146.1h0M440.0 103.3h0M460.2 108.9h0M445.6 83.4h0M450.4 94.8h0M439.5 95.2h0M447.6 109.1h0M453.6 118.5h0M477.5 194.9h0M450.8 108.9h0M467.5 122.1h0M443.1 111.8h0M450.5 118.7h0M445.3 101.5h0M464.4 83.3h0M440.4 112.4h0M444.2 109.5h0M466.5 110.9h0M466.4 114.2h0M445.7 132.7h0M449.8 173.9h0M447.0 111.3h0M461.1 148.2h0M447.9 140.0h0M449.2 139.1h0M443.0 111.6h0M444.1 107.0h0M448.4 140.6h0M440.9 111.9h0M455.5 114.2h0M439.9 176.0h0M454.0 147.3h0M475.0 127.4h0M445.0 136.5h0M441.1 101.9h0M447.6 152.3h0M452.6 141.0h0M472.3 105.5h0M456.3 141.4h0M441.0 119.4h0M445.0 161.6h0M467.2 110.1h0M444.1 142.4h0M444.3 138.7h0M450.3 113.2h0M447.3 107.0h0M444.1 139.4h0M441.5 129.1h0M460.7 137.7h0M446.1 110.9h0M440.5 161.4h0M453.0 104.3h0M451.6 147.7h0M453.1 118.1h0M448.4 84.9h0M450.4 141.3h0M454.8 106.9h0M478.5 114.7h0M471.5 146.4h0M448.6 86.2h0M444.5 94.5h0M440.5 116.6h0M450.7 107.6h0M447.1 144.3h0M451.2 107.8h0M441.5 160.5h0M443.5 105.5h0M459.6 154.7h0M448.5 144.0h0M488.0 115.3h0M440.4 144.8h0M445.4 100.4h0M493.9 113.2h0M451.8 87.5h0M455.6 110.1h0M444.6 115.9h0M444.9 103.3h0M441.8 114.0h0M499.4 105.3h0M446.4 143.2h0M440.5 106.3h0M445.6 101.1h0M456.1 95.8h0M455.3 109.9h0M446.1 113.8h0M447.8 113.6h0M440.9 102.2h0M440.0 142.0h0M454.0 94.2h0M452.8 107.4h0M448.2 106.5h0M446.5 149.1h0M455.9 153.0h0M445.7 129.5h0M441.4 105.7h0M458.5 103.3h0M468.2 136.2h0M452.5 125.9h0M449.7 129.0h0M453.5 129.3h0M442.0 94.8h0M444.0 107.9h0M447.1 158.7h0M439.6 117.4h0M473.5 112.4h0M445.0 146.2h0M480.2 97.4h0M465.9 181.5h0M458.4 94.5h0M440.7 148.7h0M454.8 138.8h0M443.8 149.7h0M471.2 153.3h0M463.2 106.6h0M442.7 111.7h0M481.9 167.2h0M449.5 140.2h0M490.8 131.6h0M454.0 99.1h0M440.2 105.6h0M445.2 147.7h0M463.8 157.5h0M494.0 121.6h0M474.2 97.4h0M456.5 136.0h0M444.5 111.0h0M507.0 108.6h0M443.3 97.2h0M440.7 168.3h0M466.3 102.5h0M456.2 112.3h0M444.8 141.8h0M448.7 115.6h0M452.0 97.5h0M440.8 118.6h0M446.4 103.3h0M440.2 142.3h0M441.2 143.2h0M446.6 141.9h0M459.4 123.6h0M460.4 115.1h0M463.7 111.2h0M455.4 130.8h0M446.7 124.1h0M457.8 125.7h0M441.6 91.8h0M479.3 140.4h0M448.6 92.2h0M445.9 101.7h0M446.0 111.8h0M442.2 139.8h0M442.8 109.0h0M470.8 96.3h0M449.5 111.4h0M460.5 117.9h0M447.1 116.0h0M473.2 132.4h0M441.5 141.4h0M447.9 120.0h0M446.0 153.1h0M445.8 109.7h0M482.5 93.7h0M440.2 160.2h0M486.2 128.5h0M450.9 114.6h0M440.2 144.9h0M469.4 115.4h0M465.2 118.6h0M444.9 148.9h0M441.2 145.5h0M474.5 142.2h0M475.6 156.3h0M439.6 146.5h0M447.7 105.0h0M449.8 155.5h0M458.3 113.5h0M441.7 142.7h0M440.5 95.8h0M442.6 143.8h0M479.5 112.5h0M453.8 107.8h0M439.6 73.8h0M470.6 98.0h0M441.0 156.3h0M477.6 111.9h0M443.1 120.2h0M460.9 108.4h0M449.6 114.1h0M446.2 160.6h0M440.5 124.8h0M443.3 97.0h0M450.2 111.1h0M439.8 114.7h0M461.2 157.6h0M440.5 102.5h0M494.9 122.6h0M445.7 115.7h0M509.4 139.7h0M462.0 105.1h0M451.2 128.4h0M451.0 141.8h0M500.4 118.4h0M455.1 142.3h0M446.6 115.9h0M441.3 147.5h0M443.9 118.1h0M444.8 139.4h0M449.8 150.1h0M450.5 104.1h0M441.3 148.7h0M450.7 109.9h0M440.2 99.2h0M455.7 111.1h0M440.2 161.9h0M451.8 161.6h0M440.5 143.2h0M443.4 143.0h0M440.2 106.4h0M447.1 102.6h0M457.4 123.9h0M449.3 95.3h0M444.7 116.8h0M442.9 151.2h0M447.9 129.0h0M458.3 144.2h0M442.6 130.9h0M439.8 107.8h0M447.6 140.3h0M465.4 97.2h0M454.7 149.8h0M456.0 148.4h0M445.6 142.2h0M444.1 102.4h0M456.5 112.1h0M442.6 97.8h0M450.5 105.4h0M443.7 118.0h0M452.4 106.0h0M454.7 126.7h0M443.3 171.1h0M450.6 84.7h0M447.7 114.7h0M450.8 137.1h0M494.4 124.5h0M444.3 108.8h0M440.6 116.6h0M440.9 110.8h0M443.9 106.6h0M454.0 117.0h0M440.1 108.0h0M444.2 81.2h0M444.5 116.5h0M441.4 133.3h0M439.9 138.9h0M485.1 144.5h0M451.5 152.1h0M463.3 107.2h0M444.4 163.2h0M454.2 144.3h0M444.9 149.9h0M449.0 165.7h0M454.8 150.9h0M441.7 105.6h0M458.4 122.1h0M450.0 98.9h0M440.9 137.1h0M461.9 118.2h0M441.2 131.8h0M459.9 114.5h0M449.2 91.5h0M478.6 105.2h0M475.6 147.3h0M444.5 157.0h0M442.8 118.4h0M456.0 112.3h0M447.1 95.7h0M456.3 136.5h0M442.4 170.3h0M459.6 168.5h0M489.0 95.4h0M444.6 101.0h0M458.3 112.5h0M469.7 155.1h0M444.1 103.7h0M460.9 96.7h0M440.1 104.5h0M443.2 122.4h0M440.9 172.6h0M464.0 91.5h0M455.4 112.1h0M444.4 125.9h0M443.9 114.6h0M445.0 107.6h0M509.2 136.1h0M459.5 103.9h0M462.3 152.8h0M447.6 108.0h0M441.3 119.6h0M449.0 155.5h0M469.8 157.0h0M463.8 156.1h0M465.0 113.2h0M453.0 105.1h0M458.4 99.1h0M453.5 113.9h0M453.5 82.6h0M442.3 107.1h0M440.1 147.6h0M491.2 101.6h0M444.5 134.3h0M460.6 105.3h0M460.0 104.0h0M445.3 111.4h0M444.1 113.7h0M457.0 111.9h0M473.3 154.4h0M450.9 96.2h0M440.7 108.7h0M462.6 142.8h0M452.5 109.1h0M445.8 96.7h0M440.0 123.8h0M449.5 103.6h0M452.0 81.5h0M446.5 95.2h0M455.3 105.8h0M466.7 117.3h0M494.1 168.9h0M475.4 140.4h0M446.0 156.2h0M456.3 113.5h0M445.2 117.0h0M445.0 150.9h0M450.4 120.2h0M447.7 86.3h0M445.8 113.5h0M455.0 148.2h0M450.7 112.6h0M445.1 140.1h0M440.5 163.6h0M457.3 106.2h0M454.6 112.0h0M467.5 115.5h0M439.6 111.7h0M452.0 102.4h0M469.3 150.8h0M463.7 114.6h0M451.4 112.1h0M441.1 112.6h0M444.9 112.2h0M519.1 113.9h0M442.0 92.4h0M447.3 156.7h0M442.2 107.1h0M450.1 123.7h0M442.4 148.3h0M453.0 119.2h0M446.6 143.8h0M447.3 111.1h0M441.8 103.1h0M441.8 149.1h0M454.1 104.5h0M450.5 124.7h0M450.2 147.6h0M448.7 98.2h0M441.4 160.9h0M461.2 159.2h0M500.4 123.3h0M447.0 129.9h0M447.4 124.1h0M439.5 163.4h0M453.8 145.1h0M457.0 150.6h0M447.5 116.4h0M446.1 141.2h0M440.1 118.1h0M457.8 113.4h0M441.3 126.5h0M491.3 115.8h0M443.7 108.2h0M442.0 134.4h0M442.1 143.2h0M450.6 146.8h0M452.0 102.6h0M440.4 122.8h0M442.7 116.8h0M442.3 163.0h0M440.3 151.3h0M446.9 139.3h0M450.4 137.7h0M455.1 157.8h0M439.5 114.8h0M449.9 172.8h0M448.9 129.4h0M442.9 113.3h0M451.9 71.4h0M447.3 141.2h0M448.9 96.7h0M441.2 142.5h0M454.7 106.9h0M489.1 111.8h0M455.6 145.1h0M496.9 143.6h0M454.8 105.4h0M441.1 97.7h0M452.5 111.8h0M459.3 136.9h0M448.3 105.6h0M445.8 107.8h0M444.9 116.3h0M451.6 142.5h0M440.2 150.9h0M447.8 100.4h0M443.0 94.8h0M440.5 108.3h0M444.6 114.2h0M442.6 140.8h0M453.9 84.1h0M439.5 104.7h0M451.8 146.0h0M439.6 109.6h0M452.2 94.7h0M447.9 100.8h0M453.1 142.1h0M449.0 101.9h0M442.4 119.5h0M442.7 114.0h0M449.6 149.2h0M463.8 80.7h0M459.9 142.3h0M453.0 115.5h0M450.0 91.7h0M451.8 141.7h0M478.7 117.3h0M461.3 151.1h0M478.5 145.3h0M441.8 115.0h0M442.7 143.6h0M455.9 103.9h0M464.8 148.9h0M459.1 154.4h0M451.3 124.9h0M444.5 113.2h0M441.0 110.0h0M493.8 124.3h0M440.3 116.8h0M444.2 151.5h0M442.6 145.1h0M465.8 133.8h0M458.6 114.5h0M443.6 145.1h0M454.9 98.7h0M461.0 100.0h0M444.5 116.9h0M487.6 125.8h0M471.5 116.4h0M458.0 152.3h0M444.0 132.5h0M451.7 144.4h0M444.3 100.2h0M440.6 152.4h0M471.6 144.4h0M442.0 115.2h0M456.4 153.8h0M451.7 156.1h0M443.1 101.8h0M440.8 148.6h0M442.0 106.6h0M499.1 108.2h0M445.0 175.1h0M462.3 103.7h0M441.6 149.2h0M450.3 100.8h0M442.1 87.8h0M440.6 160.9h0M443.8 145.0h0M450.9 113.5h0M445.7 109.8h0M450.1 106.1h0M453.9 182.8h0M458.6 100.6h0M458.1 96.2h0M450.5 124.5h0M451.3 116.3h0M453.1 110.8h0M440.2 167.4h0M446.1 115.5h0M454.2 150.8h0M457.3 84.2h0M457.1 125.1h0M480.6 101.2h0M475.2 112.1h0M440.9 164.5h0M447.2 104.2h0M447.6 102.3h0M450.7 84.5h0M442.4 106.3h0M473.3 156.4h0M457.8 135.0h0M461.2 154.3h0M465.0 106.2h0M447.5 114.2h0M441.2 171.2h0M489.5 123.8h0M443.8 140.1h0M441.2 129.4h0M486.3 110.6h0M449.6 150.6h0M455.5 116.8h0M442.6 106.1h0M442.3 115.7h0M447.2 110.0h0M473.3 94.6h0M443.2 151.6h0M461.2 95.3h0M464.3 146.1h0M458.6 92.7h0M452.1 96.5h0M451.0 139.2h0M454.4 149.8h0M443.5 127.8h0M449.6 112.0h0M471.2 116.8h0M440.8 146.1h0M443.5 103.3h0M442.2 134.2h0M462.8 108.1h0M446.5 131.2h0M443.2 104.4h0M452.0 145.9h0M472.1 118.1h0M454.0 101.1h0M463.0 147.1h0M439.6 117.3h0M497.1 134.6h0M449.4 146.9h0M453.9 157.4h0M458.1 102.7h0M442.3 151.0h0M444.7 160.9h0M440.4 111.4h0M449.8 114.3h0M441.9 111.3h0M452.6 140.8h0M439.8 150.9h0M440.2 116.0h0M449.7 127.7h0M445.4 151.4h0M475.6 95.7h0M456.7 108.6h0M460.8 114.0h0M441.5 142.0h0M449.6 79.5h0M442.0 109.7h0M472.6 88.6h0M456.3 155.6h0M445.8 149.5h0M475.0 117.3h0M510.0 154.9h0M443.9 108.7h0M475.7 113.4h0M474.7 145.4h0M444.6 143.7h0M442.5 108.3h0M444.1 110.1h0M444.5 153.6h0M464.5 168.6h0M441.9 93.8h0M448.4 122.0h0M444.3 151.4h0M440.1 96.1h0M448.4 131.2h0M487.1 94.4h0M442.1 104.2h0M445.1 159.5h0M460.6 103.3h0M457.8 149.6h0M442.5 115.1h0M464.3 120.1h0M468.0 112.4h0M442.4 114.2h0M445.5 153.9h0M440.4 114.0h0M511.6 140.3h0M439.6 151.2h0M460.7 179.1h0M459.0 129.7h0M468.3 115.0h0M478.3 116.8h0M466.5 133.0h0M450.9 111.6h0M453.6 152.0h0M449.8 116.3h0M445.2 155.7h0M461.3 140.2h0M440.7 86.2h0M442.5 109.1h0M443.3 113.9h0M449.9 109.8h0M451.4 192.3h0M449.4 149.3h0M442.4 121.9h0M442.9 107.6h0M470.6 103.0h0M443.1 98.3h0M441.4 140.5h0M440.7 118.4h0M451.9 92.4h0M443.6 134.0h0M441.6 136.7h0M448.0 94.8h0M442.8 143.0h0M442.8 142.8h0M440.3 148.2h0M458.1 106.9h0M443.3 122.0h0M467.2 94.9h0M440.4 93.1h0M458.7 174.5h0M450.0 182.3h0M499.1 149.6h0M461.3 158.5h0M446.0 105.5h0M454.5 150.5h0M450.0 113.4h0M453.8 146.7h0M440.2 116.7h0M442.3 118.3h0M450.4 99.1h0M464.4 142.8h0M443.4 93.5h0M480.4 102.9h0M446.6 109.7h0M468.4 111.5h0M491.5 105.8h0M443.9 159.7h0M443.2 155.1h0M443.8 141.7h0M455.4 110.8h0M441.3 139.6h0M442.7 113.4h0M504.1 123.5h0M439.7 155.5h0M445.8 115.6h0M472.4 111.7h0M443.7 117.5h0M481.9 165.4h0M453.6 158.2h0M472.4 107.9h0M455.7 116.7h0M447.7 157.9h0M441.4 95.6h0M443.9 102.0h0M450.0 117.5h0M457.4 132.6h0M447.3 107.4h0M441.2 112.1h0M446.2 115.2h0M474.1 140.0h0M455.4 100.3h0M512.5 110.4h0M444.8 107.2h0M482.1 129.6h0M449.2 118.6h0M456.4 105.2h0M446.5 97.9h0M445.0 107.4h0M439.7 102.4h0M439.5 99.1h0M452.2 126.4h0M481.0 153.3h0M470.9 123.2h0M442.1 104.2h0M461.6 121.3h0M447.9 118.6h0M450.9 117.2h0M445.8 114.1h0M441.0 113.4h0M478.6 113.9h0M456.3 133.1h0M442.7 101.1h0M476.8 141.0h0M454.1 162.1h0M443.9 110.9h0M447.6 111.2h0M458.1 181.1h0M443.8 106.8h0M450.8 114.0h0M455.1 99.9h0M455.9 116.3h0M446.9 139.7h0M451.4 127.8h0M447.0 162.7h0M440.0 159.2h0M443.1 102.5h0M445.8 118.0h0M446.3 113.7h0M439.5 164.0h0M453.1 138.7h0M486.4 127.5h0M441.9 95.7h0M449.0 87.6h0M448.9 112.4h0M444.1 103.0h0M450.0 147.2h0M455.5 106.1h0M440.0 103.7h0M442.2 164.5h0M498.1 126.1h0M489.8 139.3h0M444.1 137.2h0M442.7 112.7h0M445.4 139.8h0M454.9 175.6h0M486.3 107.5h0M446.8 105.6h0M444.3 116.5h0M441.4 110.4h0M440.1 121.3h0M439.5 146.3h0M440.7 141.7h0M445.6 117.1h0M445.7 109.0h0M440.8 148.4h0M446.1 126.1h0M440.6 109.1h0M442.0 101.6h0M444.1 109.7h0M457.8 109.2h0M445.2 106.8h0M478.2 163.9h0M503.8 127.9h0M446.6 104.9h0M441.3 162.4h0M443.4 112.9h0M446.9 117.1h0M440.0 102.6h0M445.5 116.7h0M519.3 118.1h0M446.3 145.1h0M441.6 118.6h0M458.1 117.4h0M490.2 156.4h0M474.1 110.7h0M439.7 100.3h0M458.7 105.9h0M446.9 172.6h0M440.7 110.4h0M454.8 115.5h0M470.0 108.4h0M446.4 115.1h0M479.8 100.3h0M445.1 125.6h0M440.9 128.3h0M445.2 102.6h0M451.5 153.9h0M443.1 118.4h0M461.6 114.5h0M458.4 142.6h0M447.3 141.1h0M446.8 159.5h0M471.5 114.0h0M459.7 114.9h0M444.1 132.5h0M448.4 116.6h0M457.6 129.7h0M444.3 108.4h0M456.3 124.0h0M449.7 139.8h0M441.9 114.3h0M487.3 113.1h0M441.9 96.6h0M456.2 116.7h0M451.3 121.5h0M452.3 142.9h0M446.1 112.7h0M443.9 148.8h0M442.9 113.5h0M443.8 115.4h0M453.0 149.0h0M439.8 117.3h0M451.0 125.7h0M468.0 109.5h0M439.8 83.0h0M491.0 97.0h0M453.2 88.8h0M446.0 117.3h0M464.0 170.4h0M442.7 109.3h0M443.4 78.5h0M467.6 113.3h0M462.0 112.3h0M441.6 140.5h0M462.0 146.5h0M445.4 109.2h0M442.7 118.1h0M451.7 135.5h0M458.4 144.7h0M442.8 114.9h0M457.2 99.8h0M443.9 97.1h0M484.3 75.5h0M462.5 102.7h0M448.7 96.0h0M493.9 129.8h0M490.1 125.4h0M440.1 133.5h0M441.3 101.2h0M455.0 96.7h0M463.1 88.0h0M468.3 123.9h0M500.2 85.7h0M479.9 125.4h0M443.9 107.7h0M443.6 111.3h0M450.7 149.0h0M447.5 99.1h0M464.4 109.7h0M451.6 105.0h0M440.3 99.9h0M449.2 145.6h0M444.8 144.9h0M444.4 141.2h0M446.9 102.8h0M444.6 100.4h0M447.9 139.1h0M439.6 149.6h0M488.3 155.0h0M443.2 110.2h0M445.1 115.6h0M449.9 113.7h0M455.2 157.2h0M449.2 145.3h0M468.0 144.0h0M441.2 114.5h0M451.5 93.2h0M441.4 168.3h0M453.1 147.3h0M447.6 97.4h0M460.3 146.6h0M442.2 111.5h0M464.7 111.5h0M440.4 107.1h0M492.4 121.5h0M451.9 115.2h0M448.9 116.1h0M454.2 102.9h0M475.3 106.8h0M485.3 142.8h0M470.0 154.7h0M445.7 138.2h0M475.1 113.8h0M448.2 110.1h0M443.9 115.2h0M440.4 157.8h0M476.0 106.7h0M443.1 117.7h0M440.8 109.9h0M457.7 108.4h0M441.4 87.0h0M450.4 141.9h0M501.8 108.6h0M443.6 100.7h0M440.6 141.8h0M508.5 119.1h0M445.4 103.6h0M458.1 79.2h0M444.1 136.2h0M487.7 118.7h0M459.1 94.3h0M447.6 158.0h0M447.6 138.7h0M440.2 131.8h0M445.1 154.9h0M447.5 121.0h0M472.0 106.4h0M465.3 114.5h0M442.5 144.0h0M450.7 93.8h0M463.4 102.5h0M446.5 93.4h0M492.2 123.2h0M462.0 113.6h0M461.0 142.7h0M440.5 126.6h0M451.3 151.0h0M441.6 108.2h0M446.8 147.9h0M476.5 158.1h0M464.4 111.1h0M443.7 168.0h0M444.6 161.1h0M443.5 142.5h0M455.0 91.4h0M448.3 121.3h0M440.7 104.0h0M461.6 111.3h0M453.9 129.7h0M459.2 104.0h0M443.5 107.3h0M461.1 114.4h0M445.3 109.8h0M441.5 149.5h0M472.4 139.9h0M453.8 114.3h0M457.8 114.4h0M449.2 118.2h0M477.0 104.0h0M454.5 118.3h0M463.5 135.4h0M446.3 106.3h0M446.7 114.0h0M465.0 91.4h0M446.3 108.9h0M455.5 115.0h0M442.8 153.6h0M448.0 113.3h0M458.9 100.7h0M446.6 128.8h0M446.2 172.6h0M455.0 112.1h0M458.0 113.8h0M447.7 148.1h0M509.3 142.2h0M451.9 125.8h0M454.3 152.7h0M456.2 111.5h0M443.9 111.8h0M441.6 143.8h0M453.8 141.4h0M468.5 140.0h0M443.3 173.7h0M441.6 144.3h0M440.9 153.8h0M450.8 110.6h0M505.5 113.2h0M446.7 114.4h0M447.8 173.0h0M443.1 169.6h0M443.9 98.0h0M452.2 104.7h0M465.0 78.4h0M471.3 142.8h0M442.9 141.4h0M439.5 136.0h0M443.1 141.3h0M468.4 160.1h0M443.1 115.8h0M440.3 138.7h0M452.2 80.7h0M451.1 142.5h0M453.8 84.9h0M440.8 158.9h0M460.1 145.9h0M440.0 131.7h0M470.1 150.1h0M445.7 111.1h0M444.6 142.1h0M440.1 104.1h0M514.3 127.2h0M441.3 140.8h0M441.5 118.9h0M451.0 151.8h0M446.6 107.1h0M440.0 110.5h0M447.1 107.2h0M439.8 149.7h0M448.4 153.9h0M453.4 88.1h0M444.2 108.9h0M442.1 161.7h0M443.4 108.1h0M501.6 153.4h0M454.0 116.2h0M442.5 96.9h0M442.6 113.6h0M507.7 133.7h0M445.8 96.7h0M458.8 113.4h0M463.8 101.5h0M441.4 116.4h0M440.4 149.2h0M440.1 125.7h0M443.3 140.7h0M450.6 147.5h0M440.9 100.6h0M493.7 158.8h0M469.7 103.9h0M450.0 153.8h0M457.9 117.2h0M444.2 175.9h0M447.6 106.8h0M465.4 115.1h0M450.2 147.0h0M445.8 144.2h0M448.2 147.3h0M453.0 113.8h0M452.5 110.3h0M464.6 123.4h0M482.0 115.8h0M453.1 115.1h0M452.5 95.6h0M442.5 161.2h0M456.6 144.3h0M440.2 97.8h0M450.8 112.8h0M439.6 83.6h0M461.4 119.0h0M506.2 78.0h0M454.8 90.5h0M456.7 111.4h0M445.8 95.9h0M443.9 133.2h0M452.8 146.5h0M439.8 115.7h0M452.6 95.8h0M442.4 110.5h0M440.9 112.2h0M463.1 110.5h0M445.7 132.7h0M451.6 100.1h0M447.6 92.0h0M447.7 161.2h0M443.5 116.6h0M439.9 149.1h0M440.3 122.7h0M442.2 111.4h0M464.2 111.1h0M450.7 117.5h0M446.0 112.9h0M444.0 122.6h0M443.2 155.1h0M444.6 118.3h0M454.7 131.5h0M444.2 90.5h0M439.9 100.4h0M440.1 115.1h0M502.3 194.2h0M458.3 114.1h0M441.9 137.7h0M443.5 82.4h0M472.3 139.4h0M485.0 131.6h0M439.9 127.1h0M449.8 98.7h0M460.5 104.1h0M509.2 115.2h0M476.5 112.6h0M439.6 139.9h0M464.4 116.4h0M441.9 156.4h0M451.9 133.7h0M448.7 91.6h0M441.5 150.4h0M451.6 143.8h0M466.8 150.7h0M447.4 117.3h0M467.9 146.6h0M439.7 114.2h0M442.6 174.5h0M495.9 143.2h0M465.1 147.1h0M444.1 165.3h0M472.9 145.5h0M439.7 147.1h0M447.7 114.1h0M451.7 144.2h0M444.1 111.0h0M470.1 98.8h0M440.5 107.1h0M442.9 115.9h0M487.1 148.0h0M457.7 140.1h0M470.8 151.8h0M447.2 97.3h0M445.1 97.5h0M468.3 103.2h0M467.8 88.8h0M443.1 119.2h0M476.4 117.5h0M442.8 135.3h0M441.7 110.1h0M460.9 153.5h0M458.0 133.7h0M455.5 145.5h0M442.2 133.7h0M440.1 117.9h0M445.9 145.8h0M442.9 139.8h0M441.7 139.0h0M447.0 107.4h0M459.7 152.1h0M451.8 140.2h0M451.7 106.8h0M464.4 133.4h0M471.5 152.7h0M440.3 159.0h0M443.9 111.3h0M446.1 115.1h0M446.9 134.8h0M466.4 149.7h0M462.5 138.8h0M451.1 164.4h0M467.0 70.0h0M452.9 109.5h0M447.2 156.2h0M439.9 149.2h0M469.8 108.2h0M442.4 102.0h0M456.0 111.2h0M447.1 158.5h0M453.1 150.2h0M472.6 142.9h0M440.3 162.2h0M447.7 118.5h0M452.8 158.3h0M448.7 144.2h0M465.2 118.2h0M441.4 109.7h0M445.4 109.1h0M487.6 132.4h0M477.4 95.4h0M441.1 109.5h0M444.6 97.0h0M446.4 142.2h0M460.5 89.9h0M451.6 113.8h0M450.3 126.2h0M450.2 97.8h0M441.2 141.4h0M451.0 96.4h0M444.5 145.8h0M441.3 148.1h0M442.3 132.2h0M457.3 93.4h0M444.0 94.0h0M444.0 98.1h0M455.1 110.4h0M440.7 167.6h0M442.8 146.0h0M463.6 116.7h0M455.6 113.5h0M443.2 156.7h0M443.0 152.1h0M442.6 99.9h0M466.9 143.4h0M445.1 139.2h0M491.0 134.6h0M453.0 112.8h0M439.6 96.0h0M443.7 96.9h0M441.6 116.1h0M457.1 100.4h0M471.7 116.2h0M447.1 112.2h0M453.1 106.2h0M459.4 114.3h0M445.9 82.4h0M449.7 137.1h0M440.5 158.5h0M445.8 104.6h0M442.6 111.7h0M448.8 130.7h0M447.1 110.6h0M487.5 129.6h0M450.1 147.9h0M441.9 110.3h0M439.7 184.4h0M441.8 117.8h0M451.3 169.7h0M467.9 103.0h0M499.2 122.4h0M462.7 94.9h0M447.5 98.6h0M465.9 141.3h0M483.1 114.7h0M442.1 129.7h0M445.5 115.6h0M441.9 133.9h0M441.2 140.3h0M460.7 138.8h0M443.4 116.3h0M457.0 104.5h0M459.3 140.7h0M446.4 165.8h0M479.6 147.8h0M456.6 98.2h0M446.3 125.2h0M448.8 140.3h0M440.3 110.1h0M457.1 124.3h0M481.3 115.6h0M503.2 84.0h0M451.6 105.8h0M443.1 82.9h0M439.7 117.7h0M439.6 142.1h0M443.6 106.5h0M439.5 135.3h0M471.3 83.0h0M445.3 139.8h0M453.0 105.6h0M439.9 151.8h0M440.4 118.3h0M442.5 136.0h0M475.5 127.2h0M465.7 104.9h0M443.7 110.5h0M463.1 139.3h0M490.8 132.9h0M440.3 104.3h0M440.1 151.4h0M483.0 147.7h0M442.4 111.8h0M498.4 133.3h0M455.6 95.0h0M440.7 152.5h0M461.8 166.6h0M440.2 151.0h0M447.3 116.8h0M439.5 143.5h0M450.3 163.1h0M440.2 94.6h0M440.5 106.5h0M444.4 117.7h0M441.5 100.8h0M441.6 176.2h0M442.6 175.4h0M445.0 161.7h0M440.1 87.6h0M454.9 149.9h0M445.6 108.8h0M444.5 163.1h0M440.0 117.3h0M439.7 115.3h0M442.0 108.6h0M449.2 113.1h0M457.4 119.3h0M443.8 115.1h0M460.4 145.5h0M452.9 111.5h0M486.7 121.9h0M451.7 137.6h0M445.0 152.7h0M443.5 96.1h0M444.5 101.1h0M470.1 168.6h0M442.6 188.3h0M477.6 144.6h0M442.8 150.2h0M441.8 115.4h0M472.5 126.8h0M442.9 130.2h0M441.3 138.8h0M440.3 142.0h0M441.5 116.5h0M450.9 103.1h0M449.1 113.0h0M454.1 109.0h0M464.3 140.7h0M439.7 148.0h0M478.2 111.9h0M443.9 148.9h0M441.3 118.0h0M442.0 152.9h0M498.2 133.0h0M486.6 92.3h0M447.8 136.3h0M442.3 115.2h0M478.5 123.1h0M467.6 100.8h0M439.7 111.8h0M445.2 118.5h0M443.5 146.1h0M453.2 108.9h0M442.1 112.5h0M441.2 150.5h0M516.9 86.2h0M449.8 171.8h0M444.4 155.5h0M448.8 118.0h0M507.0 149.3h0M445.1 105.8h0M488.4 144.1h0M443.0 142.8h0M486.3 131.7h0M441.9 109.8h0M501.7 123.4h0M450.4 157.4h0M439.6 121.6h0M441.6 110.4h0M439.6 116.5h0M441.4 158.0h0M443.0 151.7h0M461.3 119.6h0M466.6 115.3h0M475.5 147.3h0M477.3 116.7h0M448.9 106.0h0M445.1 116.9h0M468.6 99.0h0M439.8 102.4h0M449.9 140.7h0M444.0 91.7h0M439.8 123.7h0M473.1 106.7h0M451.5 75.7h0M440.8 145.9h0M442.1 130.5h0M446.2 152.5h0M441.2 102.7h0M440.5 146.0h0M480.0 98.0h0M444.0 118.5h0M450.3 108.6h0M463.6 115.8h0M451.8 105.1h0M439.6 95.6h0M440.5 144.7h0M445.4 101.1h0M441.8 147.2h0M442.5 106.1h0M446.7 124.5h0M476.6 159.0h0M448.0 140.8h0M451.7 150.3h0M443.4 159.6h0M462.4 104.9h0M449.9 114.3h0M461.6 117.2h0M451.7 115.8h0M441.4 130.8h0M449.8 95.1h0M456.8 110.3h0M448.0 113.3h0M441.0 164.3h0M442.4 103.7h0M514.9 125.9h0M463.0 155.5h0M445.4 107.6h0M445.9 131.4h0M440.8 144.0h0M448.3 140.5h0M475.6 158.6h0M449.1 146.0h0M442.8 128.6h0M452.2 141.9h0M443.6 119.2h0M489.5 125.3h0M449.1 124.4h0M489.7 147.1h0M469.9 117.7h0M499.8 107.6h0M443.1 119.4h0M453.1 102.7h0M444.4 73.7h0M444.1 118.0h0M441.4 138.9h0M443.6 140.6h0M453.1 151.8h0M443.5 117.1h0M460.0 142.2h0M442.2 144.1h0M440.0 101.9h0M444.4 139.3h0M442.2 113.0h0M461.8 112.6h0M452.4 114.7h0M447.6 99.2h0M463.6 130.3h0M496.0 126.2h0M447.6 155.6h0M440.7 96.8h0M442.4 118.6h0M455.0 109.0h0M442.9 131.1h0M443.1 141.8h0M439.8 104.0h0M466.2 118.6h0M508.8 100.0h0M449.1 107.6h0M472.1 85.2h0M474.9 117.8h0M444.4 155.2h0M445.7 120.7h0M441.9 117.3h0M483.6 116.4h0M444.8 163.7h0M450.6 138.8h0M461.2 116.0h0M459.8 140.2h0M451.3 147.1h0M453.4 119.4h0M466.4 93.9h0M453.7 104.5h0M440.0 167.3h0M451.9 107.3h0M448.3 141.9h0M441.8 94.2h0M464.3 137.6h0M452.6 94.7h0M474.5 139.3h0M440.1 118.1h0M454.9 113.2h0M466.7 105.7h0M515.7 95.8h0M460.4 103.8h0M442.2 142.3h0M465.3 147.9h0M460.3 153.7h0M511.4 135.7h0M475.5 118.2h0M445.3 144.7h0M442.0 148.5h0M474.7 143.6h0M442.8 115.7h0M444.1 112.3h0M443.8 105.0h0M446.3 91.2h0M482.9 105.9h0M441.4 98.2h0M448.6 112.5h0M445.1 85.9h0M442.1 141.0h0M451.6 144.8h0M456.6 130.3h0M491.1 120.2h0M441.2 87.4h0M458.9 122.9h0M440.3 153.4h0M454.5 97.1h0M448.0 99.9h0M440.2 107.0h0M444.8 110.8h0M493.3 160.5h0M465.5 90.2h0M468.0 95.0h0M439.8 114.7h0M443.9 114.9h0M448.9 142.8h0M493.0 119.0h0M441.1 96.2h0M447.3 165.3h0M443.9 143.7h0M444.1 99.7h0M439.5 142.9h0M448.6 143.5h0M444.1 140.7h0M439.8 117.7h0M455.1 139.9h0M464.6 138.3h0M441.6 174.8h0M447.6 87.4h0M485.1 124.9h0M443.3 139.8h0M440.0 95.1h0M447.4 92.0h0M440.4 145.5h0M439.7 123.4h0M465.2 111.5h0M448.8 161.9h0M441.0 150.9h0M455.1 111.5h0M440.4 96.9h0M453.8 145.7h0M449.1 115.0h0M443.1 95.3h0M455.3 132.8h0M455.2 94.3h0M486.5 126.3h0M463.6 150.0h0M452.3 116.9h0M445.5 93.0h0M441.1 100.2h0M439.6 179.4h0M448.1 139.9h0M439.9 146.2h0M486.7 120.2h0M460.5 98.8h0M491.2 132.9h0M450.0 97.4h0M472.5 152.1h0M441.4 147.3h0M447.7 92.6h0M450.5 92.6h0M443.1 109.4h0M447.1 101.1h0M453.4 107.4h0M453.6 101.0h0M452.1 140.9h0M479.9 109.6h0M441.3 143.6h0M454.8 95.0h0M455.4 115.8h0M452.2 118.1h0M488.4 132.6h0M441.5 116.2h0M442.5 174.2h0M443.7 143.7h0M444.3 110.3h0M461.8 105.6h0M452.8 114.7h0M449.0 155.3h0M445.3 98.1h0M512.4 140.6h0M447.8 144.0h0M444.5 108.9h0M442.7 133.7h0M441.1 82.0h0M484.7 115.8h0M444.4 189.2h0M460.2 116.1h0M451.5 90.5h0M458.5 112.9h0M455.8 113.3h0M448.0 173.8h0M447.7 107.0h0M456.7 147.6h0M517.0 109.7h0M464.4 104.3h0M444.2 122.4h0M447.2 105.6h0M445.0 117.6h0M450.8 162.2h0M447.5 140.8h0M444.4 130.5h0M493.1 91.1h0M463.4 160.7h0M442.4 118.0h0M455.4 140.0h0M448.8 144.4h0M439.6 118.3h0M471.9 108.3h0M445.5 115.8h0M446.4 115.5h0M443.3 94.9h0M447.7 175.2h0M447.0 107.3h0M444.3 150.3h0M440.3 147.4h0M442.9 124.0h0M447.6 90.6h0M441.8 142.1h0M446.6 79.0h0M456.8 112.1h0M474.6 117.3h0M447.1 156.2h0M447.6 145.0h0M446.6 115.3h0M478.4 173.2h0M453.2 97.7h0M439.7 142.8h0M450.3 116.8h0M449.5 96.5h0M515.8 100.4h0M441.7 155.7h0M441.0 140.9h0M441.1 159.6h0M443.6 90.3h0M449.7 99.4h0M445.4 107.2h0M447.5 140.9h0M442.2 148.9h0M457.4 103.4h0M465.9 124.1h0M448.4 162.0h0M458.5 113.9h0M444.5 116.4h0M440.3 147.4h0M469.1 113.5h0M439.8 101.8h0M451.4 83.1h0M450.7 106.1h0M471.7 174.7h0M442.7 107.6h0M447.0 98.1h0M457.2 163.3h0M444.4 115.1h0M448.2 113.5h0M480.0 142.0h0M448.4 112.0h0M447.2 114.6h0M459.6 115.5h0M455.3 135.5h0M449.7 149.5h0M440.5 146.9h0M458.6 142.2h0M464.1 106.4h0M463.9 105.6h0M452.5 143.8h0M442.6 155.6h0M450.3 114.7h0M475.9 105.2h0M441.4 171.5h0M439.7 140.6h0M442.5 162.8h0M502.7 85.9h0M448.1 145.1h0M485.1 95.3h0M454.1 144.2h0M442.0 124.9h0M447.4 107.2h0M444.2 146.1h0M456.0 100.6h0M469.9 104.6h0M448.4 163.1h0M458.7 140.9h0M506.4 100.0h0M441.0 81.9h0M441.7 144.4h0M442.2 129.1h0M461.9 100.5h0M441.1 141.5h0M448.1 117.9h0M440.4 95.5h0M445.3 116.7h0M450.9 102.3h0M439.6 106.2h0M450.7 148.6h0M456.6 140.7h0M445.7 103.6h0M470.3 106.4h0M448.1 142.5h0M469.0 94.6h0M439.7 159.7h0M439.9 138.9h0M455.7 115.9h0M457.2 115.2h0M451.3 112.4h0M446.0 116.2h0M442.7 106.7h0M447.0 109.2h0M453.5 165.3h0M471.5 114.4h0M441.5 117.4h0M440.4 143.4h0M444.3 145.9h0M442.3 153.4h0M461.8 146.6h0M440.7 110.3h0M441.6 108.1h0M446.6 127.4h0M456.5 116.0h0M456.5 105.7h0M441.6 105.0h0M487.9 156.0h0M440.5 91.8h0M452.3 140.5h0M440.6 182.9h0M442.6 109.6h0M465.4 102.4h0M447.3 114.4h0M456.7 147.3h0M442.9 155.4h0M446.1 141.4h0M449.2 142.3h0M480.1 106.6h0M442.6 107.0h0M445.1 113.0h0M450.1 114.7h0M454.3 108.6h0M440.7 107.9h0M480.0 115.2h0M455.6 150.2h0M457.9 88.6h0M495.6 123.8h0M448.9 133.0h0M455.9 110.2h0M468.3 96.6h0M456.0 133.1h0M450.4 122.5h0M442.5 113.2h0M444.8 149.6h0M441.4 117.7h0M443.1 124.8h0M487.8 136.2h0M441.8 139.4h0M451.0 117.1h0M450.8 118.0h0M440.1 115.4h0M440.6 165.1h0M444.2 153.3h0M448.1 94.6h0M441.9 114.7h0M454.8 119.3h0" stroke="#d95f02" stroke-width="2.5" stroke-linecap="round" fill="none" stroke-opacity="1.0"/>
<path d="M470.5 139.3h0M457.6 127.5h0M444.8 132.2h0M450.4 135.2h0M442.3 130.9h0M471.7 134.3h0M439.8 125.5h0M454.1 139.8h0M446.1 125.5h0M452.6 121.1h0M472.1 130.2h0M444.6 129.4h0M459.7 130.0h0M445.3 126.7h0M456.2 128.0h0M452.8 133.2h0M451.1 126.2h0M449.5 128.6h0M444.3 133.2h0M468.2 127.3h0M447.9 126.6h0M447.7 131.1h0M446.8 122.3h0M453.9 133.7h0M451.2 135.4h0M439.7 118.4h0M455.7 139.3h0M454.5 140.3h0M446.8 126.6h0M446.1 130.3h0M439.8 129.1h0M459.9 137.1h0M448.6 135.6h0M463.9 136.5h0M450.0 132.0h0M446.1 132.4h0M448.1 125.1h0M446.8 129.3h0M455.8 125.0h0M440.9 129.1h0M452.6 138.0h0M443.8 126.9h0M446.4 138.4h0M445.2 125.8h0M445.6 124.1h0M444.6 132.9h0M451.3 121.7h0M442.8 125.3h0M440.3 129.2h0M445.9 128.5h0M457.6 130.0h0M488.2 122.4h0M441.6 128.6h0M508.0 122.9h0M440.4 124.1h0M498.8 131.7h0M494.2 126.8h0M455.5 129.1h0M446.5 119.9h0M439.7 131.2h0M439.6 129.4h0M467.7 128.7h0M454.4 135.8h0M465.3 130.9h0M439.6 128.1h0M456.0 137.9h0M443.8 124.0h0M445.1 134.2h0M442.5 120.1h0M441.9 124.7h0M439.5 128.7h0M454.4 127.6h0M448.3 137.0h0M458.9 137.3h0M444.5 121.6h0M455.3 126.5h0M449.9 131.3h0M440.3 130.3h0M458.2 122.5h0M473.9 124.6h0M451.0 131.0h0M448.7 132.9h0M441.6 125.5h0M442.0 128.6h0M443.9 127.3h0M440.1 129.0h0M439.5 130.3h0M444.7 120.2h0M444.5 124.9h0M462.8 131.0h0M443.4 124.8h0M453.1 126.1h0M443.6 138.3h0M460.9 129.8h0M439.8 126.6h0M450.1 124.5h0M467.1 129.3h0M457.2 125.3h0M440.0 135.1h0M466.9 123.2h0M440.4 120.1h0M445.7 131.8h0M445.9 129.1h0M453.6 117.1h0M447.6 131.4h0M446.3 130.4h0M449.3 123.3h0M449.1 139.2h0M441.7 140.8h0M442.1 135.2h0M440.2 137.2h0M446.1 131.9h0M473.7 126.9h0M455.9 137.1h0M459.5 133.3h0M443.2 129.9h0M441.5 121.6h0M506.3 132.0h0M446.0 122.6h0M454.1 131.3h0M445.5 127.0h0M462.4 124.9h0M450.3 134.2h0M473.8 126.4h0M449.4 124.7h0M440.0 120.6h0M446.2 127.8h0M454.7 122.0h0M440.5 123.8h0M471.7 130.3h0M445.9 125.0h0M502.4 128.9h0M454.0 120.8h0M449.0 135.0h0M440.9 122.2h0M451.3 129.9h0M445.7 125.4h0M440.4 125.8h0M446.9 137.3h0M439.5 132.7h0M456.1 131.8h0M439.7 120.3h0M443.8 132.5h0M441.5 125.2h0M446.2 122.3h0M440.0 126.2h0M452.2 136.8h0M483.7 133.6h0M439.8 127.6h0M466.0 129.1h0M442.3 132.5h0M460.7 126.0h0M461.4 128.8h0M458.0 126.8h0M468.1 121.3h0M457.6 131.3h0M449.7 127.8h0M506.9 136.0h0M452.7 131.0h0M442.2 127.0h0M447.2 128.5h0M455.4 126.4h0M440.0 132.0h0M456.3 130.8h0M480.4 129.3h0M448.0 128.4h0M448.5 130.3h0M463.2 123.2h0M443.0 128.9h0M445.3 132.3h0M450.4 119.3h0M446.0 135.9h0M445.2 124.0h0M445.8 126.4h0M443.0 129.1h0M467.5 130.7h0M441.3 132.1h0M445.9 135.6h0M443.5 124.6h0M444.0 119.6h0M450.2 135.3h0M444.5 133.2h0M444.0 129.3h0M443.0 128.4h0M465.5 124.6h0M463.5 132.1h0M477.3 137.4h0M439.5 128.5h0M458.4 131.4h0M451.4 128.9h0M460.4 134.5h0M458.8 128.6h0M440.8 122.8h0M446.2 128.8h0M459.6 123.8h0M454.5 135.6h0M447.2 123.8h0M472.7 131.5h0M473.4 127.7h0M464.9 136.5h0M442.9 124.6h0M447.7 130.1h0M442.1 124.6h0M445.9 127.7h0M454.9 133.7h0M444.6 123.3h0M471.7 122.4h0M461.3 128.1h0M452.6 130.6h0M457.7 125.7h0M440.0 127.3h0M441.2 132.8h0M449.4 135.0h0M488.0 124.9h0M442.6 132.5h0M477.7 133.3h0M462.8 128.2h0M452.3 128.6h0M461.0 133.5h0M444.0 132.0h0M445.6 128.6h0M444.6 132.2h0M449.0 135.4h0M451.5 125.3h0M441.9 130.2h0M455.5 126.3h0M441.9 126.2h0M444.0 133.7h0M450.5 123.6h0M476.8 129.4h0M473.6 128.1h0M443.4 137.3h0M461.9 130.3h0M455.7 126.3h0M439.9 131.3h0M477.3 123.5h0M441.0 133.5h0M440.0 133.0h0M466.9 134.6h0M442.5 134.9h0M482.4 134.5h0M463.3 120.8h0M442.1 126.5h0M443.6 131.1h0M467.7 121.9h0M455.3 131.8h0M449.7 132.6h0M457.1 133.0h0M455.0 124.1h0M453.1 126.5h0M450.2 130.4h0M441.4 130.3h0M463.2 131.4h0M460.2 126.5h0M446.3 125.6h0M446.8 125.5h0M444.0 125.6h0M488.7 126.6h0M455.5 132.0h0M440.7 134.1h0M457.0 133.2h0M465.8 132.3h0M439.7 118.7h0M461.1 127.0h0M444.6 123.6h0M440.6 131.4h0M454.0 124.3h0M439.5 128.5h0M472.8 123.3h0M449.5 135.9h0M444.1 121.4h0M440.4 126.9h0M443.8 132.4h0M484.5 126.7h0M439.5 133.4h0M439.7 124.5h0M445.7 123.4h0M439.7 130.9h0M451.8 128.2h0M468.6 129.3h0M454.0 123.0h0M470.1 132.3h0M445.7 131.1h0M443.2 130.2h0M451.5 122.9h0M457.8 122.1h0M446.6 121.7h0M451.3 136.0h0M441.8 118.3h0M448.2 128.0h0M441.8 128.5h0M447.2 128.3h0M456.8 117.0h0M439.8 122.7h0M449.3 122.8h0M452.2 132.2h0M441.2 117.3h0M473.1 133.6h0M476.0 125.2h0M448.4 120.9h0M460.3 124.9h0M452.2 126.6h0M444.0 124.8h0M451.1 133.3h0M439.5 124.8h0M440.1 128.4h0M459.6 123.5h0M441.2 129.5h0M443.2 123.7h0M464.6 133.5h0M444.6 123.6h0M444.1 122.6h0M441.1 133.8h0M448.1 132.4h0M451.6 134.9h0M460.4 129.5h0M482.9 138.8h0M471.7 129.5h0M461.1 132.3h0M454.0 127.2h0M460.7 129.2h0M443.2 118.0h0M458.1 125.5h0M463.5 127.4h0M466.3 126.2h0M449.6 123.6h0M463.6 127.0h0M439.9 131.2h0M442.7 123.3h0M442.6 125.1h0M449.7 139.2h0M450.5 132.4h0M448.3 127.1h0M441.1 120.9h0M450.3 123.2h0M446.4 127.7h0M463.4 127.2h0M458.2 124.8h0M443.2 128.7h0M449.9 123.5h0M446.9 133.2h0M458.9 125.3h0M453.6 133.8h0M481.5 131.3h0M448.2 128.5h0M442.9 122.7h0M467.5 140.6h0M455.3 123.1h0M459.5 133.1h0M446.2 128.4h0M446.0 119.9h0M444.2 131.7h0M446.1 140.5h0M465.6 120.6h0M462.8 129.3h0M465.3 129.6h0M479.4 125.6h0M443.4 133.9h0M445.9 133.7h0M443.6 135.9h0M459.9 128.8h0M448.5 132.4h0M448.6 129.3h0M449.8 126.3h0M442.7 132.7h0M441.3 130.9h0M449.4 127.3h0M480.8 137.2h0M452.3 120.5h0M458.6 119.8h0M444.0 129.1h0M442.6 125.1h0M453.5 125.7h0M443.7 135.9h0M453.5 131.8h0M457.6 128.0h0M454.4 131.4h0M444.6 120.8h0M450.5 127.1h0M475.5 127.3h0M458.1 135.3h0M449.9 135.7h0M449.5 131.7h0M449.8 122.5h0M441.9 135.4h0M458.2 129.9h0M475.1 126.7h0M456.3 132.2h0M448.4 133.0h0M506.7 131.3h0M465.4 134.6h0M449.2 136.7h0M442.2 123.4h0M483.6 136.6h0M460.4 124.3h0M459.1 139.3h0M481.9 130.6h0M458.1 135.5h0M454.9 134.1h0M446.0 126.1h0M457.7 132.5h0M444.4 128.6h0M441.7 136.9h0M466.5 123.0h0M453.7 125.8h0M468.8 131.5h0M470.2 129.5h0M511.6 128.1h0M444.2 128.9h0M455.5 129.1h0M445.2 128.5h0M480.6 127.6h0M446.2 121.5h0M455.2 131.0h0M462.6 140.4h0M450.3 126.2h0M480.1 120.1h0M442.2 127.9h0M445.4 126.4h0M461.6 136.6h0M455.3 126.6h0M459.4 127.0h0M448.3 133.3h0M440.3 126.4h0M444.4 128.4h0M451.1 133.5h0M441.2 129.6h0M442.5 117.6h0M442.9 128.6h0M450.0 130.4h0M443.1 122.1h0M450.5 127.3h0M446.4 125.4h0M465.0 125.6h0M467.2 129.5h0M443.5 125.0h0M440.4 133.1h0M455.8 126.3h0M443.8 131.7h0M454.1 119.2h0M457.8 123.2h0M457.9 120.7h0M493.7 125.0h0M450.5 122.3h0M439.5 131.7h0M489.2 137.4h0M439.9 120.7h0M450.0 127.4h0M450.8 128.0h0M453.9 128.0h0M442.6 127.3h0M440.4 131.0h0M456.3 124.3h0M451.9 127.7h0M487.4 133.3h0M441.4 125.9h0M441.2 126.5h0M445.3 136.2h0M456.2 126.7h0M481.3 130.1h0M458.8 125.2h0M445.2 133.5h0M485.4 133.7h0M451.5 127.6h0M459.7 139.5h0M478.6 125.8h0M440.3 123.6h0M451.0 131.4h0M450.3 122.7h0M451.5 122.4h0M442.1 137.1h0M448.5 133.0h0M448.4 128.8h0M491.6 127.5h0M440.1 135.0h0M441.6 133.3h0M463.7 129.3h0M452.8 125.9h0M445.9 128.0h0M440.2 123.1h0M474.8 125.0h0M444.0 126.1h0M473.3 129.8h0M447.2 134.4h0M458.8 118.2h0M462.8 133.6h0M453.3 131.3h0M446.8 127.0h0M468.6 133.4h0M477.5 126.6h0M446.8 131.6h0M472.2 128.2h0M453.1 119.3h0M446.6 128.1h0M461.6 128.2h0M457.7 122.8h0M442.4 126.4h0M488.5 125.3h0M452.2 135.2h0M445.6 132.0h0M448.3 123.3h0M473.2 130.6h0M445.5 130.4h0M443.7 118.8h0M443.2 130.2h0M443.5 122.7h0M444.7 127.3h0M462.8 128.6h0M492.9 127.0h0M460.5 129.5h0M495.6 134.0h0M469.7 123.6h0M442.7 128.8h0M476.8 121.2h0M443.4 127.3h0M442.4 130.4h0M441.0 140.1h0M478.8 129.3h0M449.7 124.7h0M441.9 130.1h0M440.9 127.8h0M449.0 138.7h0M455.5 126.1h0M449.1 129.7h0M442.1 135.6h0M444.1 121.6h0M445.3 126.0h0M449.9 128.7h0M446.1 129.6h0M443.5 130.5h0M449.3 129.7h0M450.7 126.1h0M440.4 129.6h0M472.4 126.9h0M459.9 121.1h0M443.0 127.1h0M442.8 125.3h0M448.9 123.1h0M443.6 128.7h0M450.2 125.9h0M448.6 127.1h0M442.5 131.1h0M457.9 131.7h0M455.7 129.3h0M475.7 124.9h0M503.6 130.7h0M467.3 132.5h0M439.6 138.6h0M442.0 128.8h0M441.7 119.4h0M453.7 127.5h0M440.9 133.3h0M441.5 124.9h0M446.4 126.2h0M454.6 127.8h0M459.6 135.3h0M445.6 129.3h0M444.7 122.6h0M440.9 128.9h0M441.5 119.9h0M453.7 126.6h0M447.6 129.8h0M444.2 128.2h0M441.4 121.3h0M443.0 136.9h0M477.2 131.8h0M452.7 134.5h0M457.6 127.7h0M470.6 125.3h0M443.0 128.1h0M473.1 132.8h0M443.3 126.8h0M450.1 137.4h0M480.2 123.5h0M446.0 131.2h0M459.0 120.6h0M443.6 131.4h0M476.5 120.7h0M440.9 122.7h0M443.9 126.9h0M455.5 139.9h0M439.6 129.5h0M442.9 125.5h0M455.6 132.5h0M464.7 123.0h0M447.4 132.5h0M451.6 131.5h0M459.5 128.7h0M441.0 132.5h0M447.6 129.7h0M447.4 123.4h0M442.2 134.5h0M441.7 129.3h0M470.3 126.8h0M441.0 129.1h0M443.8 126.1h0M440.6 134.4h0M449.2 121.8h0M459.5 124.8h0M443.9 121.1h0M446.7 123.0h0M444.4 122.9h0M442.2 130.2h0M449.5 125.4h0M443.7 132.6h0M473.1 126.0h0M448.5 133.7h0M465.9 123.2h0M439.7 122.5h0M446.6 132.5h0M450.8 130.4h0M450.1 131.2h0M460.8 137.3h0M455.5 129.2h0M480.9 137.1h0M455.0 133.9h0M467.9 133.8h0M450.2 127.5h0M443.7 124.8h0M456.0 125.7h0M443.3 132.1h0M468.0 125.3h0M440.0 120.9h0M446.2 135.9h0M446.8 119.2h0M463.1 124.8h0M445.9 129.3h0M449.6 128.9h0M468.5 131.5h0M440.9 127.4h0M447.1 137.6h0M446.1 128.5h0M474.7 129.6h0M441.0 136.1h0M451.1 128.6h0M440.2 129.9h0M446.1 120.1h0M469.6 129.3h0M454.8 123.8h0M447.9 130.1h0M462.2 131.6h0M455.0 125.2h0M444.9 132.7h0M467.2 128.7h0M450.1 128.1h0M469.7 130.9h0M443.2 128.3h0M451.3 117.6h0M482.4 132.3h0M487.2 121.5h0M440.9 134.0h0M446.7 136.0h0M453.2 133.0h0M469.1 126.6h0M487.6 124.7h0M455.5 131.0h0M439.7 126.8h0M459.9 135.2h0M449.1 124.2h0M448.0 126.6h0M459.8 129.7h0M445.5 129.4h0M456.5 122.2h0M455.2 128.5h0M454.2 131.5h0M442.4 123.4h0M479.9 135.0h0M444.9 133.5h0M446.0 124.3h0M446.9 132.6h0M465.0 136.1h0M470.1 136.2h0M456.7 128.7h0M455.3 129.5h0M450.2 134.0h0M452.3 127.4h0M467.7 135.6h0M442.9 138.4h0M469.2 128.6h0M464.5 140.0h0M441.4 131.0h0M468.9 126.1h0M448.9 136.7h0M445.1 140.1h0M448.1 127.4h0M448.5 126.4h0M467.7 119.0h0M441.8 130.5h0M466.2 129.6h0M444.9 134.5h0M446.5 124.0h0M448.2 122.3h0M452.6 130.7h0M453.8 127.4h0M476.2 122.1h0M442.3 128.7h0M451.9 120.7h0M439.9 122.0h0M442.3 129.4h0M440.2 131.3h0M443.2 132.0h0M442.2 133.9h0M441.7 119.4h0M508.9 130.6h0M453.1 132.6h0M443.2 134.8h0M451.0 131.9h0M443.9 125.1h0M441.0 126.9h0M452.5 127.5h0M470.3 126.0h0M458.0 125.3h0M441.2 122.3h0M462.6 126.4h0M473.2 116.5h0M478.7 132.3h0M445.2 122.9h0M440.1 132.7h0M465.8 131.3h0M444.2 119.9h0M441.7 123.9h0M445.5 132.1h0M447.7 126.1h0M444.7 137.4h0M448.2 132.5h0M458.7 132.6h0M455.1 137.1h0M460.6 125.9h0M476.4 135.4h0M468.9 129.5h0M446.3 121.9h0M472.6 125.8h0M457.0 132.5h0M467.1 131.0h0M455.8 126.8h0M451.0 135.6h0M445.8 126.2h0M457.6 126.3h0M451.8 121.7h0M447.1 128.1h0M448.6 128.1h0M453.6 137.5h0M439.9 127.4h0M446.3 128.1h0M443.7 129.4h0M454.4 131.1h0M464.5 132.1h0M451.3 128.2h0M451.9 135.8h0M449.8 125.3h0M452.3 130.2h0M457.8 126.3h0M442.9 130.1h0M444.4 129.0h0M441.5 134.9h0M442.2 118.6h0M440.9 123.4h0M441.4 127.8h0M512.3 133.9h0M448.6 118.9h0M473.6 126.2h0M463.7 129.7h0M460.1 132.1h0M446.4 129.2h0M458.8 122.1h0M443.8 133.0h0M447.6 129.3h0M457.6 129.0h0M440.8 125.8h0M466.7 123.1h0M456.9 128.3h0M442.1 126.8h0M467.8 126.9h0M482.9 132.4h0M441.8 129.0h0M442.1 134.8h0M468.1 127.7h0M439.6 128.7h0M440.5 127.9h0M447.3 132.0h0M396.7 131.2h0M408.9 124.9h0M412.8 134.1h0M392.3 126.4h0M413.3 131.5h0M402.2 129.7h0M412.3 125.5h0M397.2 132.6h0M382.0 125.5h0M402.2 130.0h0M408.6 125.9h0M410.0 126.0h0M412.5 125.4h0M409.8 129.6h0M411.9 127.5h0M401.1 130.4h0M385.2 128.1h0M412.4 129.6h0M413.4 126.1h0M413.3 125.6h0M409.5 131.6h0M402.4 128.6h0M406.3 129.0h0M412.2 132.8h0M390.7 131.7h0M411.8 127.0h0M407.9 132.6h0M381.2 122.0h0M401.0 133.6h0M410.6 129.0h0M411.9 123.5h0M400.7 127.1h0M398.2 125.8h0M391.1 134.5h0M407.9 129.8h0M413.4 132.9h0M406.4 130.7h0M412.1 128.0h0M397.7 131.3h0M404.4 125.8h0M403.5 131.7h0M409.4 128.3h0M409.3 130.1h0M407.5 131.6h0M412.8 132.2h0M402.6 130.4h0M404.1 124.5h0M412.3 132.4h0M412.1 127.4h0M412.9 126.7h0M413.2 131.1h0M413.1 129.9h0M407.2 127.5h0M402.6 128.9h0M409.7 127.5h0M406.1 129.1h0M411.2 128.1h0M400.1 132.9h0M400.3 130.1h0M413.2 129.8h0M396.1 133.2h0M407.8 127.7h0M401.0 128.0h0M396.6 132.1h0M413.4 129.1h0M401.8 127.6h0M407.6 130.3h0M401.1 127.3h0M411.5 132.2h0M411.6 126.3h0M413.5 124.6h0M399.9 131.1h0M408.1 126.9h0M394.7 134.3h0M400.7 128.9h0M408.6 132.1h0M411.6 126.3h0M398.7 123.6h0M402.6 129.8h0M413.7 130.8h0M407.2 127.0h0M413.0 126.9h0M409.6 127.1h0M390.7 131.5h0M398.8 127.2h0M394.2 128.3h0M396.7 133.2h0M402.1 130.5h0M388.5 126.1h0M397.7 130.5h0M400.8 134.0h0M407.1 127.1h0M405.4 126.4h0M404.9 130.4h0M393.0 129.4h0M411.5 128.1h0M410.0 131.9h0M401.7 124.9h0M410.3 126.7h0M400.6 128.7h0M411.5 130.2h0M409.0 122.1h0M410.1 134.2h0M413.3 129.3h0M410.5 131.1h0M408.1 131.7h0M397.2 129.6h0M396.8 129.8h0M411.6 124.7h0M413.5 124.0h0M411.8 125.2h0M410.5 127.1h0M410.7 130.2h0M413.5 130.4h0M412.2 124.1h0M411.0 127.1h0M393.5 130.4h0M386.6 133.2h0M413.4 128.5h0M407.4 125.9h0M412.5 125.0h0M411.6 129.2h0M411.1 128.8h0M410.0 129.5h0M404.5 133.7h0M387.6 130.5h0M411.1 129.4h0M411.8 128.1h0M412.8 127.4h0M401.8 129.3h0M404.9 127.5h0M412.0 128.5h0M402.6 129.1h0M411.3 123.5h0M395.8 130.8h0M407.4 125.4h0M401.0 129.3h0M396.2 128.4h0M406.6 128.0h0M403.9 126.3h0M413.0 133.5h0M404.9 134.8h0M403.1 125.1h0M413.4 126.5h0M407.3 125.2h0M413.2 124.9h0M410.4 134.6h0M410.4 125.3h0M399.4 128.4h0M412.7 127.4h0M413.2 130.4h0M404.6 131.8h0M405.4 127.5h0M386.8 132.1h0M405.2 129.5h0M388.7 128.9h0M387.2 124.1h0M410.7 125.5h0M403.2 127.9h0M399.8 128.0h0M409.8 134.4h0M407.4 126.4h0M404.3 127.6h0M404.4 127.1h0M392.1 129.3h0M410.9 129.3h0M408.2 126.7h0M400.6 129.5h0M405.4 131.0h0M404.8 128.5h0M412.1 130.7h0M402.5 133.3h0M406.4 134.1h0M401.2 124.8h0M403.2 128.6h0M398.5 128.9h0M390.4 129.6h0M391.3 129.9h0M412.8 131.4h0M412.9 129.7h0M409.4 130.9h0M410.7 126.6h0M407.1 134.0h0M393.9 131.1h0M408.3 130.8h0M403.7 123.7h0M413.5 127.2h0M408.4 127.9h0M408.1 125.0h0M405.6 130.7h0M411.7 131.7h0M413.5 126.6h0M409.6 129.6h0M404.7 125.9h0M396.2 122.1h0M411.9 127.9h0M400.1 125.7h0M407.9 129.0h0M409.0 129.3h0M396.5 127.9h0M400.4 123.9h0M406.9 127.9h0M409.1 124.4h0M402.2 129.1h0M410.8 130.5h0M406.6 130.2h0M406.6 129.4h0M405.3 130.8h0M395.1 129.3h0M408.0 125.3h0M391.8 130.7h0M402.4 124.0h0M399.5 125.6h0M413.2 125.1h0M411.1 126.3h0M412.8 123.5h0M407.3 128.0h0M398.3 130.2h0M412.4 133.5h0M412.4 125.8h0M410.9 125.6h0M400.5 127.2h0M411.4 128.7h0M409.1 126.7h0M405.9 127.4h0M413.4 131.4h0M411.8 124.5h0M405.0 128.7h0M409.9 129.1h0M393.5 127.4h0M390.6 123.4h0M413.6 130.1h0M410.2 129.0h0M411.6 129.8h0M398.3 131.3h0M409.6 133.9h0M406.3 126.5h0M412.5 130.4h0M406.1 127.3h0M401.4 123.6h0M391.3 128.0h0M400.7 128.4h0M411.4 130.6h0M406.3 128.2h0M412.6 132.1h0M393.0 131.1h0M412.1 128.5h0M409.7 129.8h0M410.1 129.3h0M403.7 130.8h0M410.2 131.3h0M408.8 126.9h0M408.7 126.0h0M406.6 125.5h0M413.6 126.3h0M413.5 128.9h0M409.9 125.9h0M387.7 133.2h0M410.1 134.1h0M411.8 128.3h0M411.6 130.4h0M412.5 130.5h0M413.3 125.8h0M401.2 128.2h0M400.0 129.9h0M410.4 130.7h0M407.5 130.7h0M402.8 128.7h0M394.9 125.1h0M412.1 134.3h0M406.2 126.7h0M410.8 128.7h0M400.6 128.7h0M401.2 126.5h0M409.9 131.8h0M393.2 129.3h0M397.7 128.9h0M411.7 126.8h0M404.8 128.5h0M404.0 128.7h0M412.4 133.6h0M407.8 129.5h0M391.3 129.1h0M412.3 127.4h0M405.0 133.9h0M407.7 127.4h0M408.3 125.8h0M411.4 126.9h0M392.8 127.7h0M404.6 127.9h0M410.7 129.5h0M407.1 133.4h0M407.5 130.3h0M411.0 128.3h0M411.6 130.6h0M410.2 126.8h0M402.0 126.8h0M396.0 133.3h0M411.2 127.0h0M407.8 123.5h0M412.9 131.1h0M406.9 127.1h0M397.8 125.9h0M404.5 132.2h0M409.7 127.7h0M408.4 126.0h0M399.3 130.3h0M405.8 127.2h0M408.1 127.7h0M397.3 126.0h0M413.0 131.1h0M412.3 126.9h0M411.0 123.0h0M409.9 133.2h0M406.2 126.7h0M408.5 123.1h0M395.6 126.8h0M410.1 126.5h0M404.5 126.7h0M407.9 130.8h0M403.0 133.0h0M413.6 131.3h0M413.6 128.7h0M407.7 127.4h0M412.0 130.3h0M408.1 125.7h0M407.9 125.3h0M410.2 130.0h0M402.2 129.2h0M412.0 129.0h0M410.4 128.2h0M394.9 122.3h0M407.5 130.3h0M405.7 126.1h0M395.2 126.9h0M403.6 126.1h0M411.8 125.6h0M390.1 128.2h0M400.5 125.5h0M409.0 134.4h0" stroke="#999999" stroke-width="2.5" stroke-linecap="round" fill="none" stroke-opacity="1.0"/>
<line x1="311.6" x2="541.6" y1="129.77" y2="129.77" stroke="#999999" stroke-width="1.1" stroke-dasharray="2.9 1.9"/>
<rect x="316.6" y="23.5" width="139.6" height="42.6" rx="2" fill="#ffffff" fill-opacity="0.94" stroke="#d8d8d8" stroke-width="0.9"/>
<circle cx="329.6" cy="31.60" r="3.2" fill="#1b9e77"/>
<text x="340.10" y="34.20" font-size="9.4" text-anchor="start" font-weight="normal" fill="#262626">Cancer transcripts</text>
<circle cx="329.6" cy="44.90" r="3.2" fill="#d95f02"/>
<text x="340.10" y="47.50" font-size="9.4" text-anchor="start" font-weight="normal" fill="#262626">Normal transcripts</text>
<circle cx="329.6" cy="58.20" r="3.2" fill="#999999"/>
<text x="340.10" y="60.80" font-size="9.4" text-anchor="start" font-weight="normal" fill="#262626">Not differentially expressed</text>
<text x="336.65" y="253.90" font-size="9.4" text-anchor="middle" font-weight="normal" fill="#262626">−0.7</text>
<text x="362.35" y="253.90" font-size="9.4" text-anchor="middle" font-weight="normal" fill="#262626">−0.5</text>
<text x="388.05" y="253.90" font-size="9.4" text-anchor="middle" font-weight="normal" fill="#262626">−0.3</text>
<text x="413.75" y="253.90" font-size="9.4" text-anchor="middle" font-weight="normal" fill="#262626">−0.1</text>
<text x="439.45" y="253.90" font-size="9.4" text-anchor="middle" font-weight="normal" fill="#262626">0.1</text>
<text x="465.15" y="253.90" font-size="9.4" text-anchor="middle" font-weight="normal" fill="#262626">0.3</text>
<text x="490.85" y="253.90" font-size="9.4" text-anchor="middle" font-weight="normal" fill="#262626">0.5</text>
<text x="516.55" y="253.90" font-size="9.4" text-anchor="middle" font-weight="normal" fill="#262626">0.7</text>
<text x="305.40" y="33.43" font-size="9.4" text-anchor="end" font-weight="normal" fill="#262626">9</text>
<text x="305.40" y="55.56" font-size="9.4" text-anchor="end" font-weight="normal" fill="#262626">7</text>
<text x="305.40" y="77.69" font-size="9.4" text-anchor="end" font-weight="normal" fill="#262626">5</text>
<text x="305.40" y="99.82" font-size="9.4" text-anchor="end" font-weight="normal" fill="#262626">3</text>
<text x="305.40" y="121.95" font-size="9.4" text-anchor="end" font-weight="normal" fill="#262626">1</text>
<text x="305.40" y="144.09" font-size="9.4" text-anchor="end" font-weight="normal" fill="#262626">−1</text>
<text x="305.40" y="166.22" font-size="9.4" text-anchor="end" font-weight="normal" fill="#262626">−3</text>
<text x="305.40" y="188.35" font-size="9.4" text-anchor="end" font-weight="normal" fill="#262626">−5</text>
<text x="305.40" y="210.48" font-size="9.4" text-anchor="end" font-weight="normal" fill="#262626">−7</text>
<text x="305.40" y="232.61" font-size="9.4" text-anchor="end" font-weight="normal" fill="#262626">−9</text>
<text x="426.60" y="266.80" font-size="9.4" text-anchor="middle" font-weight="normal" fill="#262626">Mean change in transcript usage</text>
<text transform="translate(291.4,129.6) rotate(-90)" font-size="9.45" text-anchor="middle" fill="#262626"><tspan font-style="italic" font-size="10.1">log</tspan><tspan font-size="7.1" dy="2.3" dx="0.3">2</tspan><tspan dy="-2.3" dx="0.4">fold change in transcript expression</tspan></text>
<text x="280.00" y="16.90" font-size="14.4" text-anchor="start" font-weight="bold" fill="#111">B</text>
<line x1="76.50" x2="76.50" y1="292.6" y2="514.2" stroke="#dadada" stroke-width="1"/>
<line x1="114.75" x2="114.75" y1="292.6" y2="514.2" stroke="#dadada" stroke-width="1"/>
<line x1="153.00" x2="153.00" y1="292.6" y2="514.2" stroke="#dadada" stroke-width="1"/>
<line x1="191.25" x2="191.25" y1="292.6" y2="514.2" stroke="#dadada" stroke-width="1"/>
<line x1="229.50" x2="229.50" y1="292.6" y2="514.2" stroke="#dadada" stroke-width="1"/>
<line x1="37.5" x2="267.8" y1="328.80" y2="328.80" stroke="#dadada" stroke-width="1"/>
<line x1="37.5" x2="267.8" y1="365.70" y2="365.70" stroke="#dadada" stroke-width="1"/>
<line x1="37.5" x2="267.8" y1="402.60" y2="402.60" stroke="#dadada" stroke-width="1"/>
<line x1="37.5" x2="267.8" y1="439.50" y2="439.50" stroke="#dadada" stroke-width="1"/>
<line x1="37.5" x2="267.8" y1="476.40" y2="476.40" stroke="#dadada" stroke-width="1"/>
<rect x="37.5" y="292.6" width="230.30" height="221.60" fill="none" stroke="#dadada" stroke-width="1"/>
<path d="M186.9 410.7h0M151.1 417.4h0M151.5 433.3h0M151.7 424.2h0M239.0 369.1h0M155.6 403.6h0" stroke="#36ada4" stroke-width="3.5" stroke-linecap="round" fill="none" stroke-opacity="0.72"/>
<path d="M187.3 406.8h0M148.7 452.9h0M167.0 436.7h0M189.8 384.6h0M185.9 410.9h0" stroke="#97a431" stroke-width="3.5" stroke-linecap="round" fill="none" stroke-opacity="0.72"/>
<path d="M227.9 369.2h0M206.8 378.9h0M101.4 435.6h0M203.7 405.3h0M165.1 379.2h0M144.7 444.6h0M186.5 398.6h0" stroke="#a48cf4" stroke-width="3.5" stroke-linecap="round" fill="none" stroke-opacity="0.72"/>
<path d="M195.5 389.0h0M150.7 420.1h0M163.6 414.0h0M158.9 423.4h0M189.0 382.3h0M179.3 368.8h0M217.0 369.8h0M153.3 449.2h0" stroke="#38a9c5" stroke-width="3.5" stroke-linecap="round" fill="none" stroke-opacity="0.72"/>
<path d="M175.2 423.2h0M163.7 394.6h0M187.8 416.0h0M164.1 437.9h0M147.2 361.4h0M145.5 416.3h0M136.0 416.2h0M185.7 421.5h0M105.5 401.3h0M237.7 357.7h0M163.3 365.0h0M159.5 418.5h0" stroke="#e68332" stroke-width="3.5" stroke-linecap="round" fill="none" stroke-opacity="0.72"/>
<path d="M135.1 395.5h0M172.1 412.7h0M121.1 429.9h0M132.3 457.1h0M162.1 388.6h0" stroke="#34af8a" stroke-width="3.5" stroke-linecap="round" fill="none" stroke-opacity="0.72"/>
<path d="M220.6 359.1h0M164.7 431.9h0M143.1 375.2h0M201.1 411.2h0M145.1 438.1h0" stroke="#f77189" stroke-width="3.5" stroke-linecap="round" fill="none" stroke-opacity="0.72"/>
<path d="M172.9 415.0h0M143.0 402.9h0M253.6 349.6h0" stroke="#50b131" stroke-width="3.5" stroke-linecap="round" fill="none" stroke-opacity="0.72"/>
<path d="M245.2 334.4h0M134.8 419.3h0M149.0 396.0h0M143.4 428.9h0M192.6 403.4h0" stroke="#f66bad" stroke-width="3.5" stroke-linecap="round" fill="none" stroke-opacity="0.72"/>
<path d="M145.7 447.4h0M157.2 429.4h0M230.5 315.6h0M170.6 398.1h0" stroke="#bb9832" stroke-width="3.5" stroke-linecap="round" fill="none" stroke-opacity="0.72"/>
<path d="M148.4 387.5h0M204.6 368.4h0M194.0 420.3h0M106.9 443.1h0M201.1 415.7h0M205.7 379.8h0M214.5 399.9h0M174.8 372.5h0M187.9 405.6h0M100.0 430.0h0M147.2 456.1h0M178.9 387.1h0M153.5 415.0h0M180.6 368.3h0M177.6 378.9h0M135.9 394.8h0M165.5 419.3h0M169.6 401.5h0M161.7 370.9h0M150.9 431.3h0M161.0 383.4h0M220.0 375.2h0" stroke="#e68332" stroke-width="3.5" stroke-linecap="round" fill="none" stroke-opacity="0.72"/>
<path d="M161.1 453.7h0M149.1 466.1h0M200.7 374.6h0M168.2 396.7h0M161.6 388.4h0M119.5 412.2h0M173.7 373.8h0" stroke="#f77189" stroke-width="3.5" stroke-linecap="round" fill="none" stroke-opacity="0.72"/>
<path d="M129.7 411.9h0" stroke="#38a9c5" stroke-width="3.5" stroke-linecap="round" fill="none" stroke-opacity="0.72"/>
<path d="M118.8 398.5h0" stroke="#f66bad" stroke-width="3.5" stroke-linecap="round" fill="none" stroke-opacity="0.72"/>
<path d="M186.3 420.3h0M196.6 417.4h0M188.5 380.5h0M242.3 366.5h0M169.1 420.6h0" stroke="#34af8a" stroke-width="3.5" stroke-linecap="round" fill="none" stroke-opacity="0.72"/>
<path d="M191.4 402.5h0M130.8 455.6h0M178.4 389.3h0M158.1 453.3h0" stroke="#3ba3ec" stroke-width="3.5" stroke-linecap="round" fill="none" stroke-opacity="0.72"/>
<path d="M140.6 386.4h0M160.9 393.3h0M165.9 408.4h0" stroke="#a48cf4" stroke-width="3.5" stroke-linecap="round" fill="none" stroke-opacity="0.72"/>
<path d="M230.3 333.3h0M188.4 373.8h0M195.5 400.4h0M117.8 443.1h0M106.9 451.8h0" stroke="#36ada4" stroke-width="3.5" stroke-linecap="round" fill="none" stroke-opacity="0.72"/>
<path d="M160.7 389.8h0M153.4 415.8h0M199.0 377.7h0M155.0 409.8h0M122.1 455.3h0M221.9 368.4h0" stroke="#97a431" stroke-width="3.5" stroke-linecap="round" fill="none" stroke-opacity="0.72"/>
<path d="M188.6 412.1h0M186.3 382.5h0M155.9 407.5h0M154.4 436.1h0M152.4 378.1h0" stroke="#50b131" stroke-width="3.5" stroke-linecap="round" fill="none" stroke-opacity="0.72"/>
<path d="M237.1 376.4h0" stroke="#f45cf2" stroke-width="3.5" stroke-linecap="round" fill="none" stroke-opacity="0.72"/>
<path d="M139.1 403.9h0M103.6 396.1h0M186.1 393.5h0M164.3 414.4h0M187.6 363.6h0M154.2 402.7h0M186.2 369.3h0M137.9 421.0h0M117.9 414.6h0M180.5 410.1h0" stroke="#34af8a" stroke-width="3.5" stroke-linecap="round" fill="none" stroke-opacity="0.72"/>
<path d="M167.0 372.3h0M163.2 436.7h0M118.1 436.3h0" stroke="#bb9832" stroke-width="3.5" stroke-linecap="round" fill="none" stroke-opacity="0.72"/>
<path d="M185.7 350.9h0M189.7 409.6h0M161.4 377.4h0M142.3 459.8h0M123.7 425.0h0M176.7 400.8h0" stroke="#f77189" stroke-width="3.5" stroke-linecap="round" fill="none" stroke-opacity="0.72"/>
<path d="M164.6 377.0h0M205.5 367.7h0M185.9 364.6h0M194.9 368.4h0M169.4 397.8h0M125.9 428.3h0M219.5 357.0h0" stroke="#36ada4" stroke-width="3.5" stroke-linecap="round" fill="none" stroke-opacity="0.72"/>
<path d="M147.9 413.8h0M173.7 343.3h0M141.9 447.2h0M170.6 377.7h0M90.0 463.9h0M195.2 392.8h0M144.4 431.7h0M167.8 410.4h0M114.1 453.5h0M177.0 423.6h0M128.6 396.6h0M191.8 404.0h0" stroke="#e68332" stroke-width="3.5" stroke-linecap="round" fill="none" stroke-opacity="0.72"/>
<path d="M158.2 403.7h0M178.0 421.4h0" stroke="#3ba3ec" stroke-width="3.5" stroke-linecap="round" fill="none" stroke-opacity="0.72"/>
<path d="M220.0 362.3h0M177.2 369.3h0M179.1 423.8h0M115.9 364.4h0" stroke="#f66bad" stroke-width="3.5" stroke-linecap="round" fill="none" stroke-opacity="0.72"/>
<path d="M147.1 456.7h0M204.9 322.5h0M226.2 354.0h0M181.9 414.3h0" stroke="#50b131" stroke-width="3.5" stroke-linecap="round" fill="none" stroke-opacity="0.72"/>
<path d="M203.7 357.1h0M155.2 427.3h0M153.7 422.8h0M165.2 411.5h0" stroke="#97a431" stroke-width="3.5" stroke-linecap="round" fill="none" stroke-opacity="0.72"/>
<path d="M147.4 377.9h0M227.9 370.2h0" stroke="#a48cf4" stroke-width="3.5" stroke-linecap="round" fill="none" stroke-opacity="0.72"/>
<path d="M128.7 356.1h0M211.8 378.1h0M210.1 391.5h0M212.8 395.1h0M156.8 374.4h0" stroke="#38a9c5" stroke-width="3.5" stroke-linecap="round" fill="none" stroke-opacity="0.72"/>
<path d="M171.3 347.9h0" stroke="#f45cf2" stroke-width="3.5" stroke-linecap="round" fill="none" stroke-opacity="0.72"/>
<path d="M197.2 414.5h0M149.7 372.0h0M126.1 428.3h0M173.2 426.4h0M110.4 459.7h0M166.7 417.9h0M186.6 378.4h0" stroke="#a48cf4" stroke-width="3.5" stroke-linecap="round" fill="none" stroke-opacity="0.72"/>
<path d="M142.4 429.8h0M173.8 435.3h0M175.8 403.3h0M146.9 403.8h0M232.4 381.9h0M134.3 401.9h0M239.7 357.8h0M179.9 403.1h0M230.5 347.4h0M185.9 371.2h0" stroke="#f77189" stroke-width="3.5" stroke-linecap="round" fill="none" stroke-opacity="0.72"/>
<path d="M138.6 459.9h0M231.4 332.8h0M179.4 394.8h0M175.3 420.2h0M141.8 442.1h0M175.2 407.1h0M153.1 382.8h0M225.5 333.3h0M103.4 448.3h0M162.2 440.2h0M124.8 375.1h0M147.9 417.5h0M176.7 386.5h0M154.9 379.6h0M150.6 420.8h0M201.0 395.0h0" stroke="#e68332" stroke-width="3.5" stroke-linecap="round" fill="none" stroke-opacity="0.72"/>
<path d="M207.6 355.4h0M180.4 414.4h0M209.6 378.1h0" stroke="#36ada4" stroke-width="3.5" stroke-linecap="round" fill="none" stroke-opacity="0.72"/>
<path d="M140.8 438.8h0M147.1 430.4h0M228.2 353.2h0M129.8 453.3h0M157.8 427.3h0M138.9 433.6h0M155.3 409.0h0M80.5 483.6h0" stroke="#34af8a" stroke-width="3.5" stroke-linecap="round" fill="none" stroke-opacity="0.72"/>
<path d="M171.2 422.9h0" stroke="#f45cf2" stroke-width="3.5" stroke-linecap="round" fill="none" stroke-opacity="0.72"/>
<path d="M128.6 391.7h0M110.5 392.2h0M173.1 387.2h0M170.7 354.0h0M162.6 426.9h0" stroke="#f66bad" stroke-width="3.5" stroke-linecap="round" fill="none" stroke-opacity="0.72"/>
<path d="M176.3 414.3h0M197.2 361.8h0M145.5 430.9h0M162.0 440.1h0" stroke="#97a431" stroke-width="3.5" stroke-linecap="round" fill="none" stroke-opacity="0.72"/>
<path d="M107.6 402.2h0M203.2 375.4h0" stroke="#3ba3ec" stroke-width="3.5" stroke-linecap="round" fill="none" stroke-opacity="0.72"/>
<path d="M156.0 447.0h0M118.7 438.8h0M210.2 381.8h0" stroke="#38a9c5" stroke-width="3.5" stroke-linecap="round" fill="none" stroke-opacity="0.72"/>
<path d="M87.8 416.7h0" stroke="#bb9832" stroke-width="3.5" stroke-linecap="round" fill="none" stroke-opacity="0.72"/>
<path d="M174.4 379.5h0M144.2 396.1h0M168.9 407.0h0" stroke="#a48cf4" stroke-width="3.5" stroke-linecap="round" fill="none" stroke-opacity="0.72"/>
<path d="M154.2 340.4h0M167.7 392.1h0M186.5 414.4h0M184.7 369.9h0M180.2 405.8h0M198.1 414.3h0M199.5 358.0h0M164.5 383.3h0M133.7 401.6h0M128.0 381.8h0M148.3 381.8h0M178.8 425.7h0M147.7 387.3h0M206.4 405.2h0M195.5 369.8h0" stroke="#e68332" stroke-width="3.5" stroke-linecap="round" fill="none" stroke-opacity="0.72"/>
<path d="M164.6 433.5h0M200.5 379.9h0M205.2 359.2h0M125.3 419.2h0M189.9 391.6h0M170.8 429.7h0M180.6 426.0h0M186.3 417.9h0M170.0 400.8h0" stroke="#50b131" stroke-width="3.5" stroke-linecap="round" fill="none" stroke-opacity="0.72"/>
<path d="M232.1 335.1h0M197.4 411.2h0" stroke="#38a9c5" stroke-width="3.5" stroke-linecap="round" fill="none" stroke-opacity="0.72"/>
<path d="M139.3 392.1h0M163.7 402.4h0M128.6 398.6h0M164.8 414.9h0M217.1 385.4h0" stroke="#f77189" stroke-width="3.5" stroke-linecap="round" fill="none" stroke-opacity="0.72"/>
<path d="M233.4 371.3h0M225.0 382.1h0M210.9 370.8h0M137.5 462.8h0M181.7 398.5h0" stroke="#36ada4" stroke-width="3.5" stroke-linecap="round" fill="none" stroke-opacity="0.72"/>
<path d="M191.2 391.0h0M190.8 414.6h0M202.1 347.7h0M126.7 373.6h0M134.8 399.8h0M134.1 415.5h0" stroke="#bb9832" stroke-width="3.5" stroke-linecap="round" fill="none" stroke-opacity="0.72"/>
<path d="M168.1 409.7h0M165.7 438.6h0M158.1 402.5h0M156.1 412.9h0M164.1 383.7h0M179.7 392.5h0M216.9 390.7h0" stroke="#97a431" stroke-width="3.5" stroke-linecap="round" fill="none" stroke-opacity="0.72"/>
<path d="M151.8 410.8h0M162.3 417.2h0M181.2 428.6h0" stroke="#f66bad" stroke-width="3.5" stroke-linecap="round" fill="none" stroke-opacity="0.72"/>
<path d="M177.4 377.2h0M166.7 395.2h0" stroke="#f45cf2" stroke-width="3.5" stroke-linecap="round" fill="none" stroke-opacity="0.72"/>
<path d="M181.7 406.2h0M140.3 443.8h0M183.9 359.5h0" stroke="#34af8a" stroke-width="3.5" stroke-linecap="round" fill="none" stroke-opacity="0.72"/>
<path d="M150.0 366.6h0M156.6 377.8h0M139.1 403.1h0M193.0 380.6h0M174.5 442.6h0M186.7 420.0h0M182.2 374.1h0M140.9 395.6h0M193.4 352.1h0" stroke="#36ada4" stroke-width="3.5" stroke-linecap="round" fill="none" stroke-opacity="0.72"/>
<path d="M181.7 405.2h0M187.6 390.6h0M165.0 430.3h0M167.5 404.8h0M149.7 364.2h0M107.2 442.5h0M160.2 366.4h0" stroke="#34af8a" stroke-width="3.5" stroke-linecap="round" fill="none" stroke-opacity="0.72"/>
<path d="M193.6 393.1h0M89.9 410.9h0M160.2 343.9h0M220.1 376.1h0M227.2 376.9h0M174.0 408.8h0M164.0 407.0h0M194.1 417.9h0M177.3 362.1h0" stroke="#f77189" stroke-width="3.5" stroke-linecap="round" fill="none" stroke-opacity="0.72"/>
<path d="M187.9 412.7h0M138.3 418.0h0M158.6 427.9h0M217.6 370.3h0M158.1 408.0h0M157.5 428.1h0M159.7 387.6h0M224.9 360.2h0M170.4 401.5h0M163.4 370.0h0M192.8 409.9h0M153.0 402.4h0M228.7 361.4h0" stroke="#e68332" stroke-width="3.5" stroke-linecap="round" fill="none" stroke-opacity="0.72"/>
<path d="M123.8 422.1h0M235.0 346.0h0" stroke="#3ba3ec" stroke-width="3.5" stroke-linecap="round" fill="none" stroke-opacity="0.72"/>
<path d="M179.9 378.9h0M227.9 352.5h0" stroke="#97a431" stroke-width="3.5" stroke-linecap="round" fill="none" stroke-opacity="0.72"/>
<path d="M168.0 406.4h0M239.4 361.5h0M165.7 362.4h0M110.5 421.3h0M152.0 413.6h0M151.9 444.8h0" stroke="#38a9c5" stroke-width="3.5" stroke-linecap="round" fill="none" stroke-opacity="0.72"/>
<path d="M136.1 402.4h0M113.6 471.0h0M134.6 465.6h0M126.4 415.0h0M182.7 424.6h0M156.0 398.6h0" stroke="#50b131" stroke-width="3.5" stroke-linecap="round" fill="none" stroke-opacity="0.72"/>
<path d="M178.5 415.1h0" stroke="#bb9832" stroke-width="3.5" stroke-linecap="round" fill="none" stroke-opacity="0.72"/>
<path d="M146.0 409.0h0M177.2 416.9h0" stroke="#f66bad" stroke-width="3.5" stroke-linecap="round" fill="none" stroke-opacity="0.72"/>
<path d="M163.7 442.2h0M105.6 434.8h0M178.0 386.8h0" stroke="#a48cf4" stroke-width="3.5" stroke-linecap="round" fill="none" stroke-opacity="0.72"/>
<path d="M135.2 427.3h0M97.4 426.7h0M197.1 364.2h0M115.8 432.4h0M174.7 420.8h0M169.1 445.3h0M208.4 397.8h0M200.2 373.8h0" stroke="#34af8a" stroke-width="3.5" stroke-linecap="round" fill="none" stroke-opacity="0.72"/>
<path d="M113.8 424.0h0M118.5 441.9h0M220.0 368.3h0M185.0 358.4h0M223.9 388.2h0" stroke="#bb9832" stroke-width="3.5" stroke-linecap="round" fill="none" stroke-opacity="0.72"/>
<path d="M231.1 355.8h0M172.4 395.8h0M152.5 432.3h0" stroke="#36ada4" stroke-width="3.5" stroke-linecap="round" fill="none" stroke-opacity="0.72"/>
<path d="M138.0 385.1h0M165.5 402.7h0M156.2 431.2h0M121.5 435.4h0M183.7 394.4h0" stroke="#f66bad" stroke-width="3.5" stroke-linecap="round" fill="none" stroke-opacity="0.72"/>
<path d="M140.9 395.6h0M153.1 380.9h0M208.2 389.0h0M158.8 441.7h0M205.3 408.7h0" stroke="#38a9c5" stroke-width="3.5" stroke-linecap="round" fill="none" stroke-opacity="0.72"/>
<path d="M172.6 408.5h0M190.0 391.5h0M159.9 349.6h0M182.3 386.8h0M160.4 427.2h0M177.2 395.0h0M120.2 443.4h0M143.0 445.0h0M160.8 426.4h0M173.5 431.5h0M137.4 451.4h0M163.8 385.6h0M179.5 402.0h0M146.2 425.2h0M174.1 403.7h0" stroke="#e68332" stroke-width="3.5" stroke-linecap="round" fill="none" stroke-opacity="0.72"/>
<path d="M218.3 344.6h0M197.3 416.8h0M209.1 397.8h0" stroke="#97a431" stroke-width="3.5" stroke-linecap="round" fill="none" stroke-opacity="0.72"/>
<path d="M143.5 427.2h0M184.9 406.2h0M155.5 375.9h0M189.3 415.1h0M160.7 359.1h0M176.2 377.0h0" stroke="#3ba3ec" stroke-width="3.5" stroke-linecap="round" fill="none" stroke-opacity="0.72"/>
<path d="M177.2 430.0h0M222.3 360.1h0" stroke="#f45cf2" stroke-width="3.5" stroke-linecap="round" fill="none" stroke-opacity="0.72"/>
<path d="M155.7 417.6h0" stroke="#a48cf4" stroke-width="3.5" stroke-linecap="round" fill="none" stroke-opacity="0.72"/>
<path d="M162.0 432.8h0M169.0 453.0h0M193.6 392.2h0M196.6 383.2h0M173.3 387.6h0" stroke="#50b131" stroke-width="3.5" stroke-linecap="round" fill="none" stroke-opacity="0.72"/>
<path d="M199.0 411.7h0M161.2 394.8h0" stroke="#f77189" stroke-width="3.5" stroke-linecap="round" fill="none" stroke-opacity="0.72"/>
<path d="M152.3 436.1h0M119.3 424.4h0M150.7 446.3h0M163.8 389.5h0M150.0 393.4h0M183.0 394.9h0M130.3 421.8h0M217.6 391.5h0" stroke="#97a431" stroke-width="3.5" stroke-linecap="round" fill="none" stroke-opacity="0.72"/>
<path d="M124.3 411.7h0M176.5 390.2h0" stroke="#3ba3ec" stroke-width="3.5" stroke-linecap="round" fill="none" stroke-opacity="0.72"/>
<path d="M127.1 426.0h0M191.0 376.2h0M208.8 384.1h0M152.8 408.9h0M189.5 396.5h0M144.8 397.2h0" stroke="#36ada4" stroke-width="3.5" stroke-linecap="round" fill="none" stroke-opacity="0.72"/>
<path d="M130.5 389.0h0M188.7 396.1h0M167.5 379.1h0M120.8 405.3h0M207.4 383.2h0M193.3 402.5h0" stroke="#38a9c5" stroke-width="3.5" stroke-linecap="round" fill="none" stroke-opacity="0.72"/>
<path d="M161.8 431.8h0M146.9 450.5h0M166.8 437.4h0M138.6 412.2h0" stroke="#a48cf4" stroke-width="3.5" stroke-linecap="round" fill="none" stroke-opacity="0.72"/>
<path d="M186.0 400.2h0M157.8 421.2h0M188.5 405.9h0M189.2 396.4h0M163.9 418.3h0M189.5 403.1h0" stroke="#34af8a" stroke-width="3.5" stroke-linecap="round" fill="none" stroke-opacity="0.72"/>
<path d="M202.8 360.1h0M132.2 437.7h0M174.0 361.3h0M131.4 400.9h0M206.0 364.4h0M182.6 379.6h0M138.0 407.2h0M163.5 419.3h0" stroke="#f77189" stroke-width="3.5" stroke-linecap="round" fill="none" stroke-opacity="0.72"/>
<path d="M139.2 417.5h0M159.5 409.5h0M125.5 437.6h0M171.0 396.2h0M200.6 384.4h0M178.6 388.2h0" stroke="#50b131" stroke-width="3.5" stroke-linecap="round" fill="none" stroke-opacity="0.72"/>
<path d="M183.6 418.5h0M174.6 370.7h0M86.1 473.0h0M177.7 401.9h0M168.5 399.4h0M133.9 430.4h0M186.0 395.9h0M140.4 447.0h0M129.3 442.9h0M149.8 417.6h0M177.5 429.3h0" stroke="#e68332" stroke-width="3.5" stroke-linecap="round" fill="none" stroke-opacity="0.72"/>
<path d="M156.0 440.1h0M136.6 418.5h0" stroke="#f66bad" stroke-width="3.5" stroke-linecap="round" fill="none" stroke-opacity="0.72"/>
<path d="M240.2 360.2h0" stroke="#bb9832" stroke-width="3.5" stroke-linecap="round" fill="none" stroke-opacity="0.72"/>
<path d="M125.8 406.7h0M157.7 457.8h0M233.8 354.7h0M175.0 415.3h0M149.1 435.6h0M213.7 320.3h0M181.6 391.7h0M151.7 388.2h0" stroke="#36ada4" stroke-width="3.5" stroke-linecap="round" fill="none" stroke-opacity="0.72"/>
<path d="M181.3 405.5h0M160.3 400.1h0M192.1 414.8h0M133.6 462.9h0M136.6 471.8h0M163.2 434.3h0M185.2 388.6h0M179.2 435.9h0M165.9 378.5h0M207.5 368.9h0M170.9 392.2h0M106.0 466.3h0" stroke="#f77189" stroke-width="3.5" stroke-linecap="round" fill="none" stroke-opacity="0.72"/>
<path d="M154.4 384.0h0M131.6 449.2h0M148.1 396.8h0M154.7 455.3h0" stroke="#f66bad" stroke-width="3.5" stroke-linecap="round" fill="none" stroke-opacity="0.72"/>
<path d="M196.8 362.6h0M208.9 377.1h0M234.5 357.0h0" stroke="#38a9c5" stroke-width="3.5" stroke-linecap="round" fill="none" stroke-opacity="0.72"/>
<path d="M173.4 432.4h0M164.7 386.0h0M175.6 380.4h0M132.5 443.9h0M163.2 375.2h0M135.7 470.5h0M164.5 373.2h0M161.5 432.6h0M231.8 327.9h0M165.9 394.4h0M166.3 414.3h0M188.1 409.8h0M220.1 389.6h0" stroke="#e68332" stroke-width="3.5" stroke-linecap="round" fill="none" stroke-opacity="0.72"/>
<path d="M209.9 387.6h0M247.5 317.3h0M89.0 488.9h0M205.0 378.1h0M122.9 417.7h0" stroke="#34af8a" stroke-width="3.5" stroke-linecap="round" fill="none" stroke-opacity="0.72"/>
<path d="M141.8 417.0h0M198.4 413.2h0M220.6 370.0h0M119.1 476.0h0M193.4 397.7h0M198.7 406.9h0M125.7 428.9h0" stroke="#50b131" stroke-width="3.5" stroke-linecap="round" fill="none" stroke-opacity="0.72"/>
<path d="M135.2 411.7h0M191.7 404.7h0" stroke="#97a431" stroke-width="3.5" stroke-linecap="round" fill="none" stroke-opacity="0.72"/>
<path d="M130.2 430.3h0M182.5 406.4h0" stroke="#a48cf4" stroke-width="3.5" stroke-linecap="round" fill="none" stroke-opacity="0.72"/>
<path d="M163.3 436.0h0" stroke="#f45cf2" stroke-width="3.5" stroke-linecap="round" fill="none" stroke-opacity="0.72"/>
<path d="M142.6 454.3h0M198.8 382.3h0M166.2 387.4h0" stroke="#bb9832" stroke-width="3.5" stroke-linecap="round" fill="none" stroke-opacity="0.72"/>
<path d="M150.5 396.4h0M179.7 398.9h0M163.6 432.7h0M188.5 388.9h0M181.0 412.3h0M196.4 409.9h0M72.3 412.8h0M168.2 419.3h0M197.9 411.4h0M176.3 420.8h0M213.4 380.5h0M120.1 389.0h0M145.9 439.2h0M149.1 418.7h0M176.8 394.0h0" stroke="#e68332" stroke-width="3.5" stroke-linecap="round" fill="none" stroke-opacity="0.72"/>
<path d="M192.9 383.9h0M157.8 417.0h0M146.3 360.2h0" stroke="#f77189" stroke-width="3.5" stroke-linecap="round" fill="none" stroke-opacity="0.72"/>
<path d="M148.5 397.2h0M164.4 440.8h0M125.7 412.7h0M193.2 369.4h0M190.6 406.7h0M181.9 412.6h0M197.9 400.6h0M167.4 415.8h0M198.6 362.6h0M183.9 387.4h0" stroke="#50b131" stroke-width="3.5" stroke-linecap="round" fill="none" stroke-opacity="0.72"/>
<path d="M153.3 430.0h0M96.4 451.1h0M175.5 329.0h0M130.9 436.6h0M188.8 420.2h0M162.2 406.9h0M186.9 401.4h0M165.3 370.7h0M149.8 403.3h0" stroke="#34af8a" stroke-width="3.5" stroke-linecap="round" fill="none" stroke-opacity="0.72"/>
<path d="M136.2 450.6h0M138.2 447.8h0" stroke="#97a431" stroke-width="3.5" stroke-linecap="round" fill="none" stroke-opacity="0.72"/>
<path d="M159.1 445.5h0M170.9 384.1h0M139.3 430.1h0" stroke="#bb9832" stroke-width="3.5" stroke-linecap="round" fill="none" stroke-opacity="0.72"/>
<path d="M149.5 404.1h0M200.4 401.5h0M154.9 394.8h0" stroke="#f66bad" stroke-width="3.5" stroke-linecap="round" fill="none" stroke-opacity="0.72"/>
<path d="M149.2 420.3h0M218.0 394.2h0M164.0 420.7h0M132.0 415.8h0" stroke="#3ba3ec" stroke-width="3.5" stroke-linecap="round" fill="none" stroke-opacity="0.72"/>
<path d="M129.2 438.5h0M198.6 394.8h0M192.1 370.0h0M135.3 379.9h0" stroke="#38a9c5" stroke-width="3.5" stroke-linecap="round" fill="none" stroke-opacity="0.72"/>
<path d="M218.6 362.3h0M174.0 388.8h0M194.5 404.4h0M194.3 380.1h0M159.6 415.1h0" stroke="#36ada4" stroke-width="3.5" stroke-linecap="round" fill="none" stroke-opacity="0.72"/>
<path d="M121.5 398.1h0M180.9 421.6h0" stroke="#a48cf4" stroke-width="3.5" stroke-linecap="round" fill="none" stroke-opacity="0.72"/>
<path d="M196.1 416.0h0M176.4 429.5h0M137.6 422.3h0M147.9 362.2h0M186.5 350.5h0M97.0 461.9h0M182.2 435.3h0M155.5 369.2h0M199.5 395.4h0M136.8 414.1h0M212.2 377.7h0M177.3 428.9h0M156.6 442.6h0M152.6 398.7h0" stroke="#e68332" stroke-width="3.5" stroke-linecap="round" fill="none" stroke-opacity="0.72"/>
<path d="M226.4 370.7h0M178.9 367.8h0M176.9 369.5h0M188.7 391.5h0M160.2 403.7h0M103.8 450.9h0M197.6 384.8h0M185.7 426.0h0M181.0 388.5h0M167.2 451.1h0M145.8 439.1h0M147.1 376.5h0" stroke="#50b131" stroke-width="3.5" stroke-linecap="round" fill="none" stroke-opacity="0.72"/>
<path d="M136.3 414.4h0M138.4 392.1h0M194.6 367.4h0M218.4 376.3h0" stroke="#97a431" stroke-width="3.5" stroke-linecap="round" fill="none" stroke-opacity="0.72"/>
<path d="M135.8 460.7h0M221.6 387.4h0M153.5 438.1h0" stroke="#34af8a" stroke-width="3.5" stroke-linecap="round" fill="none" stroke-opacity="0.72"/>
<path d="M215.1 371.5h0M107.3 420.6h0M234.6 362.7h0M154.6 430.3h0M173.5 376.8h0M177.5 405.4h0M169.5 360.1h0" stroke="#36ada4" stroke-width="3.5" stroke-linecap="round" fill="none" stroke-opacity="0.72"/>
<path d="M157.2 380.7h0M142.3 420.0h0M194.0 352.7h0M220.6 373.9h0M179.2 416.1h0M152.8 377.0h0" stroke="#f77189" stroke-width="3.5" stroke-linecap="round" fill="none" stroke-opacity="0.72"/>
<path d="M162.3 380.8h0M167.5 439.6h0M216.0 377.1h0M207.5 363.6h0M208.1 399.3h0" stroke="#f66bad" stroke-width="3.5" stroke-linecap="round" fill="none" stroke-opacity="0.72"/>
<path d="M126.3 421.0h0M203.8 396.1h0M181.2 335.1h0" stroke="#3ba3ec" stroke-width="3.5" stroke-linecap="round" fill="none" stroke-opacity="0.72"/>
<path d="M157.1 426.4h0" stroke="#bb9832" stroke-width="3.5" stroke-linecap="round" fill="none" stroke-opacity="0.72"/>
<path d="M112.1 453.1h0M237.4 371.6h0M221.8 354.5h0" stroke="#a48cf4" stroke-width="3.5" stroke-linecap="round" fill="none" stroke-opacity="0.72"/>
<path d="M171.3 400.3h0M140.8 433.8h0" stroke="#38a9c5" stroke-width="3.5" stroke-linecap="round" fill="none" stroke-opacity="0.72"/>
<path d="M214.0 361.4h0M163.8 446.6h0M230.9 369.5h0M179.3 359.7h0M169.6 416.4h0M147.3 450.8h0M177.6 417.5h0M185.9 385.6h0" stroke="#f77189" stroke-width="3.5" stroke-linecap="round" fill="none" stroke-opacity="0.72"/>
<path d="M101.5 442.1h0M148.0 370.8h0M151.5 421.2h0M184.1 385.5h0M193.9 413.0h0M143.7 395.4h0M144.2 402.7h0M164.9 423.1h0" stroke="#50b131" stroke-width="3.5" stroke-linecap="round" fill="none" stroke-opacity="0.72"/>
<path d="M206.9 364.2h0M198.9 362.7h0M209.7 391.4h0M199.1 394.4h0M155.3 424.7h0M182.3 410.4h0" stroke="#36ada4" stroke-width="3.5" stroke-linecap="round" fill="none" stroke-opacity="0.72"/>
<path d="M158.9 422.5h0M168.2 429.1h0" stroke="#f66bad" stroke-width="3.5" stroke-linecap="round" fill="none" stroke-opacity="0.72"/>
<path d="M194.6 401.1h0M167.9 385.1h0M184.6 414.6h0M194.6 398.8h0M189.2 387.7h0M206.0 373.3h0M124.0 445.1h0" stroke="#34af8a" stroke-width="3.5" stroke-linecap="round" fill="none" stroke-opacity="0.72"/>
<path d="M148.0 379.7h0M213.6 363.6h0M220.1 380.0h0M185.5 328.0h0M139.8 449.9h0M185.9 415.2h0M169.7 363.0h0M185.7 395.2h0M161.3 440.8h0M158.3 392.1h0M148.0 406.7h0M188.6 411.4h0M157.7 420.8h0" stroke="#e68332" stroke-width="3.5" stroke-linecap="round" fill="none" stroke-opacity="0.72"/>
<path d="M165.8 365.9h0M198.6 398.0h0M193.6 394.0h0M200.3 367.2h0M178.4 417.1h0M151.6 443.4h0" stroke="#97a431" stroke-width="3.5" stroke-linecap="round" fill="none" stroke-opacity="0.72"/>
<path d="M174.3 351.2h0" stroke="#f45cf2" stroke-width="3.5" stroke-linecap="round" fill="none" stroke-opacity="0.72"/>
<path d="M129.8 409.3h0M116.5 430.2h0" stroke="#bb9832" stroke-width="3.5" stroke-linecap="round" fill="none" stroke-opacity="0.72"/>
<path d="M147.1 394.6h0M183.9 421.7h0M181.2 368.5h0" stroke="#3ba3ec" stroke-width="3.5" stroke-linecap="round" fill="none" stroke-opacity="0.72"/>
<path d="M189.8 388.6h0M210.2 405.5h0" stroke="#a48cf4" stroke-width="3.5" stroke-linecap="round" fill="none" stroke-opacity="0.72"/>
<path d="M186.0 416.8h0M169.3 410.7h0" stroke="#38a9c5" stroke-width="3.5" stroke-linecap="round" fill="none" stroke-opacity="0.72"/>
<path d="M202.5 375.9h0M100.6 442.4h0M174.7 354.4h0M210.4 343.1h0M152.2 436.2h0" stroke="#f66bad" stroke-width="3.5" stroke-linecap="round" fill="none" stroke-opacity="0.72"/>
<path d="M151.6 395.8h0M190.7 380.0h0M141.0 411.8h0M99.4 448.3h0M183.8 416.4h0M142.0 463.9h0M212.8 353.1h0M190.4 362.2h0M189.3 406.4h0M212.9 352.3h0M138.7 426.9h0" stroke="#e68332" stroke-width="3.5" stroke-linecap="round" fill="none" stroke-opacity="0.72"/>
<path d="M180.3 358.6h0M173.6 405.1h0M209.1 387.0h0M122.8 425.8h0M185.4 403.4h0M176.8 393.9h0M167.4 415.7h0M179.5 404.0h0M188.0 371.1h0M157.2 426.4h0" stroke="#34af8a" stroke-width="3.5" stroke-linecap="round" fill="none" stroke-opacity="0.72"/>
<path d="M149.4 417.1h0M161.2 424.1h0M195.3 383.7h0M189.0 380.9h0" stroke="#bb9832" stroke-width="3.5" stroke-linecap="round" fill="none" stroke-opacity="0.72"/>
<path d="M150.3 424.0h0M188.9 405.4h0M154.8 413.6h0M152.7 410.6h0M148.3 405.1h0" stroke="#36ada4" stroke-width="3.5" stroke-linecap="round" fill="none" stroke-opacity="0.72"/>
<path d="M177.6 397.8h0M116.2 442.9h0M220.7 361.5h0" stroke="#a48cf4" stroke-width="3.5" stroke-linecap="round" fill="none" stroke-opacity="0.72"/>
<path d="M127.2 458.6h0M248.4 342.6h0M158.1 429.9h0" stroke="#97a431" stroke-width="3.5" stroke-linecap="round" fill="none" stroke-opacity="0.72"/>
<path d="M124.9 435.2h0M96.5 414.4h0" stroke="#f77189" stroke-width="3.5" stroke-linecap="round" fill="none" stroke-opacity="0.72"/>
<path d="M167.1 416.9h0M163.0 383.8h0M152.5 433.2h0M170.2 400.4h0" stroke="#38a9c5" stroke-width="3.5" stroke-linecap="round" fill="none" stroke-opacity="0.72"/>
<path d="M163.9 407.8h0M212.4 394.9h0M187.6 374.3h0M139.3 424.8h0" stroke="#3ba3ec" stroke-width="3.5" stroke-linecap="round" fill="none" stroke-opacity="0.72"/>
<path d="M128.7 428.1h0M154.7 424.9h0M154.6 444.5h0M187.4 391.3h0M152.4 404.0h0M144.4 394.6h0M132.1 419.7h0" stroke="#50b131" stroke-width="3.5" stroke-linecap="round" fill="none" stroke-opacity="0.72"/>
<path d="M173.0 400.4h0M183.5 393.1h0" stroke="#f45cf2" stroke-width="3.5" stroke-linecap="round" fill="none" stroke-opacity="0.72"/>
<path d="M212.9 378.6h0M156.4 416.6h0M143.5 371.1h0M214.0 372.2h0M168.1 379.5h0" stroke="#f66bad" stroke-width="3.5" stroke-linecap="round" fill="none" stroke-opacity="0.72"/>
<path d="M170.2 417.6h0M187.4 411.1h0" stroke="#38a9c5" stroke-width="3.5" stroke-linecap="round" fill="none" stroke-opacity="0.72"/>
<path d="M186.2 400.4h0M169.7 430.5h0M178.4 398.6h0M180.0 423.1h0M131.7 406.3h0M205.2 374.5h0M212.2 397.3h0M154.2 373.7h0M120.4 423.7h0M201.8 402.3h0M126.3 416.2h0M212.9 371.9h0" stroke="#e68332" stroke-width="3.5" stroke-linecap="round" fill="none" stroke-opacity="0.72"/>
<path d="M177.6 375.7h0M149.3 420.6h0M144.8 418.6h0M166.3 354.3h0" stroke="#a48cf4" stroke-width="3.5" stroke-linecap="round" fill="none" stroke-opacity="0.72"/>
<path d="M194.2 372.9h0M163.5 409.2h0M131.9 409.8h0M131.4 368.4h0M233.7 364.9h0M167.7 402.5h0M171.9 421.6h0" stroke="#50b131" stroke-width="3.5" stroke-linecap="round" fill="none" stroke-opacity="0.72"/>
<path d="M192.9 392.6h0M139.5 394.3h0M95.5 416.2h0M197.7 392.9h0M157.1 437.6h0M212.2 389.7h0M164.8 404.6h0M221.7 375.2h0" stroke="#34af8a" stroke-width="3.5" stroke-linecap="round" fill="none" stroke-opacity="0.72"/>
<path d="M196.9 377.1h0M173.9 382.7h0M182.0 374.2h0M239.0 349.3h0M137.5 473.6h0" stroke="#36ada4" stroke-width="3.5" stroke-linecap="round" fill="none" stroke-opacity="0.72"/>
<path d="M184.1 386.3h0M212.4 372.8h0M149.2 388.3h0M170.4 408.1h0" stroke="#f77189" stroke-width="3.5" stroke-linecap="round" fill="none" stroke-opacity="0.72"/>
<path d="M113.1 379.8h0M207.4 406.6h0M254.6 337.1h0M201.9 392.2h0M155.4 417.8h0" stroke="#3ba3ec" stroke-width="3.5" stroke-linecap="round" fill="none" stroke-opacity="0.72"/>
<path d="M185.4 379.6h0M174.5 401.3h0M241.0 362.6h0M205.3 379.4h0M177.9 396.3h0M191.4 363.0h0" stroke="#bb9832" stroke-width="3.5" stroke-linecap="round" fill="none" stroke-opacity="0.72"/>
<path d="M153.3 420.1h0M178.6 409.7h0" stroke="#97a431" stroke-width="3.5" stroke-linecap="round" fill="none" stroke-opacity="0.72"/>
<path d="M156.5 413.3h0M155.4 391.3h0M176.6 369.4h0" stroke="#f77189" stroke-width="3.5" stroke-linecap="round" fill="none" stroke-opacity="0.72"/>
<path d="M169.8 431.4h0M201.5 386.6h0M142.0 440.8h0M201.6 390.7h0M188.5 400.0h0M195.0 406.9h0M154.1 426.6h0M159.9 448.1h0M93.6 424.2h0M138.6 465.1h0M182.5 400.7h0M205.2 391.0h0M149.1 435.0h0M146.1 389.4h0M209.4 397.8h0M116.5 422.9h0M214.9 367.5h0" stroke="#e68332" stroke-width="3.5" stroke-linecap="round" fill="none" stroke-opacity="0.72"/>
<path d="M201.9 378.5h0M208.3 389.6h0M143.0 415.9h0" stroke="#3ba3ec" stroke-width="3.5" stroke-linecap="round" fill="none" stroke-opacity="0.72"/>
<path d="M187.4 363.5h0M179.2 391.3h0M176.3 393.0h0M158.3 391.4h0M131.4 426.8h0M184.8 402.0h0M84.4 473.2h0M146.3 398.3h0M162.1 418.2h0" stroke="#34af8a" stroke-width="3.5" stroke-linecap="round" fill="none" stroke-opacity="0.72"/>
<path d="M127.7 434.4h0M132.1 474.7h0M146.4 408.9h0M132.8 472.0h0M159.5 353.1h0M138.0 436.4h0M117.9 422.1h0" stroke="#50b131" stroke-width="3.5" stroke-linecap="round" fill="none" stroke-opacity="0.72"/>
<path d="M192.5 402.5h0M209.0 375.4h0M186.7 373.1h0M178.9 386.1h0" stroke="#a48cf4" stroke-width="3.5" stroke-linecap="round" fill="none" stroke-opacity="0.72"/>
<path d="M194.9 390.0h0M160.5 354.8h0" stroke="#f45cf2" stroke-width="3.5" stroke-linecap="round" fill="none" stroke-opacity="0.72"/>
<path d="M197.1 383.4h0M132.3 370.8h0M155.4 440.3h0M124.9 383.1h0" stroke="#36ada4" stroke-width="3.5" stroke-linecap="round" fill="none" stroke-opacity="0.72"/>
<path d="M164.0 412.9h0M177.2 396.7h0M117.6 402.9h0" stroke="#97a431" stroke-width="3.5" stroke-linecap="round" fill="none" stroke-opacity="0.72"/>
<path d="M135.0 411.6h0M178.4 382.8h0M148.7 387.8h0M158.7 436.0h0" stroke="#f66bad" stroke-width="3.5" stroke-linecap="round" fill="none" stroke-opacity="0.72"/>
<path d="M176.3 405.6h0M182.4 365.1h0M183.5 367.5h0" stroke="#bb9832" stroke-width="3.5" stroke-linecap="round" fill="none" stroke-opacity="0.72"/>
<path d="M125.5 469.7h0" stroke="#38a9c5" stroke-width="3.5" stroke-linecap="round" fill="none" stroke-opacity="0.72"/>
<path d="M129.2 457.7h0M165.0 399.1h0M148.1 400.1h0M186.1 406.0h0M139.5 385.7h0M145.7 422.3h0M160.2 383.1h0M180.0 402.2h0" stroke="#50b131" stroke-width="3.5" stroke-linecap="round" fill="none" stroke-opacity="0.72"/>
<path d="M175.8 367.1h0" stroke="#3ba3ec" stroke-width="3.5" stroke-linecap="round" fill="none" stroke-opacity="0.72"/>
<path d="M172.0 432.6h0M194.8 351.0h0M147.7 406.8h0M105.4 438.5h0M149.5 395.0h0" stroke="#36ada4" stroke-width="3.5" stroke-linecap="round" fill="none" stroke-opacity="0.72"/>
<path d="M130.1 396.2h0M168.5 393.3h0M228.5 337.9h0M166.3 447.2h0M219.9 333.5h0M144.0 425.6h0" stroke="#f77189" stroke-width="3.5" stroke-linecap="round" fill="none" stroke-opacity="0.72"/>
<path d="M159.3 362.1h0M176.4 368.7h0" stroke="#bb9832" stroke-width="3.5" stroke-linecap="round" fill="none" stroke-opacity="0.72"/>
<path d="M178.3 425.5h0M172.6 377.5h0M157.3 406.0h0M193.7 381.5h0M154.7 392.7h0M146.9 407.5h0" stroke="#34af8a" stroke-width="3.5" stroke-linecap="round" fill="none" stroke-opacity="0.72"/>
<path d="M167.3 391.7h0M186.5 401.8h0M199.8 408.5h0M182.2 399.8h0M162.7 420.4h0M190.9 389.7h0M186.6 402.4h0M171.0 445.0h0M175.8 402.6h0M171.5 446.2h0M163.9 400.6h0M214.5 381.7h0M124.4 418.4h0" stroke="#e68332" stroke-width="3.5" stroke-linecap="round" fill="none" stroke-opacity="0.72"/>
<path d="M220.1 349.6h0M216.3 375.2h0M203.5 407.8h0M155.6 389.6h0M195.7 385.7h0" stroke="#97a431" stroke-width="3.5" stroke-linecap="round" fill="none" stroke-opacity="0.72"/>
<path d="M180.1 404.6h0M155.9 388.3h0M108.0 458.7h0" stroke="#f45cf2" stroke-width="3.5" stroke-linecap="round" fill="none" stroke-opacity="0.72"/>
<path d="M175.7 412.4h0M114.2 404.2h0M166.0 425.4h0" stroke="#a48cf4" stroke-width="3.5" stroke-linecap="round" fill="none" stroke-opacity="0.72"/>
<path d="M169.6 392.9h0M119.4 428.8h0M107.2 436.5h0M164.5 425.7h0M188.0 376.5h0M128.4 389.5h0" stroke="#f66bad" stroke-width="3.5" stroke-linecap="round" fill="none" stroke-opacity="0.72"/>
<path d="M170.0 378.0h0M154.6 431.9h0" stroke="#38a9c5" stroke-width="3.5" stroke-linecap="round" fill="none" stroke-opacity="0.72"/>
<path d="M195.2 382.6h0M110.7 435.6h0M160.4 417.6h0M169.0 402.1h0M103.7 450.9h0M143.3 367.2h0M178.8 376.3h0M226.3 376.4h0M172.6 420.7h0M93.0 458.6h0M147.6 439.1h0M152.7 413.1h0M169.6 368.2h0M189.0 393.4h0M103.5 391.6h0" stroke="#36ada4" stroke-width="3.5" stroke-linecap="round" fill="none" stroke-opacity="0.72"/>
<path d="M158.8 448.4h0M142.7 385.7h0M105.8 488.5h0M178.6 424.6h0M149.5 420.1h0M136.8 394.3h0M175.2 381.6h0M133.6 436.3h0M193.6 385.6h0M151.3 450.1h0M148.5 384.3h0M186.6 368.3h0M172.7 402.4h0M159.6 451.7h0M99.9 389.9h0M148.2 441.0h0" stroke="#e68332" stroke-width="3.5" stroke-linecap="round" fill="none" stroke-opacity="0.72"/>
<path d="M109.5 430.5h0M179.9 396.0h0M219.9 360.9h0" stroke="#bb9832" stroke-width="3.5" stroke-linecap="round" fill="none" stroke-opacity="0.72"/>
<path d="M123.2 424.8h0M130.3 394.0h0M201.8 359.1h0" stroke="#a48cf4" stroke-width="3.5" stroke-linecap="round" fill="none" stroke-opacity="0.72"/>
<path d="M176.9 410.9h0M154.9 446.4h0M175.4 421.5h0M212.2 387.2h0M202.2 378.1h0M158.9 355.4h0M112.7 396.9h0M143.9 402.7h0M165.7 397.0h0M256.7 350.0h0" stroke="#34af8a" stroke-width="3.5" stroke-linecap="round" fill="none" stroke-opacity="0.72"/>
<path d="M139.9 430.5h0M142.0 456.6h0M191.7 413.3h0M177.2 391.0h0" stroke="#f77189" stroke-width="3.5" stroke-linecap="round" fill="none" stroke-opacity="0.72"/>
<path d="M167.5 396.5h0M130.1 430.8h0M170.8 397.7h0" stroke="#3ba3ec" stroke-width="3.5" stroke-linecap="round" fill="none" stroke-opacity="0.72"/>
<path d="M115.5 421.8h0M164.3 376.7h0" stroke="#f66bad" stroke-width="3.5" stroke-linecap="round" fill="none" stroke-opacity="0.72"/>
<path d="M128.9 422.0h0M172.3 390.7h0M182.5 415.2h0" stroke="#50b131" stroke-width="3.5" stroke-linecap="round" fill="none" stroke-opacity="0.72"/>
<path d="M160.5 406.6h0" stroke="#38a9c5" stroke-width="3.5" stroke-linecap="round" fill="none" stroke-opacity="0.72"/>
<path d="M181.9 364.4h0M177.8 408.8h0M216.9 393.9h0M148.3 401.8h0M151.7 397.3h0" stroke="#38a9c5" stroke-width="3.5" stroke-linecap="round" fill="none" stroke-opacity="0.72"/>
<path d="M181.4 359.6h0M180.8 421.3h0M155.7 378.2h0M143.0 438.0h0M124.6 472.8h0M155.1 400.4h0M155.8 416.4h0M171.8 444.3h0M130.7 454.3h0M180.9 385.6h0M215.4 358.3h0" stroke="#e68332" stroke-width="3.5" stroke-linecap="round" fill="none" stroke-opacity="0.72"/>
<path d="M198.5 402.3h0M169.8 381.7h0M157.0 425.4h0" stroke="#f66bad" stroke-width="3.5" stroke-linecap="round" fill="none" stroke-opacity="0.72"/>
<path d="M171.5 435.0h0M155.9 419.8h0M156.9 390.9h0M236.8 365.4h0M115.6 420.8h0" stroke="#f77189" stroke-width="3.5" stroke-linecap="round" fill="none" stroke-opacity="0.72"/>
<path d="M223.9 386.4h0M147.5 389.9h0M94.3 408.4h0M213.8 379.0h0M177.6 413.2h0" stroke="#97a431" stroke-width="3.5" stroke-linecap="round" fill="none" stroke-opacity="0.72"/>
<path d="M153.4 399.9h0M187.4 419.6h0M168.8 396.4h0M122.5 387.4h0M145.4 452.4h0" stroke="#50b131" stroke-width="3.5" stroke-linecap="round" fill="none" stroke-opacity="0.72"/>
<path d="M162.5 423.5h0M138.8 394.2h0M113.6 403.7h0M174.8 416.4h0M168.0 406.1h0M148.2 375.8h0" stroke="#3ba3ec" stroke-width="3.5" stroke-linecap="round" fill="none" stroke-opacity="0.72"/>
<path d="M177.6 372.6h0M142.9 429.1h0M106.8 402.1h0M199.8 404.8h0M128.7 463.1h0" stroke="#a48cf4" stroke-width="3.5" stroke-linecap="round" fill="none" stroke-opacity="0.72"/>
<path d="M180.2 412.7h0M98.4 478.9h0M136.2 412.5h0M186.9 395.1h0M170.7 409.0h0M170.1 429.2h0M182.2 397.0h0" stroke="#34af8a" stroke-width="3.5" stroke-linecap="round" fill="none" stroke-opacity="0.72"/>
<path d="M214.0 397.3h0M210.6 372.6h0M214.3 380.8h0M194.0 384.0h0M173.9 394.1h0M125.9 444.5h0M162.9 363.6h0" stroke="#36ada4" stroke-width="3.5" stroke-linecap="round" fill="none" stroke-opacity="0.72"/>
<path d="M142.0 416.0h0" stroke="#bb9832" stroke-width="3.5" stroke-linecap="round" fill="none" stroke-opacity="0.72"/>
<path d="M184.9 410.8h0M168.4 442.3h0M182.3 393.3h0M206.4 410.6h0M169.5 372.0h0M193.0 414.2h0M179.9 393.8h0M170.4 371.1h0M133.5 417.7h0M178.5 406.9h0M142.9 412.6h0M148.4 401.6h0M193.8 392.0h0" stroke="#f77189" stroke-width="3.5" stroke-linecap="round" fill="none" stroke-opacity="0.72"/>
<path d="M199.5 368.6h0M169.2 404.2h0M139.0 403.6h0M183.3 382.2h0M151.5 453.3h0M166.1 400.1h0M155.0 406.6h0" stroke="#34af8a" stroke-width="3.5" stroke-linecap="round" fill="none" stroke-opacity="0.72"/>
<path d="M140.5 457.4h0" stroke="#bb9832" stroke-width="3.5" stroke-linecap="round" fill="none" stroke-opacity="0.72"/>
<path d="M148.8 395.5h0M217.9 355.1h0M216.9 392.4h0M179.9 366.2h0M168.6 401.1h0M173.0 380.2h0M120.2 462.3h0M143.6 400.8h0M183.6 390.7h0M108.7 439.6h0M181.2 409.4h0M187.5 403.7h0M120.1 379.1h0" stroke="#e68332" stroke-width="3.5" stroke-linecap="round" fill="none" stroke-opacity="0.72"/>
<path d="M165.5 360.4h0M121.7 399.3h0M194.8 419.4h0M155.8 405.2h0" stroke="#3ba3ec" stroke-width="3.5" stroke-linecap="round" fill="none" stroke-opacity="0.72"/>
<path d="M154.6 416.7h0M179.0 402.2h0" stroke="#f66bad" stroke-width="3.5" stroke-linecap="round" fill="none" stroke-opacity="0.72"/>
<path d="M159.3 425.9h0M163.1 421.1h0M157.3 399.3h0M174.7 398.9h0M130.4 390.9h0M123.7 456.6h0M160.0 422.1h0M128.2 444.4h0" stroke="#36ada4" stroke-width="3.5" stroke-linecap="round" fill="none" stroke-opacity="0.72"/>
<path d="M218.1 387.8h0M203.0 405.4h0M148.8 446.9h0M145.6 394.1h0" stroke="#97a431" stroke-width="3.5" stroke-linecap="round" fill="none" stroke-opacity="0.72"/>
<path d="M132.5 403.5h0M158.6 421.2h0M158.6 442.5h0M203.1 345.6h0M136.1 434.1h0M162.2 403.4h0" stroke="#50b131" stroke-width="3.5" stroke-linecap="round" fill="none" stroke-opacity="0.72"/>
<path d="M172.0 411.2h0" stroke="#38a9c5" stroke-width="3.5" stroke-linecap="round" fill="none" stroke-opacity="0.72"/>
<path d="M205.0 354.0h0" stroke="#f45cf2" stroke-width="3.5" stroke-linecap="round" fill="none" stroke-opacity="0.72"/>
<path d="M171.6 438.1h0M239.3 365.9h0M155.6 411.8h0M191.5 395.9h0M131.1 444.8h0M140.9 446.7h0M196.3 417.2h0M190.3 376.7h0M159.7 398.0h0M202.7 391.6h0M187.1 379.7h0" stroke="#e68332" stroke-width="3.5" stroke-linecap="round" fill="none" stroke-opacity="0.72"/>
<path d="M180.1 426.4h0M103.3 478.2h0M206.7 352.2h0" stroke="#bb9832" stroke-width="3.5" stroke-linecap="round" fill="none" stroke-opacity="0.72"/>
<path d="M181.5 403.2h0" stroke="#38a9c5" stroke-width="3.5" stroke-linecap="round" fill="none" stroke-opacity="0.72"/>
<path d="M177.5 370.8h0M104.0 481.4h0M152.1 425.6h0M139.0 437.4h0M157.5 394.9h0M189.1 427.8h0M210.0 366.5h0M130.9 420.6h0" stroke="#36ada4" stroke-width="3.5" stroke-linecap="round" fill="none" stroke-opacity="0.72"/>
<path d="M213.5 393.9h0M129.0 438.5h0M166.6 399.7h0M175.8 392.2h0M197.3 423.3h0M220.3 349.9h0M141.1 434.9h0M152.4 408.2h0M186.4 396.4h0" stroke="#34af8a" stroke-width="3.5" stroke-linecap="round" fill="none" stroke-opacity="0.72"/>
<path d="M206.8 385.9h0M154.7 400.1h0M191.6 409.3h0M164.3 403.1h0" stroke="#f66bad" stroke-width="3.5" stroke-linecap="round" fill="none" stroke-opacity="0.72"/>
<path d="M156.5 434.5h0M185.9 392.0h0M131.0 407.8h0M167.4 425.4h0M196.2 403.6h0M162.3 442.8h0M183.1 349.1h0M142.6 428.1h0" stroke="#f77189" stroke-width="3.5" stroke-linecap="round" fill="none" stroke-opacity="0.72"/>
<path d="M210.0 321.4h0M157.2 425.8h0M133.7 385.2h0" stroke="#3ba3ec" stroke-width="3.5" stroke-linecap="round" fill="none" stroke-opacity="0.72"/>
<path d="M180.0 374.1h0M212.8 394.5h0M141.2 388.3h0M169.6 368.5h0M113.0 397.1h0M184.4 328.9h0" stroke="#97a431" stroke-width="3.5" stroke-linecap="round" fill="none" stroke-opacity="0.72"/>
<path d="M194.1 392.2h0" stroke="#a48cf4" stroke-width="3.5" stroke-linecap="round" fill="none" stroke-opacity="0.72"/>
<path d="M164.7 379.9h0M130.1 476.4h0M180.7 402.3h0M159.7 437.8h0" stroke="#50b131" stroke-width="3.5" stroke-linecap="round" fill="none" stroke-opacity="0.72"/>
<path d="M128.4 424.4h0M159.1 410.7h0" stroke="#f45cf2" stroke-width="3.5" stroke-linecap="round" fill="none" stroke-opacity="0.72"/>
<path d="M133.5 463.8h0M225.0 362.0h0M211.2 390.0h0M154.2 413.3h0" stroke="#f66bad" stroke-width="3.5" stroke-linecap="round" fill="none" stroke-opacity="0.72"/>
<path d="M161.0 425.4h0M208.2 393.1h0M214.1 365.8h0M154.0 420.8h0M137.0 448.8h0M139.0 414.2h0" stroke="#97a431" stroke-width="3.5" stroke-linecap="round" fill="none" stroke-opacity="0.72"/>
<path d="M122.6 447.2h0M153.3 458.1h0M167.8 405.2h0M163.9 411.1h0M181.7 356.5h0M184.7 379.5h0M165.2 384.2h0M148.2 430.9h0M172.4 406.3h0" stroke="#f77189" stroke-width="3.5" stroke-linecap="round" fill="none" stroke-opacity="0.72"/>
<path d="M186.2 417.6h0M212.7 364.4h0M200.3 363.7h0M183.2 397.8h0M185.0 393.1h0M161.6 386.2h0M190.8 368.8h0" stroke="#34af8a" stroke-width="3.5" stroke-linecap="round" fill="none" stroke-opacity="0.72"/>
<path d="M179.4 392.9h0M146.5 435.2h0M196.8 401.5h0M191.8 369.2h0M188.0 393.0h0M182.2 391.6h0M182.3 368.8h0M234.9 368.7h0M145.7 439.4h0M165.9 398.6h0M108.2 422.7h0M177.5 388.9h0" stroke="#e68332" stroke-width="3.5" stroke-linecap="round" fill="none" stroke-opacity="0.72"/>
<path d="M161.0 418.4h0M162.5 414.9h0M178.6 382.8h0M171.2 443.4h0M204.4 400.4h0M147.8 364.0h0M144.7 356.5h0M169.2 424.1h0" stroke="#50b131" stroke-width="3.5" stroke-linecap="round" fill="none" stroke-opacity="0.72"/>
<path d="M78.2 430.8h0M140.6 452.6h0" stroke="#f45cf2" stroke-width="3.5" stroke-linecap="round" fill="none" stroke-opacity="0.72"/>
<path d="M163.7 377.5h0M96.3 415.6h0M120.5 402.2h0M179.9 375.2h0M170.4 385.6h0" stroke="#38a9c5" stroke-width="3.5" stroke-linecap="round" fill="none" stroke-opacity="0.72"/>
<path d="M123.9 417.1h0M240.5 354.7h0M222.4 352.5h0M179.8 413.2h0" stroke="#36ada4" stroke-width="3.5" stroke-linecap="round" fill="none" stroke-opacity="0.72"/>
<path d="M196.6 383.5h0" stroke="#bb9832" stroke-width="3.5" stroke-linecap="round" fill="none" stroke-opacity="0.72"/>
<path d="M220.0 376.7h0M118.6 376.5h0" stroke="#a48cf4" stroke-width="3.5" stroke-linecap="round" fill="none" stroke-opacity="0.72"/>
<path d="M198.2 393.1h0M205.1 384.2h0M190.6 417.3h0M202.8 359.4h0M141.6 435.9h0" stroke="#3ba3ec" stroke-width="3.5" stroke-linecap="round" fill="none" stroke-opacity="0.72"/>
<path d="M146.8 402.4h0M219.2 360.7h0M182.4 399.9h0M193.1 413.2h0M172.3 412.5h0M204.0 400.5h0" stroke="#97a431" stroke-width="3.5" stroke-linecap="round" fill="none" stroke-opacity="0.72"/>
<path d="M236.9 370.6h0M172.5 396.2h0M177.5 427.5h0M149.7 425.4h0M136.8 416.9h0M142.9 387.5h0M190.1 398.3h0M203.8 381.6h0M190.1 389.5h0M178.7 431.6h0M196.0 389.3h0M147.3 409.5h0" stroke="#f77189" stroke-width="3.5" stroke-linecap="round" fill="none" stroke-opacity="0.72"/>
<path d="M182.1 406.6h0M189.2 384.6h0M146.2 426.8h0M150.5 419.7h0M230.1 359.8h0" stroke="#50b131" stroke-width="3.5" stroke-linecap="round" fill="none" stroke-opacity="0.72"/>
<path d="M160.6 447.8h0M152.5 427.6h0M204.7 342.1h0M123.2 470.9h0M126.1 476.5h0M142.0 377.6h0" stroke="#36ada4" stroke-width="3.5" stroke-linecap="round" fill="none" stroke-opacity="0.72"/>
<path d="M150.2 412.4h0M205.7 392.9h0M145.8 435.9h0" stroke="#38a9c5" stroke-width="3.5" stroke-linecap="round" fill="none" stroke-opacity="0.72"/>
<path d="M175.5 401.5h0M159.5 422.1h0M258.3 348.5h0M229.8 350.7h0M215.6 396.4h0M181.1 379.6h0" stroke="#34af8a" stroke-width="3.5" stroke-linecap="round" fill="none" stroke-opacity="0.72"/>
<path d="M121.4 433.7h0M176.5 393.2h0" stroke="#bb9832" stroke-width="3.5" stroke-linecap="round" fill="none" stroke-opacity="0.72"/>
<path d="M124.0 432.5h0M212.9 402.1h0M196.6 403.2h0M183.4 401.9h0M164.2 439.7h0M172.6 379.3h0M121.7 370.4h0M113.6 443.0h0M219.6 332.3h0M158.0 410.6h0M175.6 388.8h0" stroke="#e68332" stroke-width="3.5" stroke-linecap="round" fill="none" stroke-opacity="0.72"/>
<path d="M228.9 385.6h0M178.6 400.2h0M135.3 431.0h0M205.9 386.8h0" stroke="#f66bad" stroke-width="3.5" stroke-linecap="round" fill="none" stroke-opacity="0.72"/>
<path d="M160.6 373.4h0M172.5 425.6h0M167.6 372.6h0M197.1 413.1h0M165.3 409.9h0M139.8 453.8h0" stroke="#34af8a" stroke-width="3.5" stroke-linecap="round" fill="none" stroke-opacity="0.72"/>
<path d="M207.1 375.6h0M208.4 384.6h0M191.9 370.4h0" stroke="#36ada4" stroke-width="3.5" stroke-linecap="round" fill="none" stroke-opacity="0.72"/>
<path d="M227.5 373.1h0M214.6 370.9h0M194.8 359.7h0" stroke="#50b131" stroke-width="3.5" stroke-linecap="round" fill="none" stroke-opacity="0.72"/>
<path d="M130.7 420.3h0M202.6 377.2h0M197.0 390.1h0M217.5 333.1h0M165.1 409.9h0M169.2 416.8h0M193.7 415.7h0M203.6 390.6h0M157.5 431.4h0" stroke="#f77189" stroke-width="3.5" stroke-linecap="round" fill="none" stroke-opacity="0.72"/>
<path d="M204.2 380.5h0M132.1 420.7h0M167.8 436.2h0M215.3 382.2h0M176.4 410.6h0M194.9 395.8h0M177.3 379.1h0M158.4 410.5h0M218.7 389.6h0M194.1 385.0h0M155.3 414.5h0M153.4 403.9h0M128.6 411.5h0M153.3 448.6h0M109.0 376.5h0M225.7 368.6h0M185.7 419.7h0M157.3 380.0h0M169.6 390.4h0M186.3 360.8h0" stroke="#e68332" stroke-width="3.5" stroke-linecap="round" fill="none" stroke-opacity="0.72"/>
<path d="M139.7 449.9h0M211.1 395.5h0M202.1 354.7h0M183.3 354.0h0" stroke="#f66bad" stroke-width="3.5" stroke-linecap="round" fill="none" stroke-opacity="0.72"/>
<path d="M179.7 374.9h0M154.9 439.2h0M156.8 394.3h0M183.7 372.4h0M191.4 384.5h0" stroke="#97a431" stroke-width="3.5" stroke-linecap="round" fill="none" stroke-opacity="0.72"/>
<path d="M220.8 362.4h0M168.1 396.6h0" stroke="#bb9832" stroke-width="3.5" stroke-linecap="round" fill="none" stroke-opacity="0.72"/>
<path d="M190.7 377.5h0M199.8 391.4h0M172.1 412.3h0M179.7 373.9h0" stroke="#3ba3ec" stroke-width="3.5" stroke-linecap="round" fill="none" stroke-opacity="0.72"/>
<path d="M171.4 403.7h0M156.2 421.7h0" stroke="#a48cf4" stroke-width="3.5" stroke-linecap="round" fill="none" stroke-opacity="0.72"/>
<path d="M198.4 369.3h0M158.4 427.3h0" stroke="#38a9c5" stroke-width="3.5" stroke-linecap="round" fill="none" stroke-opacity="0.72"/>
<path d="M186.5 404.3h0M215.7 366.9h0M137.8 391.1h0M208.4 408.4h0" stroke="#f66bad" stroke-width="3.5" stroke-linecap="round" fill="none" stroke-opacity="0.72"/>
<path d="M250.7 325.1h0M198.4 406.8h0M157.9 412.4h0M107.9 422.2h0M153.2 446.6h0M154.0 402.7h0M179.9 436.7h0M137.6 397.0h0M177.1 415.8h0M148.0 441.4h0M173.7 376.3h0M150.7 380.5h0M200.4 407.5h0" stroke="#50b131" stroke-width="3.5" stroke-linecap="round" fill="none" stroke-opacity="0.72"/>
<path d="M180.1 422.1h0M192.3 406.3h0M235.3 357.4h0" stroke="#97a431" stroke-width="3.5" stroke-linecap="round" fill="none" stroke-opacity="0.72"/>
<path d="M164.4 382.5h0M159.8 396.8h0" stroke="#3ba3ec" stroke-width="3.5" stroke-linecap="round" fill="none" stroke-opacity="0.72"/>
<path d="M213.1 364.7h0M135.2 426.8h0M153.6 363.6h0M113.1 447.2h0M204.8 364.2h0M169.8 435.8h0M160.4 449.3h0M209.5 381.7h0" stroke="#34af8a" stroke-width="3.5" stroke-linecap="round" fill="none" stroke-opacity="0.72"/>
<path d="M159.3 388.5h0M212.7 383.3h0M172.7 423.3h0M157.1 404.3h0" stroke="#38a9c5" stroke-width="3.5" stroke-linecap="round" fill="none" stroke-opacity="0.72"/>
<path d="M121.5 442.9h0M147.9 406.9h0M223.0 394.5h0M187.3 393.1h0M198.3 396.7h0M124.7 418.5h0M164.5 421.6h0" stroke="#e68332" stroke-width="3.5" stroke-linecap="round" fill="none" stroke-opacity="0.72"/>
<path d="M149.9 449.4h0M196.7 329.7h0M181.6 372.1h0M183.0 435.0h0" stroke="#bb9832" stroke-width="3.5" stroke-linecap="round" fill="none" stroke-opacity="0.72"/>
<path d="M172.6 405.3h0M157.0 429.5h0" stroke="#a48cf4" stroke-width="3.5" stroke-linecap="round" fill="none" stroke-opacity="0.72"/>
<path d="M212.9 344.3h0M153.7 391.6h0M165.9 368.7h0M136.7 464.6h0M134.3 400.2h0M167.1 390.1h0M147.6 381.7h0M101.8 401.8h0M173.0 403.8h0" stroke="#f77189" stroke-width="3.5" stroke-linecap="round" fill="none" stroke-opacity="0.72"/>
<path d="M155.7 391.6h0M137.4 438.7h0M147.9 368.8h0M161.0 384.8h0" stroke="#36ada4" stroke-width="3.5" stroke-linecap="round" fill="none" stroke-opacity="0.72"/>
<path d="M160.0 406.7h0M149.7 433.4h0M66.3 457.1h0M80.8 444.0h0M87.4 473.2h0M86.1 456.8h0" stroke="#f77189" stroke-width="3.5" stroke-linecap="round" fill="none" stroke-opacity="0.72"/>
<path d="M207.7 374.8h0M138.2 421.9h0M46.9 456.1h0" stroke="#34af8a" stroke-width="3.5" stroke-linecap="round" fill="none" stroke-opacity="0.72"/>
<path d="M175.7 384.4h0M216.8 365.2h0M168.7 374.5h0M81.7 459.4h0M54.8 440.5h0M76.0 421.2h0M84.2 350.9h0" stroke="#e68332" stroke-width="3.5" stroke-linecap="round" fill="none" stroke-opacity="0.72"/>
<path d="M197.9 398.0h0M94.4 466.0h0" stroke="#36ada4" stroke-width="3.5" stroke-linecap="round" fill="none" stroke-opacity="0.72"/>
<path d="M148.3 446.2h0M50.2 451.1h0M105.2 506.8h0M185.5 506.8h0" stroke="#50b131" stroke-width="3.5" stroke-linecap="round" fill="none" stroke-opacity="0.72"/>
<path d="M131.0 452.0h0M86.1 362.0h0" stroke="#3ba3ec" stroke-width="3.5" stroke-linecap="round" fill="none" stroke-opacity="0.72"/>
<path d="M59.5 453.2h0" stroke="#f66bad" stroke-width="3.5" stroke-linecap="round" fill="none" stroke-opacity="0.72"/>
<path d="M73.5 422.0h0M100.8 448.9h0" stroke="#38a9c5" stroke-width="3.5" stroke-linecap="round" fill="none" stroke-opacity="0.72"/>
<path d="M102.2 448.5h0M80.5 446.1h0M89.3 440.4h0" stroke="#97a431" stroke-width="3.5" stroke-linecap="round" fill="none" stroke-opacity="0.72"/>
<path d="M81.3 461.4h0M70.4 465.3h0" stroke="#a48cf4" stroke-width="3.5" stroke-linecap="round" fill="none" stroke-opacity="0.72"/>
<path d="M186.2 404.1h0M198.3 402.7h0M183.8 394.9h0M187.6 402.0h0M207.0 405.0h0M163.5 402.6h0M135.0 395.3h0M175.4 398.2h0M185.1 409.1h0M187.9 396.3h0M181.6 416.5h0M160.6 399.9h0M184.2 399.2h0M177.6 401.0h0M194.4 402.8h0M162.6 405.4h0M175.2 410.1h0M180.4 406.7h0M198.1 405.1h0M187.5 404.1h0M179.8 413.0h0M191.2 395.0h0M172.1 396.0h0M187.1 401.5h0M184.7 395.6h0M172.5 405.2h0M193.5 400.3h0M187.5 401.8h0M170.3 408.5h0M177.2 404.0h0M126.5 402.9h0M179.5 408.2h0M181.2 400.2h0M149.2 401.3h0M171.2 406.9h0M171.6 396.8h0M207.3 398.3h0M147.1 404.1h0M188.5 399.3h0M164.7 400.6h0M163.0 408.3h0M191.4 401.7h0M193.4 403.9h0M150.6 400.0h0M154.4 406.7h0M194.7 409.6h0M175.5 407.9h0M199.8 409.1h0M186.9 401.2h0M205.1 398.9h0M163.5 402.7h0M196.3 395.5h0M185.3 396.8h0M185.1 406.2h0M191.5 397.8h0M196.1 395.7h0M138.6 398.5h0M192.3 399.5h0M176.7 404.1h0M206.4 401.8h0M183.0 407.4h0M180.2 398.0h0M190.7 403.2h0M173.1 409.9h0M207.5 398.4h0M195.1 391.9h0M179.2 395.4h0M160.7 389.5h0M205.5 395.4h0M189.9 393.6h0M207.9 401.9h0M149.7 403.0h0M197.3 401.8h0M179.0 401.7h0M173.6 403.0h0M192.9 402.9h0M176.1 403.0h0M182.4 408.9h0M158.4 409.8h0M190.3 403.4h0M169.1 390.9h0M189.1 395.4h0M202.4 402.2h0M198.8 402.0h0M197.7 396.9h0M172.1 392.9h0M165.3 414.1h0M201.0 400.3h0M187.2 408.8h0M154.6 392.0h0M195.3 399.4h0M152.6 412.8h0M187.3 403.9h0M164.4 395.6h0M200.3 393.8h0M189.3 400.6h0M202.3 402.7h0M164.0 390.4h0M187.2 406.7h0M175.8 401.0h0M161.5 403.8h0M172.1 391.4h0M172.3 413.5h0M168.1 401.9h0M197.1 397.7h0M174.9 411.5h0M195.8 402.3h0M179.6 403.7h0M168.2 404.6h0M156.7 407.5h0M159.3 389.3h0M128.0 401.5h0M170.3 400.0h0M195.2 419.0h0M197.6 408.6h0M200.8 409.2h0M165.7 406.3h0M152.9 404.4h0M186.7 394.1h0M176.6 404.7h0M193.9 401.5h0M182.0 399.3h0M189.5 382.0h0M166.2 405.3h0M191.7 404.1h0M162.7 390.2h0M178.6 405.7h0M178.4 400.6h0M164.8 405.5h0M165.8 397.7h0M188.6 409.9h0M186.0 413.2h0M179.8 395.7h0M168.5 394.2h0M178.2 393.2h0M167.8 407.3h0M185.5 401.6h0M180.9 403.7h0M192.9 394.9h0M172.0 395.0h0M151.9 415.9h0M171.5 401.5h0M168.9 403.9h0M173.8 408.2h0M149.6 404.7h0M187.9 401.8h0M153.4 401.8h0M197.4 406.6h0M190.6 410.0h0M179.7 395.3h0M188.2 404.2h0M188.7 406.4h0M178.2 401.6h0M168.0 394.5h0M183.1 403.2h0M151.4 409.2h0M144.4 398.1h0M177.3 413.9h0M159.4 412.1h0M177.5 403.3h0M165.6 404.4h0M161.7 398.5h0M187.5 391.3h0M200.2 396.5h0M140.1 398.8h0M203.7 396.2h0M180.8 399.5h0M196.1 392.3h0M202.6 402.2h0M165.1 397.1h0M170.0 394.8h0M207.7 400.4h0M185.5 397.8h0M169.3 403.2h0M208.4 400.9h0M173.3 411.6h0M208.6 402.8h0M211.0 402.8h0M192.4 404.1h0M188.0 410.4h0M174.9 407.0h0M176.6 402.2h0M183.0 408.8h0M187.6 407.0h0M183.4 398.1h0M173.3 401.8h0M177.1 411.7h0M200.0 408.7h0M174.4 405.5h0M201.9 407.8h0M205.6 401.3h0M166.5 397.9h0M168.8 401.8h0M181.8 397.0h0M188.9 401.5h0M172.8 404.5h0M167.3 406.5h0M149.8 397.1h0M178.8 402.2h0M197.8 399.2h0M190.9 401.1h0M176.8 407.1h0M171.9 397.0h0M196.6 399.1h0M191.0 405.6h0M178.5 412.3h0M210.7 399.2h0M190.6 394.5h0M187.2 400.5h0M184.7 399.3h0M203.5 401.5h0M200.5 409.8h0M197.5 396.5h0M189.2 402.3h0M197.7 392.6h0M170.0 393.7h0M176.4 403.6h0M202.3 398.2h0M181.2 406.7h0M199.1 407.8h0M196.4 410.6h0M160.5 402.2h0M205.6 395.2h0M202.2 398.0h0M183.7 408.9h0M197.9 397.1h0M181.1 400.4h0M207.8 401.0h0M162.3 389.7h0M186.9 398.9h0M174.4 398.9h0M176.7 397.3h0M207.4 405.7h0M183.4 412.5h0M174.7 404.2h0M200.6 403.1h0M166.2 413.6h0M169.6 407.7h0M167.0 400.2h0M188.9 405.7h0M185.2 407.3h0M160.6 403.5h0M172.1 406.1h0M186.0 403.4h0M186.4 398.7h0M199.4 400.0h0M183.4 400.8h0M187.6 398.3h0M175.9 397.7h0M180.9 405.1h0M210.4 399.1h0M193.0 397.9h0M197.1 399.0h0M173.7 393.0h0M151.2 398.8h0M167.7 403.5h0M179.0 397.4h0M204.4 397.1h0M188.4 403.9h0M177.5 411.1h0M186.6 404.2h0M192.0 398.9h0M191.3 406.4h0M202.8 404.5h0M190.3 400.2h0M169.2 408.9h0M158.2 394.6h0M166.2 403.4h0M201.4 396.8h0M173.8 404.2h0M189.9 394.0h0M184.6 397.8h0M188.2 406.1h0M193.9 404.0h0M174.4 402.4h0M185.5 406.3h0M182.2 393.8h0M136.7 397.4h0M178.5 393.7h0M198.2 399.8h0M173.8 396.1h0M186.9 385.6h0M196.0 399.3h0M175.7 403.4h0M196.2 406.1h0M180.0 407.6h0M160.5 404.8h0M182.0 402.5h0M147.2 409.1h0M176.9 410.6h0M160.3 406.1h0M204.2 405.9h0M150.4 400.2h0M186.4 398.4h0M198.0 397.4h0M195.3 410.1h0M160.3 403.2h0M154.5 399.4h0M202.2 408.9h0M176.9 401.8h0M175.2 408.6h0M187.8 404.1h0M178.2 387.5h0M180.5 400.5h0M174.6 411.1h0M177.8 405.5h0M137.9 401.1h0M172.0 399.7h0M189.3 406.4h0M169.1 400.4h0M175.6 398.6h0M199.7 402.1h0M168.5 411.8h0M197.5 411.1h0M199.6 405.0h0M198.7 400.1h0M195.8 404.5h0M166.7 394.9h0M163.1 391.3h0M201.6 406.4h0M186.8 404.5h0M206.6 401.9h0M195.4 404.3h0M188.0 399.1h0M182.2 400.8h0M187.2 405.1h0M179.0 397.0h0M183.2 402.6h0M194.8 407.0h0M191.8 413.5h0M189.3 406.8h0M158.2 397.1h0M157.8 404.2h0M167.3 396.8h0M148.5 408.9h0M162.7 406.1h0M170.8 411.5h0M156.6 403.4h0M173.1 413.6h0M171.1 406.6h0M154.0 397.8h0M181.7 394.3h0M160.3 393.1h0M184.6 408.0h0M158.5 399.6h0M171.9 403.9h0M195.8 403.8h0M165.2 398.1h0M194.3 407.0h0M202.1 395.5h0M159.3 394.9h0M190.1 399.3h0M153.8 403.7h0M194.9 400.1h0M193.2 398.6h0M179.2 401.2h0M178.6 398.5h0M195.6 396.5h0M181.0 390.9h0M205.1 397.5h0M170.0 413.4h0M196.6 401.6h0M199.9 399.4h0M161.2 401.6h0M162.0 403.5h0M203.9 404.8h0M196.7 406.2h0M200.3 401.4h0M182.8 403.5h0M208.4 406.0h0M188.8 403.4h0M173.9 402.2h0M179.4 400.1h0M198.0 404.8h0M172.9 410.4h0M178.7 401.3h0M180.4 401.6h0M198.4 409.6h0M203.3 410.9h0M182.0 412.6h0M183.6 407.7h0M172.9 405.2h0M165.3 415.0h0M199.8 409.1h0M204.2 403.9h0M175.5 407.2h0M188.4 393.7h0M159.9 399.1h0M169.6 405.1h0M198.4 402.0h0M147.3 399.4h0M195.9 407.0h0M195.2 413.8h0M207.8 395.8h0M157.8 403.7h0M205.1 405.1h0M206.0 391.9h0M168.1 399.5h0M195.2 405.3h0M187.4 400.4h0M159.5 403.6h0M194.5 410.1h0M183.0 387.0h0M158.0 409.0h0M191.2 405.6h0M183.0 402.7h0M196.2 391.5h0M192.7 393.2h0M175.8 401.5h0M164.4 400.5h0M206.1 387.3h0M209.4 391.5h0M169.4 405.2h0M198.6 402.0h0M190.7 405.2h0M185.1 405.4h0M198.3 401.1h0M183.0 393.4h0M173.7 416.0h0M190.8 412.5h0M151.5 413.4h0M191.5 405.6h0M168.5 402.5h0M133.8 414.2h0M179.7 416.8h0M194.7 401.2h0M171.8 401.9h0M186.1 408.1h0M176.7 404.2h0M186.0 404.6h0M143.2 398.9h0M192.1 397.2h0M162.4 417.0h0M183.5 408.9h0M183.0 398.1h0M179.1 400.1h0M197.6 406.6h0M165.9 404.3h0M176.1 404.9h0M194.9 409.7h0M191.6 411.0h0M204.2 404.8h0M175.7 406.3h0M162.0 399.3h0M180.7 407.0h0M168.7 415.2h0M192.4 401.4h0M160.6 408.6h0M183.2 402.5h0M183.1 403.9h0M204.4 409.8h0M192.2 410.8h0M181.4 399.0h0M168.7 410.7h0M185.3 398.9h0M190.5 407.3h0M183.9 407.3h0M187.5 404.8h0M174.6 404.9h0M208.6 403.4h0M183.0 405.7h0M204.8 405.8h0M184.1 400.9h0M170.7 401.8h0M190.0 410.9h0M197.5 410.0h0M162.9 409.8h0M205.8 402.5h0M190.4 406.1h0M202.3 403.0h0M171.9 402.4h0M190.4 398.4h0M197.1 401.3h0M176.1 404.0h0M169.5 401.8h0M196.3 404.4h0M151.0 402.8h0M179.1 400.0h0M152.7 393.3h0M179.6 399.5h0M158.7 400.0h0M182.5 404.5h0M163.4 406.5h0M173.8 408.9h0M163.3 404.8h0M209.6 398.3h0M182.0 397.8h0M186.3 403.0h0M176.9 409.2h0M184.7 401.3h0M172.4 401.3h0M184.7 403.4h0M159.0 397.6h0M203.9 395.9h0M180.2 395.2h0M176.3 399.5h0M193.9 390.9h0M190.0 402.8h0M204.0 403.1h0M167.2 402.7h0M171.8 409.0h0M163.1 401.0h0M142.8 399.1h0M174.1 405.0h0M156.6 405.5h0M187.3 415.5h0M140.9 393.0h0M190.2 406.6h0M195.7 401.7h0M157.7 396.8h0M196.7 404.0h0M177.8 398.4h0M189.2 398.9h0M175.2 404.7h0M128.2 397.6h0M160.9 395.5h0M210.9 401.5h0M190.5 398.1h0M173.6 400.0h0M180.7 396.7h0M183.3 401.9h0M191.5 404.7h0M187.9 408.1h0M176.5 404.1h0M202.8 395.9h0M196.5 397.2h0M170.2 405.6h0M180.0 401.9h0M165.5 408.6h0M184.2 406.1h0M153.7 408.1h0M190.1 412.7h0M193.1 408.8h0M178.8 407.7h0M163.2 399.0h0M147.3 404.2h0M146.7 407.3h0M164.5 399.3h0M166.5 402.8h0M195.1 411.8h0M160.6 398.4h0M169.9 404.1h0M169.3 403.1h0M195.9 404.0h0M179.2 406.0h0M188.5 401.5h0M194.8 403.3h0M185.4 398.6h0M175.8 400.5h0M186.2 411.5h0M200.9 402.7h0M180.5 408.9h0M200.2 410.9h0M174.6 396.5h0M188.4 408.8h0M173.9 399.6h0M188.8 397.5h0M197.2 392.0h0M180.1 401.2h0M200.4 401.7h0M133.8 399.9h0M181.2 395.7h0M182.6 401.1h0M145.8 399.1h0M176.8 388.3h0M162.0 396.0h0M171.5 402.0h0M177.1 395.1h0M166.7 400.5h0M159.7 400.6h0M200.4 410.5h0M202.4 401.5h0M199.6 401.9h0M151.6 395.6h0M186.0 394.9h0M185.2 410.8h0M204.8 405.2h0M172.8 405.4h0M191.9 401.1h0M164.9 398.0h0M179.0 413.9h0M166.2 399.7h0M194.5 400.3h0M167.4 400.5h0M177.9 396.0h0M192.6 409.6h0M180.9 408.8h0M135.0 404.3h0M177.3 399.2h0M181.7 398.6h0M182.6 406.8h0M180.2 403.5h0M200.3 410.9h0M185.8 395.4h0M180.7 397.7h0M173.2 409.6h0M200.2 403.5h0M170.7 405.1h0M187.0 399.2h0M204.9 401.9h0M220.4 385.7h0M216.5 389.2h0M210.0 396.7h0M200.5 400.4h0M194.8 413.9h0M215.6 392.1h0M222.2 386.5h0M212.2 393.9h0M225.4 383.5h0M219.5 382.1h0M207.5 395.7h0M218.8 384.6h0M213.2 394.8h0M197.0 407.7h0M218.1 389.5h0M203.8 398.8h0M216.6 391.4h0M199.1 409.8h0M204.1 405.4h0M212.4 393.9h0M218.9 386.4h0M205.5 402.1h0M217.9 391.3h0M213.0 387.6h0M219.5 387.9h0M221.0 383.1h0M223.1 386.0h0M218.7 391.1h0M214.8 389.0h0M199.5 407.1h0M225.7 382.9h0M201.1 407.4h0M206.9 400.0h0M207.0 400.6h0M216.0 387.1h0M204.1 401.4h0M223.6 381.6h0M227.7 380.0h0M221.0 392.2h0M203.3 401.7h0M204.3 399.5h0M207.1 401.0h0M211.8 393.2h0M199.4 409.5h0M197.7 404.0h0M201.7 403.3h0M209.4 389.4h0M223.7 380.3h0M204.8 403.3h0M219.9 389.1h0M205.0 403.8h0M211.8 391.3h0M198.0 411.4h0M222.8 384.0h0M203.9 403.2h0M203.3 405.1h0M214.5 391.9h0M222.4 385.1h0M210.2 392.4h0M200.4 404.5h0M216.6 385.0h0M210.5 393.3h0M204.5 403.1h0M220.7 386.5h0M197.6 412.4h0M219.3 388.3h0M229.2 383.0h0M206.9 401.7h0M225.4 381.2h0M227.4 374.6h0M228.1 381.2h0M225.7 363.0h0M225.7 387.1h0M228.0 388.3h0M229.7 387.0h0M227.4 390.2h0M232.2 387.6h0M225.0 316.3h0M230.4 371.5h0M228.0 353.4h0M229.4 365.9h0M232.3 368.1h0M227.2 374.3h0M225.8 392.9h0M226.9 346.5h0M225.3 383.8h0M220.9 388.4h0M222.3 377.6h0M227.1 384.7h0M223.5 372.3h0M228.7 391.1h0M226.6 389.5h0M226.9 373.1h0M232.9 364.5h0M225.6 392.0h0M230.1 384.3h0M228.9 334.2h0M229.0 379.3h0M223.4 391.9h0M224.5 392.3h0M225.3 376.0h0M223.3 374.4h0M223.2 391.4h0M226.8 359.1h0M228.5 376.5h0M228.6 391.9h0M232.4 387.6h0M224.8 384.4h0M226.4 385.3h0M223.0 393.1h0M228.4 386.5h0M227.5 390.9h0M227.7 363.2h0M229.9 390.7h0M224.1 365.7h0M221.3 366.8h0M233.8 373.6h0M223.5 381.5h0M224.9 346.6h0M222.7 392.9h0M224.7 392.6h0M221.5 393.3h0M226.8 388.2h0M225.8 363.0h0M223.5 366.5h0M224.0 392.6h0M229.1 393.3h0M226.4 385.7h0M230.7 388.3h0M231.1 388.9h0M229.0 390.1h0M231.1 384.4h0M223.9 374.0h0M223.6 378.7h0M226.6 369.0h0M227.1 392.1h0M220.8 384.9h0M223.8 389.7h0M225.4 393.0h0M225.3 385.0h0M232.8 379.0h0M230.9 356.8h0M224.4 377.1h0M224.9 388.1h0M226.3 362.4h0M226.6 351.3h0M220.3 380.4h0M224.1 391.6h0M224.4 382.1h0M220.3 393.3h0M231.1 388.5h0M227.6 382.5h0M227.2 375.0h0M232.5 327.7h0M233.6 390.1h0M223.7 371.0h0M229.7 357.8h0M226.2 349.9h0M226.0 391.9h0M222.0 382.9h0M222.1 380.4h0M232.3 381.8h0M224.9 373.3h0M225.3 390.9h0M228.6 367.6h0M227.9 339.5h0M228.2 388.0h0M226.9 353.9h0M230.0 385.4h0M226.8 387.2h0M229.4 373.2h0M224.7 391.8h0M230.9 390.7h0M227.9 386.6h0M224.9 384.5h0M225.1 392.0h0M227.0 387.3h0M231.3 384.5h0M223.0 390.9h0M228.2 383.6h0M224.2 381.2h0M226.9 368.2h0M229.6 390.6h0M220.1 374.8h0M222.1 390.9h0M228.3 339.7h0M223.9 392.2h0M226.1 387.1h0M227.3 374.6h0M88.1 410.8h0M110.1 395.8h0M102.7 395.6h0M120.3 395.0h0M110.5 398.8h0M137.8 404.2h0M101.8 407.3h0M140.1 406.2h0M99.1 406.2h0M139.0 395.4h0M89.5 391.6h0M137.8 410.3h0M91.0 404.3h0M76.5 403.7h0M117.5 404.6h0M98.0 396.5h0M138.3 394.7h0M78.2 398.7h0M103.6 405.0h0M124.7 399.8h0M136.1 407.4h0M95.5 408.3h0M128.8 400.1h0M121.2 397.8h0M138.4 404.3h0M89.1 399.5h0M128.9 397.1h0M132.7 393.6h0M112.6 402.4h0M98.4 404.4h0M106.8 401.2h0M93.1 398.2h0M121.2 406.0h0M95.1 401.5h0M123.5 400.1h0M121.4 408.9h0M114.2 398.6h0M92.1 408.1h0M94.4 397.6h0M87.8 409.1h0M226.1 317.0h0M232.9 312.5h0M226.9 312.6h0M226.5 336.6h0M231.4 331.0h0M226.1 322.8h0" stroke="#7a7a7a" stroke-width="2.6" stroke-linecap="round" fill="none" stroke-opacity="0.9"/>
<line x1="229.50" x2="229.50" y1="292.6" y2="514.2" stroke="#999999" stroke-width="1.1" stroke-dasharray="2.9 1.9"/>
<line x1="37.5" x2="267.8" y1="402.60" y2="402.60" stroke="#999999" stroke-width="1.1" stroke-dasharray="2.9 1.9"/>
<text x="76.50" y="527.60" font-size="9.4" text-anchor="middle" font-weight="normal" fill="#262626">−8</text>
<text x="114.75" y="527.60" font-size="9.4" text-anchor="middle" font-weight="normal" fill="#262626">−6</text>
<text x="153.00" y="527.60" font-size="9.4" text-anchor="middle" font-weight="normal" fill="#262626">−4</text>
<text x="191.25" y="527.60" font-size="9.4" text-anchor="middle" font-weight="normal" fill="#262626">−2</text>
<text x="229.50" y="527.60" font-size="9.4" text-anchor="middle" font-weight="normal" fill="#262626">0</text>
<text x="31.20" y="332.30" font-size="9.4" text-anchor="end" font-weight="normal" fill="#262626">4</text>
<text x="31.20" y="369.20" font-size="9.4" text-anchor="end" font-weight="normal" fill="#262626">2</text>
<text x="31.20" y="406.10" font-size="9.4" text-anchor="end" font-weight="normal" fill="#262626">0</text>
<text x="31.20" y="443.00" font-size="9.4" text-anchor="end" font-weight="normal" fill="#262626">−2</text>
<text x="31.20" y="479.90" font-size="9.4" text-anchor="end" font-weight="normal" fill="#262626">−4</text>
<text x="153" y="540.8" font-size="9.45" text-anchor="middle" fill="#262626"><tspan font-style="italic" font-size="10.1">log</tspan><tspan font-size="7.1" dy="2.3" dx="0.3">2</tspan><tspan dy="-2.3" dx="0.4">fold change in expression (normal transcript)</tspan></text>
<text transform="translate(14.9,403.2) rotate(-90)" font-size="9.45" text-anchor="middle" fill="#262626"><tspan font-style="italic" font-size="10.1">log</tspan><tspan font-size="7.1" dy="2.3" dx="0.3">2</tspan><tspan dy="-2.3" dx="0.4">fold change in expression (cancer transcript)</tspan></text>
<text x="5.50" y="290.60" font-size="14.4" text-anchor="start" font-weight="bold" fill="#111">C</text>
<line x1="310.5" x2="421.5" y1="325.70" y2="325.70" stroke="#dadada" stroke-width="1"/>
<line x1="310.5" x2="421.5" y1="358.00" y2="358.00" stroke="#dadada" stroke-width="1"/>
<line x1="310.5" x2="421.5" y1="390.30" y2="390.30" stroke="#dadada" stroke-width="1"/>
<line x1="310.5" x2="421.5" y1="422.60" y2="422.60" stroke="#dadada" stroke-width="1"/>
<line x1="310.5" x2="421.5" y1="454.90" y2="454.90" stroke="#dadada" stroke-width="1"/>
<line x1="310.5" x2="421.5" y1="487.20" y2="487.20" stroke="#dadada" stroke-width="1"/>
<rect x="310.5" y="293.4" width="111.00" height="219.90" fill="none" stroke="#dadada" stroke-width="1"/>
<line x1="431.6" x2="542.3" y1="325.70" y2="325.70" stroke="#dadada" stroke-width="1"/>
<line x1="431.6" x2="542.3" y1="358.00" y2="358.00" stroke="#dadada" stroke-width="1"/>
<line x1="431.6" x2="542.3" y1="390.30" y2="390.30" stroke="#dadada" stroke-width="1"/>
<line x1="431.6" x2="542.3" y1="422.60" y2="422.60" stroke="#dadada" stroke-width="1"/>
<line x1="431.6" x2="542.3" y1="454.90" y2="454.90" stroke="#dadada" stroke-width="1"/>
<line x1="431.6" x2="542.3" y1="487.20" y2="487.20" stroke="#dadada" stroke-width="1"/>
<rect x="431.6" y="293.4" width="110.70" height="219.90" fill="none" stroke="#dadada" stroke-width="1"/>
<line x1="338.25" x2="338.25" y1="406.45" y2="432.29" stroke="#333333" stroke-width="1.35"/>
<line x1="338.25" x2="338.25" y1="460.23" y2="502.87" stroke="#333333" stroke-width="1.35"/>
<line x1="331.31" x2="345.19" y1="406.45" y2="406.45" stroke="#333333" stroke-width="1.35"/>
<line x1="331.31" x2="345.19" y1="502.87" y2="502.87" stroke="#333333" stroke-width="1.35"/>
<rect x="324.38" y="432.29" width="27.75" height="27.94" fill="#1b9e77" stroke="#333333" stroke-width="1.35"/>
<line x1="324.38" x2="352.12" y1="444.40" y2="444.40" stroke="#333333" stroke-width="1.35"/>
<text x="338.25" y="526.70" font-size="9.45" text-anchor="middle" font-weight="normal" fill="#262626">Normal</text>
<text x="338.25" y="536.50" font-size="9.45" text-anchor="middle" font-weight="normal" fill="#262626">transcripts</text>
<line x1="393.75" x2="393.75" y1="390.30" y2="396.44" stroke="#333333" stroke-width="1.35"/>
<line x1="393.75" x2="393.75" y1="415.66" y2="444.40" stroke="#333333" stroke-width="1.35"/>
<line x1="386.81" x2="400.69" y1="390.30" y2="390.30" stroke="#333333" stroke-width="1.35"/>
<line x1="386.81" x2="400.69" y1="444.40" y2="444.40" stroke="#333333" stroke-width="1.35"/>
<rect x="379.88" y="396.44" width="27.75" height="19.22" fill="#d95f02" stroke="#333333" stroke-width="1.35"/>
<line x1="379.88" x2="407.62" y1="403.87" y2="403.87" stroke="#333333" stroke-width="1.35"/>
<text x="393.75" y="526.70" font-size="9.45" text-anchor="middle" font-weight="normal" fill="#262626">Cancer</text>
<text x="393.75" y="536.50" font-size="9.45" text-anchor="middle" font-weight="normal" fill="#262626">transcripts</text>
<text x="366.00" y="279.00" font-size="7.3" text-anchor="middle" font-weight="bold" fill="#262626">Switches where both transcripts</text>
<text x="366.00" y="287.50" font-size="7.3" text-anchor="middle" font-weight="bold" fill="#262626">decrease their expression</text>
<line x1="459.27" x2="459.27" y1="379.48" y2="382.87" stroke="#333333" stroke-width="1.35"/>
<line x1="459.27" x2="459.27" y1="389.17" y2="390.46" stroke="#333333" stroke-width="1.35"/>
<line x1="452.36" x2="466.19" y1="379.48" y2="379.48" stroke="#333333" stroke-width="1.35"/>
<line x1="452.36" x2="466.19" y1="390.46" y2="390.46" stroke="#333333" stroke-width="1.35"/>
<rect x="445.44" y="382.87" width="27.67" height="6.30" fill="#1b9e77" stroke="#333333" stroke-width="1.35"/>
<line x1="445.44" x2="473.11" y1="386.59" y2="386.59" stroke="#333333" stroke-width="1.35"/>
<text x="459.27" y="526.70" font-size="9.45" text-anchor="middle" font-weight="normal" fill="#262626">Normal</text>
<text x="459.27" y="536.50" font-size="9.45" text-anchor="middle" font-weight="normal" fill="#262626">transcripts</text>
<line x1="514.62" x2="514.62" y1="303.57" y2="337.65" stroke="#333333" stroke-width="1.35"/>
<line x1="514.62" x2="514.62" y1="360.75" y2="374.96" stroke="#333333" stroke-width="1.35"/>
<line x1="507.71" x2="521.54" y1="303.57" y2="303.57" stroke="#333333" stroke-width="1.35"/>
<line x1="507.71" x2="521.54" y1="374.96" y2="374.96" stroke="#333333" stroke-width="1.35"/>
<rect x="500.79" y="337.65" width="27.67" height="23.09" fill="#d95f02" stroke="#333333" stroke-width="1.35"/>
<line x1="500.79" x2="528.46" y1="348.63" y2="348.63" stroke="#333333" stroke-width="1.35"/>
<text x="514.62" y="526.70" font-size="9.45" text-anchor="middle" font-weight="normal" fill="#262626">Cancer</text>
<text x="514.62" y="536.50" font-size="9.45" text-anchor="middle" font-weight="normal" fill="#262626">transcripts</text>
<text x="486.95" y="279.00" font-size="7.3" text-anchor="middle" font-weight="bold" fill="#262626">Switches where both transcripts</text>
<text x="486.95" y="287.50" font-size="7.3" text-anchor="middle" font-weight="bold" fill="#262626">increase their expression</text>
<text x="304.20" y="296.80" font-size="9.4" text-anchor="end" font-weight="normal" fill="#262626">6</text>
<text x="304.20" y="329.10" font-size="9.4" text-anchor="end" font-weight="normal" fill="#262626">4</text>
<text x="304.20" y="361.40" font-size="9.4" text-anchor="end" font-weight="normal" fill="#262626">2</text>
<text x="304.20" y="393.70" font-size="9.4" text-anchor="end" font-weight="normal" fill="#262626">0</text>
<text x="304.20" y="426.00" font-size="9.4" text-anchor="end" font-weight="normal" fill="#262626">−2</text>
<text x="304.20" y="458.30" font-size="9.4" text-anchor="end" font-weight="normal" fill="#262626">−4</text>
<text x="304.20" y="490.60" font-size="9.4" text-anchor="end" font-weight="normal" fill="#262626">−6</text>
<text transform="translate(290.0,400.6) rotate(-90)" font-size="9.45" text-anchor="middle" fill="#262626"><tspan font-style="italic" font-size="10.1">log</tspan><tspan font-size="7.1" dy="2.3" dx="0.3">2</tspan><tspan dy="-2.3" dx="0.4">fold change in transcript expression</tspan></text>
<text x="276.90" y="289.80" font-size="14.4" text-anchor="start" font-weight="bold" fill="#111">D</text>
</svg></body></html>
